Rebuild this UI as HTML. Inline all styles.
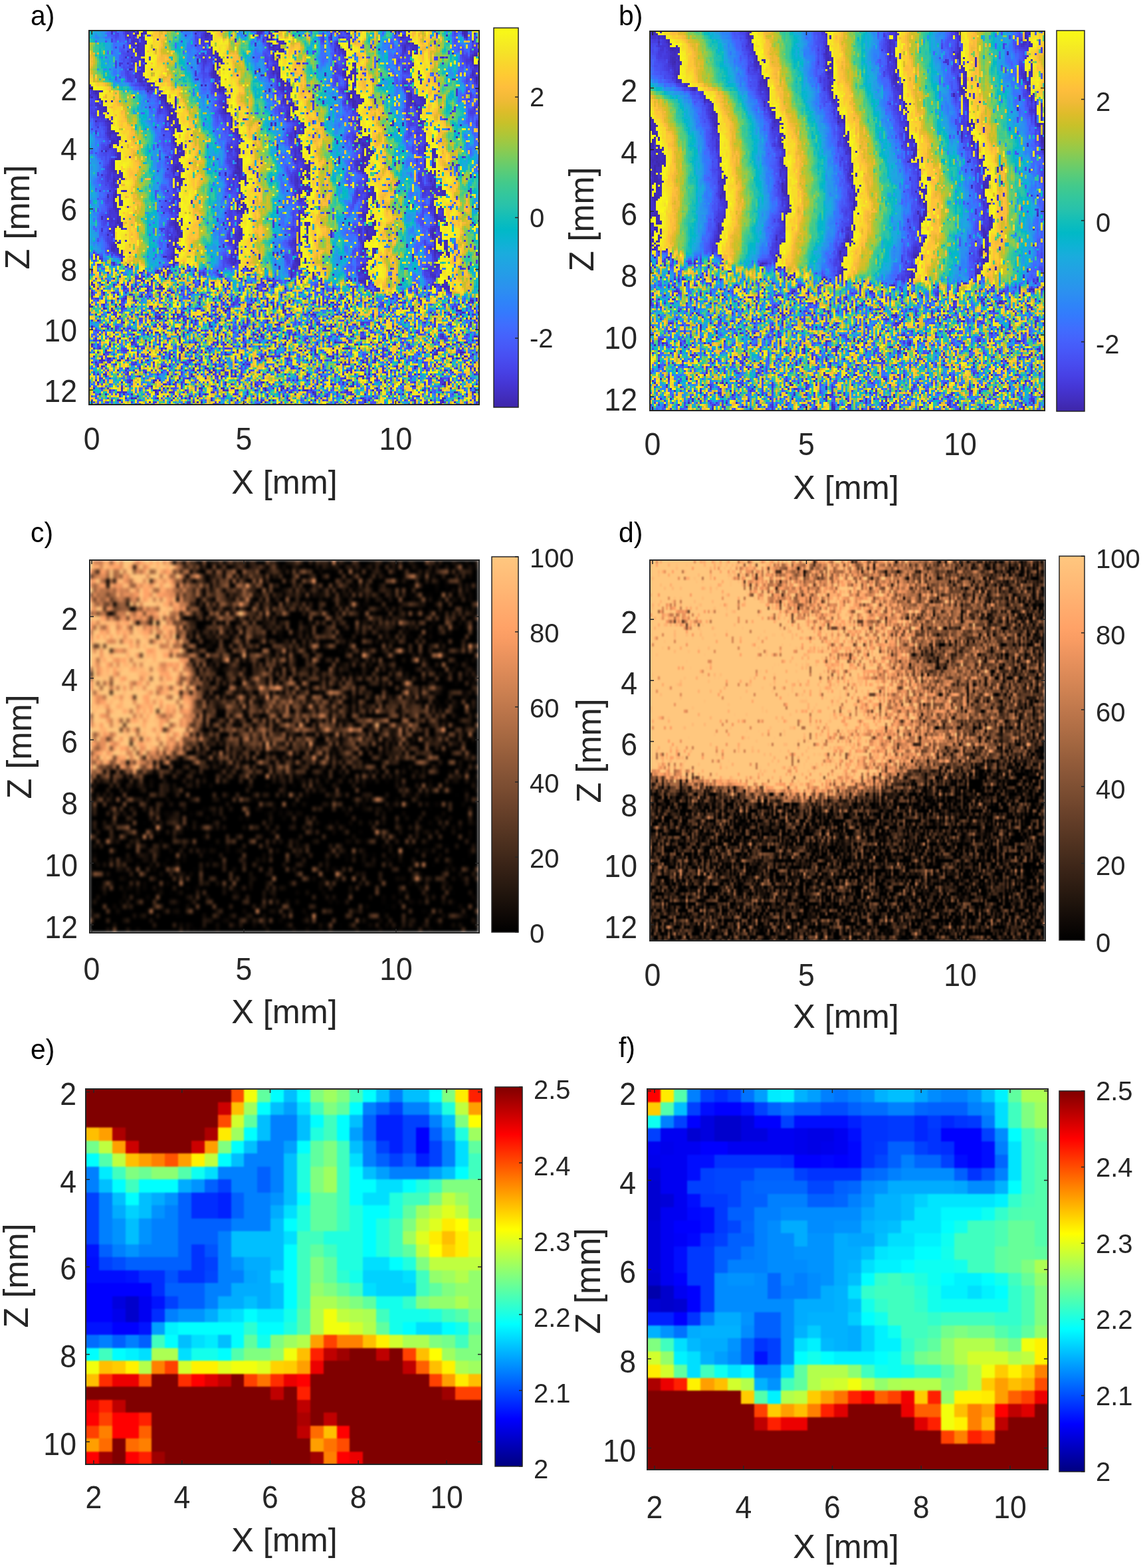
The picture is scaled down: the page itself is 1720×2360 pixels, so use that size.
<!DOCTYPE html>
<html lang="en"><head><meta charset="utf-8"><title>Figure</title>
<style>
html,body{margin:0;padding:0;background:#fff}
body{width:1720px;height:2360px;overflow:hidden}
svg{display:block;font-family:'Liberation Sans', Arial, Helvetica, sans-serif}
.bd rect{height:6px}
</style></head><body>
<svg width="1720" height="2360" viewBox="0 0 1720 2360">
<defs>
<linearGradient id="cb_parula" x1="0" y1="0" x2="0" y2="1"><stop offset="0" stop-color="#f9fb15"/><stop offset="0.03125" stop-color="#f6ef20"/><stop offset="0.0625" stop-color="#f5e327"/><stop offset="0.09375" stop-color="#f9d62d"/><stop offset="0.125" stop-color="#feca33"/><stop offset="0.1562" stop-color="#febe3c"/><stop offset="0.1875" stop-color="#f1ba37"/><stop offset="0.2188" stop-color="#debc2a"/><stop offset="0.25" stop-color="#c8c129"/><stop offset="0.2812" stop-color="#afc637"/><stop offset="0.3125" stop-color="#94ca4a"/><stop offset="0.3438" stop-color="#77cc60"/><stop offset="0.375" stop-color="#5ccc76"/><stop offset="0.4062" stop-color="#44ca8a"/><stop offset="0.4375" stop-color="#34c79c"/><stop offset="0.4688" stop-color="#28c2ab"/><stop offset="0.5" stop-color="#12beb9"/><stop offset="0.5312" stop-color="#01b9c6"/><stop offset="0.5625" stop-color="#0cb3d3"/><stop offset="0.5938" stop-color="#1aacdd"/><stop offset="0.625" stop-color="#21a3e3"/><stop offset="0.6562" stop-color="#269ae9"/><stop offset="0.6875" stop-color="#2c90f0"/><stop offset="0.7188" stop-color="#2e85f8"/><stop offset="0.75" stop-color="#347afd"/><stop offset="0.7812" stop-color="#3f6efe"/><stop offset="0.8125" stop-color="#4562fc"/><stop offset="0.8438" stop-color="#4757f7"/><stop offset="0.875" stop-color="#484cef"/><stop offset="0.9062" stop-color="#4741e5"/><stop offset="0.9375" stop-color="#4536d5"/><stop offset="0.9688" stop-color="#422ebf"/><stop offset="1" stop-color="#3e26a8"/></linearGradient>
<linearGradient id="cb_copper" x1="0" y1="0" x2="0" y2="1"><stop offset="0" stop-color="#ffc77f"/><stop offset="0.03125" stop-color="#ffc17b"/><stop offset="0.0625" stop-color="#ffbb77"/><stop offset="0.09375" stop-color="#ffb573"/><stop offset="0.125" stop-color="#ffae6f"/><stop offset="0.1562" stop-color="#ffa86b"/><stop offset="0.1875" stop-color="#ffa267"/><stop offset="0.2188" stop-color="#f99c63"/><stop offset="0.25" stop-color="#ef955f"/><stop offset="0.2812" stop-color="#e58f5b"/><stop offset="0.3125" stop-color="#db8957"/><stop offset="0.3438" stop-color="#d18353"/><stop offset="0.375" stop-color="#c77d4f"/><stop offset="0.4062" stop-color="#bd764b"/><stop offset="0.4375" stop-color="#b37047"/><stop offset="0.4688" stop-color="#a96a43"/><stop offset="0.5" stop-color="#9f643f"/><stop offset="0.5312" stop-color="#955d3b"/><stop offset="0.5625" stop-color="#8b5738"/><stop offset="0.5938" stop-color="#815134"/><stop offset="0.625" stop-color="#784b30"/><stop offset="0.6562" stop-color="#6e442c"/><stop offset="0.6875" stop-color="#643e28"/><stop offset="0.7188" stop-color="#5a3824"/><stop offset="0.75" stop-color="#503220"/><stop offset="0.7812" stop-color="#462c1c"/><stop offset="0.8125" stop-color="#3c2518"/><stop offset="0.8438" stop-color="#321f14"/><stop offset="0.875" stop-color="#281910"/><stop offset="0.9062" stop-color="#1e130c"/><stop offset="0.9375" stop-color="#140c08"/><stop offset="0.9688" stop-color="#0a0604"/><stop offset="1" stop-color="#000000"/></linearGradient>
<linearGradient id="cb_jet" x1="0" y1="0" x2="0" y2="1"><stop offset="0" stop-color="#800000"/><stop offset="0.03125" stop-color="#9f0000"/><stop offset="0.0625" stop-color="#bf0000"/><stop offset="0.09375" stop-color="#df0000"/><stop offset="0.125" stop-color="#ff0000"/><stop offset="0.1562" stop-color="#ff2000"/><stop offset="0.1875" stop-color="#ff4000"/><stop offset="0.2188" stop-color="#ff6000"/><stop offset="0.25" stop-color="#ff8000"/><stop offset="0.2812" stop-color="#ff9f00"/><stop offset="0.3125" stop-color="#ffbf00"/><stop offset="0.3438" stop-color="#ffdf00"/><stop offset="0.375" stop-color="#ffff00"/><stop offset="0.4062" stop-color="#dfff20"/><stop offset="0.4375" stop-color="#bfff40"/><stop offset="0.4688" stop-color="#9fff60"/><stop offset="0.5" stop-color="#80ff80"/><stop offset="0.5312" stop-color="#60ff9f"/><stop offset="0.5625" stop-color="#40ffbf"/><stop offset="0.5938" stop-color="#20ffdf"/><stop offset="0.625" stop-color="#00ffff"/><stop offset="0.6562" stop-color="#00dfff"/><stop offset="0.6875" stop-color="#00bfff"/><stop offset="0.7188" stop-color="#009fff"/><stop offset="0.75" stop-color="#0080ff"/><stop offset="0.7812" stop-color="#0060ff"/><stop offset="0.8125" stop-color="#0040ff"/><stop offset="0.8438" stop-color="#0020ff"/><stop offset="0.875" stop-color="#0000ff"/><stop offset="0.9062" stop-color="#0000df"/><stop offset="0.9375" stop-color="#0000bf"/><stop offset="0.9688" stop-color="#00009f"/><stop offset="1" stop-color="#000080"/></linearGradient>
<linearGradient id="ramp" x1="0" y1="0" x2="1" y2="0"><stop offset="0" stop-color="#f00"/><stop offset="1" stop-color="#000"/></linearGradient>
<linearGradient id="rampA" x1="0" y1="0" x2="1" y2="0"><stop offset="0" stop-color="#f00"/><stop offset="1" stop-color="#800000"/></linearGradient>
<linearGradient id="rampB" x1="0" y1="0" x2="1" y2="0"><stop offset="0" stop-color="#800000"/><stop offset="1" stop-color="#000"/></linearGradient>
<filter id="blur12" x="-20%" y="-20%" width="140%" height="140%" color-interpolation-filters="sRGB"><feGaussianBlur stdDeviation="12"/></filter>
<filter id="blur6" x="-20%" y="-20%" width="140%" height="140%" color-interpolation-filters="sRGB"><feGaussianBlur stdDeviation="6"/></filter>
<linearGradient id="sg1" gradientUnits="userSpaceOnUse" x1="134" y1="0" x2="721" y2="0"><stop offset="0" stop-color="#000f40"/><stop offset="0.35" stop-color="#001480"/><stop offset="0.6" stop-color="#001acc"/><stop offset="1" stop-color="#001fe6"/></linearGradient>
<filter id="fa" filterUnits="userSpaceOnUse" x="134" y="46" width="587" height="563" color-interpolation-filters="sRGB">
<feTurbulence type="fractalNoise" baseFrequency="0.3 0.12" numOctaves="1" seed="3" result="t1"/>
<feTurbulence type="fractalNoise" baseFrequency="0.1 0.05" numOctaves="2" seed="8" result="t2"/>
<feComposite in="t1" in2="t2" operator="arithmetic" k1="0" k2="0.18" k3="0.82" k4="0"/>
<feColorMatrix type="matrix" values="1 0 0 0 0 1 0 0 0 0 1 0 0 0 0 0 0 0 0 1"/>
<feComponentTransfer result="n"><feFuncR type="table" tableValues="0 0 0 0 0 0 0 0 0 0 0 0 0 0 .001 .002 .003 .006 .01 .017 .026 .04 .057 .078 .105 .136 .173 .215 .262 .315 .372 .434 .492 .565 .626 .683 .735 .782 .824 .861 .892 .918 .94 .958 .971 .981 .988 .993 .996 .998 .999 .999 1 1 1 1 1 1 1 1 1 1 1 1 1"/><feFuncG type="table" tableValues="0 0 0 0 0 0 0 0 0 0 0 0 0 0 .001 .002 .003 .006 .01 .017 .026 .04 .057 .078 .105 .136 .173 .215 .262 .315 .372 .434 .492 .565 .626 .683 .735 .782 .824 .861 .892 .918 .94 .958 .971 .981 .988 .993 .996 .998 .999 .999 1 1 1 1 1 1 1 1 1 1 1 1 1"/><feFuncB type="table" tableValues="0 0 0 0 0 0 0 0 0 0 0 0 0 0 .001 .002 .003 .006 .01 .017 .026 .04 .057 .078 .105 .136 .173 .215 .262 .315 .372 .434 .492 .565 .626 .683 .735 .782 .824 .861 .892 .918 .94 .958 .971 .981 .988 .993 .996 .998 .999 .999 1 1 1 1 1 1 1 1 1 1 1 1 1"/></feComponentTransfer>
<feColorMatrix in="t1" type="matrix" values="0 1 0 0 0 0 1 0 0 0 0 1 0 0 0 0 0 0 0 1"/>
<feComponentTransfer result="o"><feFuncR type="discrete" tableValues="0 0 0 0 0 0 0 0 0 0 0 0 0 0 0 0 0 0 0 0 0 0 .5 .5 .5 .5 .5 .5 .5 .5 .5 .5 .5 .5 .5 .5 .5 .5 .5 .5 .5 .5 .5 .5 1 1 1 1 1 1 1 1 1 1 1 1 1 1 1 1 1 1 1 1 1"/><feFuncG type="discrete" tableValues="0 0 0 0 0 0 0 0 0 0 0 0 0 0 0 0 0 0 0 0 0 0 .5 .5 .5 .5 .5 .5 .5 .5 .5 .5 .5 .5 .5 .5 .5 .5 .5 .5 .5 .5 .5 .5 1 1 1 1 1 1 1 1 1 1 1 1 1 1 1 1 1 1 1 1 1"/><feFuncB type="discrete" tableValues="0 0 0 0 0 0 0 0 0 0 0 0 0 0 0 0 0 0 0 0 0 0 .5 .5 .5 .5 .5 .5 .5 .5 .5 .5 .5 .5 .5 .5 .5 .5 .5 .5 .5 .5 .5 .5 1 1 1 1 1 1 1 1 1 1 1 1 1 1 1 1 1 1 1 1 1"/></feComponentTransfer>
<feColorMatrix in="SourceGraphic" type="matrix" values="1 0 0 0 0 1 0 0 0 0 1 0 0 0 0 0 0 0 0 1" result="ph"/>
<feColorMatrix in="SourceGraphic" type="matrix" values="0 1 0 0 0 0 1 0 0 0 0 1 0 0 0 0 0 0 0 1" result="sg"/>
<feColorMatrix in="SourceGraphic" type="matrix" values="0 0 1 0 0 0 0 1 0 0 0 0 1 0 0 0 0 0 0 1" result="om"/>
<feComposite in="n" in2="sg" operator="arithmetic" k1="1" k2="0" k3="-0.5" k4="0.5" result="ns"/>
<feComposite in="o" in2="om" operator="arithmetic" k1="1" k2="0" k3="-0.5" k4="0.5" result="os"/>
<feComposite in="ph" in2="ns" operator="arithmetic" k1="0" k2="0.25" k3="0.5" k4="0.125" result="u1"/>
<feComposite in="u1" in2="os" operator="arithmetic" k1="0" k2="1" k3="0.25" k4="-0.125"/>
<feComponentTransfer result="col"><feFuncR type="discrete" tableValues=".107 .163 .198 .236 .294 .365 .439 .519 .594 .665 .731 .79 .843 .89 .93 .965 .99 .997 .996 .993 .987 .979 .971 .965 .961 .96 .96 .962 .964 .968 .971 .975 .244 .248 .252 .256 .26 .264 .267 .271 .274 .276 .278 .28 .281 .281 .281 .279 .275 .267 .255 .233 .205 .185 .178 .173 .158 .145 .131 .112 .086 .037 .004 .035 .107 .163 .198 .236 .294 .365 .439 .519 .594 .665 .731 .79 .843 .89 .93 .965 .99 .997 .996 .993 .987 .979 .971 .965 .961 .96 .96 .962 .964 .968 .971 .975 .244 .248 .252 .256 .26 .264 .267 .271 .274 .276 .278 .28 .281 .281 .281 .279 .275 .267 .255 .233 .205 .185 .178 .173 .158 .145 .131 .112 .086 .037 .004 .035 .107 .163 .198 .236 .294 .365 .439 .519 .594 .665 .731 .79 .843 .89 .93 .965 .99 .997 .996 .993 .987 .979 .971 .965 .961 .96 .96 .962 .964 .968 .971 .975 .244 .248 .252 .256 .26 .264 .267 .271 .274 .276 .278 .28 .281 .281 .281 .279 .275 .267 .255 .233 .205 .185 .178 .173 .158 .145 .131 .112 .086 .037 .004 .035 .107 .163 .198 .236 .294 .365 .439 .519 .594 .665 .731 .79 .843 .89 .93 .965 .99 .997 .996 .993 .987 .979 .971 .965 .961 .96 .96 .962 .964 .968 .971 .975 .244 .248 .252 .256 .26 .264 .267 .271 .274 .276 .278 .28 .281 .281 .281 .279 .275 .267 .255 .233 .205 .185 .178 .173 .158 .145 .131 .112 .086 .037 .004 .035"/><feFuncG type="discrete" tableValues=".752 .765 .777 .789 .798 .802 .802 .798 .79 .78 .768 .756 .745 .736 .73 .73 .74 .759 .779 .799 .819 .838 .856 .873 .889 .903 .917 .93 .943 .955 .967 .978 .154 .161 .169 .178 .186 .195 .205 .215 .227 .241 .257 .273 .291 .31 .33 .35 .372 .395 .42 .447 .476 .504 .531 .558 .585 .611 .637 .662 .685 .706 .723 .739 .752 .765 .777 .789 .798 .802 .802 .798 .79 .78 .768 .756 .745 .736 .73 .73 .74 .759 .779 .799 .819 .838 .856 .873 .889 .903 .917 .93 .943 .955 .967 .978 .154 .161 .169 .178 .186 .195 .205 .215 .227 .241 .257 .273 .291 .31 .33 .35 .372 .395 .42 .447 .476 .504 .531 .558 .585 .611 .637 .662 .685 .706 .723 .739 .752 .765 .777 .789 .798 .802 .802 .798 .79 .78 .768 .756 .745 .736 .73 .73 .74 .759 .779 .799 .819 .838 .856 .873 .889 .903 .917 .93 .943 .955 .967 .978 .154 .161 .169 .178 .186 .195 .205 .215 .227 .241 .257 .273 .291 .31 .33 .35 .372 .395 .42 .447 .476 .504 .531 .558 .585 .611 .637 .662 .685 .706 .723 .739 .752 .765 .777 .789 .798 .802 .802 .798 .79 .78 .768 .756 .745 .736 .73 .73 .74 .759 .779 .799 .819 .838 .856 .873 .889 .903 .917 .93 .943 .955 .967 .978 .154 .161 .169 .178 .186 .195 .205 .215 .227 .241 .257 .273 .291 .31 .33 .35 .372 .395 .42 .447 .476 .504 .531 .558 .585 .611 .637 .662 .685 .706 .723 .739"/><feFuncB type="discrete" tableValues=".705 .664 .619 .57 .516 .458 .396 .337 .279 .227 .187 .161 .157 .171 .201 .232 .238 .225 .21 .197 .186 .177 .168 .161 .154 .147 .14 .131 .122 .111 .1 .087 .672 .695 .718 .741 .764 .788 .812 .837 .859 .88 .9 .917 .933 .948 .962 .975 .985 .992 .996 .998 .992 .981 .966 .945 .925 .907 .893 .877 .852 .82 .784 .746 .705 .664 .619 .57 .516 .458 .396 .337 .279 .227 .187 .161 .157 .171 .201 .232 .238 .225 .21 .197 .186 .177 .168 .161 .154 .147 .14 .131 .122 .111 .1 .087 .672 .695 .718 .741 .764 .788 .812 .837 .859 .88 .9 .917 .933 .948 .962 .975 .985 .992 .996 .998 .992 .981 .966 .945 .925 .907 .893 .877 .852 .82 .784 .746 .705 .664 .619 .57 .516 .458 .396 .337 .279 .227 .187 .161 .157 .171 .201 .232 .238 .225 .21 .197 .186 .177 .168 .161 .154 .147 .14 .131 .122 .111 .1 .087 .672 .695 .718 .741 .764 .788 .812 .837 .859 .88 .9 .917 .933 .948 .962 .975 .985 .992 .996 .998 .992 .981 .966 .945 .925 .907 .893 .877 .852 .82 .784 .746 .705 .664 .619 .57 .516 .458 .396 .337 .279 .227 .187 .161 .157 .171 .201 .232 .238 .225 .21 .197 .186 .177 .168 .161 .154 .147 .14 .131 .122 .111 .1 .087 .672 .695 .718 .741 .764 .788 .812 .837 .859 .88 .9 .917 .933 .948 .962 .975 .985 .992 .996 .998 .992 .981 .966 .945 .925 .907 .893 .877 .852 .82 .784 .746"/></feComponentTransfer>
<feFlood x="135" y="47" width="1" height="1" flood-color="#000"/>
<feOffset x="134" y="46" width="3" height="3"/>
<feTile result="dots"/>
<feComposite in="col" in2="dots" operator="in"/>
<feMorphology operator="dilate" radius="1 1"/>
</filter>
<clipPath id="clipa"><rect x="134" y="46" width="587" height="563"/></clipPath>
<linearGradient id="sg2" gradientUnits="userSpaceOnUse" x1="978" y1="0" x2="1572" y2="0"><stop offset="0" stop-color="#00080d"/><stop offset="0.5" stop-color="#000a1a"/><stop offset="0.8" stop-color="#000f59"/><stop offset="1" stop-color="#001499"/></linearGradient>
<filter id="fb" filterUnits="userSpaceOnUse" x="978" y="47" width="594" height="571" color-interpolation-filters="sRGB">
<feTurbulence type="fractalNoise" baseFrequency="0.3 0.08" numOctaves="1" seed="11" result="t1"/>
<feTurbulence type="fractalNoise" baseFrequency="0.12 0.04" numOctaves="2" seed="16" result="t2"/>
<feComposite in="t1" in2="t2" operator="arithmetic" k1="0" k2="0.25" k3="0.75" k4="0"/>
<feColorMatrix type="matrix" values="1 0 0 0 0 1 0 0 0 0 1 0 0 0 0 0 0 0 0 1"/>
<feComponentTransfer result="n"><feFuncR type="table" tableValues="0 0 0 0 0 0 0 0 0 0 0 0 0 0 .001 .001 .003 .005 .009 .014 .024 .035 .051 .071 .095 .125 .161 .203 .251 .306 .366 .431 .491 .569 .633 .692 .745 .792 .834 .87 .9 .926 .947 .963 .976 .985 .991 .995 .997 .999 .999 1 1 1 1 1 1 1 1 1 1 1 1 1 1"/><feFuncG type="table" tableValues="0 0 0 0 0 0 0 0 0 0 0 0 0 0 .001 .001 .003 .005 .009 .014 .024 .035 .051 .071 .095 .125 .161 .203 .251 .306 .366 .431 .491 .569 .633 .692 .745 .792 .834 .87 .9 .926 .947 .963 .976 .985 .991 .995 .997 .999 .999 1 1 1 1 1 1 1 1 1 1 1 1 1 1"/><feFuncB type="table" tableValues="0 0 0 0 0 0 0 0 0 0 0 0 0 0 .001 .001 .003 .005 .009 .014 .024 .035 .051 .071 .095 .125 .161 .203 .251 .306 .366 .431 .491 .569 .633 .692 .745 .792 .834 .87 .9 .926 .947 .963 .976 .985 .991 .995 .997 .999 .999 1 1 1 1 1 1 1 1 1 1 1 1 1 1"/></feComponentTransfer>
<feColorMatrix in="t1" type="matrix" values="0 1 0 0 0 0 1 0 0 0 0 1 0 0 0 0 0 0 0 1"/>
<feComponentTransfer result="o"><feFuncR type="discrete" tableValues="0 0 0 0 0 0 0 0 0 0 0 0 0 0 0 0 0 0 0 0 0 0 .5 .5 .5 .5 .5 .5 .5 .5 .5 .5 .5 .5 .5 .5 .5 .5 .5 .5 .5 .5 .5 1 1 1 1 1 1 1 1 1 1 1 1 1 1 1 1 1 1 1 1 1 1"/><feFuncG type="discrete" tableValues="0 0 0 0 0 0 0 0 0 0 0 0 0 0 0 0 0 0 0 0 0 0 .5 .5 .5 .5 .5 .5 .5 .5 .5 .5 .5 .5 .5 .5 .5 .5 .5 .5 .5 .5 .5 1 1 1 1 1 1 1 1 1 1 1 1 1 1 1 1 1 1 1 1 1 1"/><feFuncB type="discrete" tableValues="0 0 0 0 0 0 0 0 0 0 0 0 0 0 0 0 0 0 0 0 0 0 .5 .5 .5 .5 .5 .5 .5 .5 .5 .5 .5 .5 .5 .5 .5 .5 .5 .5 .5 .5 .5 1 1 1 1 1 1 1 1 1 1 1 1 1 1 1 1 1 1 1 1 1 1"/></feComponentTransfer>
<feColorMatrix in="SourceGraphic" type="matrix" values="1 0 0 0 0 1 0 0 0 0 1 0 0 0 0 0 0 0 0 1" result="ph"/>
<feColorMatrix in="SourceGraphic" type="matrix" values="0 1 0 0 0 0 1 0 0 0 0 1 0 0 0 0 0 0 0 1" result="sg"/>
<feColorMatrix in="SourceGraphic" type="matrix" values="0 0 1 0 0 0 0 1 0 0 0 0 1 0 0 0 0 0 0 1" result="om"/>
<feComposite in="n" in2="sg" operator="arithmetic" k1="1" k2="0" k3="-0.5" k4="0.5" result="ns"/>
<feComposite in="o" in2="om" operator="arithmetic" k1="1" k2="0" k3="-0.5" k4="0.5" result="os"/>
<feComposite in="ph" in2="ns" operator="arithmetic" k1="0" k2="0.25" k3="0.5" k4="0.125" result="u1"/>
<feComposite in="u1" in2="os" operator="arithmetic" k1="0" k2="1" k3="0.25" k4="-0.125"/>
<feComponentTransfer result="col"><feFuncR type="discrete" tableValues=".099 .147 .179 .204 .234 .277 .33 .386 .445 .508 .569 .627 .684 .737 .786 .832 .873 .911 .945 .975 .996 .997 .995 .991 .983 .973 .965 .961 .96 .963 .967 .974 .246 .252 .258 .264 .269 .273 .277 .279 .281 .281 .281 .28 .276 .271 .262 .248 .227 .203 .187 .18 .177 .17 .155 .146 .137 .122 .106 .084 .047 .012 .006 .041 .099 .147 .179 .204 .234 .277 .33 .386 .445 .508 .569 .627 .684 .737 .786 .832 .873 .911 .945 .975 .996 .997 .995 .991 .983 .973 .965 .961 .96 .963 .967 .974 .246 .252 .258 .264 .269 .273 .277 .279 .281 .281 .281 .28 .276 .271 .262 .248 .227 .203 .187 .18 .177 .17 .155 .146 .137 .122 .106 .084 .047 .012 .006 .041 .099 .147 .179 .204 .234 .277 .33 .386 .445 .508 .569 .627 .684 .737 .786 .832 .873 .911 .945 .975 .996 .997 .995 .991 .983 .973 .965 .961 .96 .963 .967 .974 .246 .252 .258 .264 .269 .273 .277 .279 .281 .281 .281 .28 .276 .271 .262 .248 .227 .203 .187 .18 .177 .17 .155 .146 .137 .122 .106 .084 .047 .012 .006 .041 .099 .147 .179 .204 .234 .277 .33 .386 .445 .508 .569 .627 .684 .737 .786 .832 .873 .911 .945 .975 .996 .997 .995 .991 .983 .973 .965 .961 .96 .963 .967 .974 .246 .252 .258 .264 .269 .273 .277 .279 .281 .281 .281 .28 .276 .271 .262 .248 .227 .203 .187 .18 .177 .17 .155 .146 .137 .122 .106 .084 .047 .012 .006 .041"/><feFuncG type="discrete" tableValues=".751 .76 .77 .78 .789 .796 .8 .803 .802 .799 .793 .786 .777 .767 .757 .747 .739 .732 .729 .731 .744 .765 .786 .807 .829 .851 .873 .894 .915 .935 .955 .974 .157 .169 .183 .197 .211 .227 .245 .264 .284 .304 .324 .344 .364 .385 .407 .43 .454 .478 .502 .524 .546 .568 .589 .609 .63 .65 .669 .686 .702 .716 .729 .74 .751 .76 .77 .78 .789 .796 .8 .803 .802 .799 .793 .786 .777 .767 .757 .747 .739 .732 .729 .731 .744 .765 .786 .807 .829 .851 .873 .894 .915 .935 .955 .974 .157 .169 .183 .197 .211 .227 .245 .264 .284 .304 .324 .344 .364 .385 .407 .43 .454 .478 .502 .524 .546 .568 .589 .609 .63 .65 .669 .686 .702 .716 .729 .74 .751 .76 .77 .78 .789 .796 .8 .803 .802 .799 .793 .786 .777 .767 .757 .747 .739 .732 .729 .731 .744 .765 .786 .807 .829 .851 .873 .894 .915 .935 .955 .974 .157 .169 .183 .197 .211 .227 .245 .264 .284 .304 .324 .344 .364 .385 .407 .43 .454 .478 .502 .524 .546 .568 .589 .609 .63 .65 .669 .686 .702 .716 .729 .74 .751 .76 .77 .78 .789 .796 .8 .803 .802 .799 .793 .786 .777 .767 .757 .747 .739 .732 .729 .731 .744 .765 .786 .807 .829 .851 .873 .894 .915 .935 .955 .974 .157 .169 .183 .197 .211 .227 .245 .264 .284 .304 .324 .344 .364 .385 .407 .43 .454 .478 .502 .524 .546 .568 .589 .609 .63 .65 .669 .686 .702 .716 .729 .74"/><feFuncB type="discrete" tableValues=".71 .679 .646 .61 .572 .531 .487 .44 .392 .345 .299 .254 .216 .184 .162 .155 .164 .184 .215 .239 .236 .221 .205 .192 .181 .17 .16 .151 .141 .128 .112 .091 .68 .719 .755 .792 .828 .859 .885 .908 .927 .944 .959 .971 .982 .989 .994 .998 .998 .991 .982 .971 .955 .938 .923 .908 .896 .886 .871 .851 .827 .8 .771 .741 .71 .679 .646 .61 .572 .531 .487 .44 .392 .345 .299 .254 .216 .184 .162 .155 .164 .184 .215 .239 .236 .221 .205 .192 .181 .17 .16 .151 .141 .128 .112 .091 .68 .719 .755 .792 .828 .859 .885 .908 .927 .944 .959 .971 .982 .989 .994 .998 .998 .991 .982 .971 .955 .938 .923 .908 .896 .886 .871 .851 .827 .8 .771 .741 .71 .679 .646 .61 .572 .531 .487 .44 .392 .345 .299 .254 .216 .184 .162 .155 .164 .184 .215 .239 .236 .221 .205 .192 .181 .17 .16 .151 .141 .128 .112 .091 .68 .719 .755 .792 .828 .859 .885 .908 .927 .944 .959 .971 .982 .989 .994 .998 .998 .991 .982 .971 .955 .938 .923 .908 .896 .886 .871 .851 .827 .8 .771 .741 .71 .679 .646 .61 .572 .531 .487 .44 .392 .345 .299 .254 .216 .184 .162 .155 .164 .184 .215 .239 .236 .221 .205 .192 .181 .17 .16 .151 .141 .128 .112 .091 .68 .719 .755 .792 .828 .859 .885 .908 .927 .944 .959 .971 .982 .989 .994 .998 .998 .991 .982 .971 .955 .938 .923 .908 .896 .886 .871 .851 .827 .8 .771 .741"/></feComponentTransfer>
<feFlood x="979" y="48" width="1" height="1" flood-color="#000"/>
<feOffset x="978" y="47" width="3" height="3"/>
<feTile result="dots"/>
<feComposite in="col" in2="dots" operator="in"/>
<feMorphology operator="dilate" radius="1 1"/>
</filter>
<clipPath id="clipb"><rect x="978" y="47" width="594" height="571"/></clipPath>
<linearGradient id="lg1" gradientUnits="userSpaceOnUse" x1="135" y1="0" x2="721" y2="0"><stop offset="0" stop-color="#3d0000"/><stop offset="0.45" stop-color="#3b0000"/><stop offset="0.7" stop-color="#350000"/><stop offset="1" stop-color="#310000"/></linearGradient>
<radialGradient id="rg2" gradientUnits="userSpaceOnUse" cx="0" cy="0" r="1" gradientTransform="translate(356 902) rotate(0) scale(50 80)"><stop offset="0" stop-color="#520000" stop-opacity="1"/><stop offset="0.3" stop-color="#520000" stop-opacity="1"/><stop offset="1" stop-color="#520000" stop-opacity="0"/></radialGradient>
<radialGradient id="rg3" gradientUnits="userSpaceOnUse" cx="0" cy="0" r="1" gradientTransform="translate(420 1080) rotate(0) scale(120 100)"><stop offset="0" stop-color="#4e0000" stop-opacity="1"/><stop offset="0.3" stop-color="#4e0000" stop-opacity="1"/><stop offset="1" stop-color="#4e0000" stop-opacity="0"/></radialGradient>
<radialGradient id="rg4" gradientUnits="userSpaceOnUse" cx="0" cy="0" r="1" gradientTransform="translate(520 1090) rotate(0) scale(90 70)"><stop offset="0" stop-color="#470000" stop-opacity="1"/><stop offset="0.3" stop-color="#470000" stop-opacity="1"/><stop offset="1" stop-color="#470000" stop-opacity="0"/></radialGradient>
<radialGradient id="rg5" gradientUnits="userSpaceOnUse" cx="0" cy="0" r="1" gradientTransform="translate(610 1085) rotate(0) scale(60 65)"><stop offset="0" stop-color="#4b0000" stop-opacity="1"/><stop offset="0.3" stop-color="#4b0000" stop-opacity="1"/><stop offset="1" stop-color="#4b0000" stop-opacity="0"/></radialGradient>
<radialGradient id="rg6" gradientUnits="userSpaceOnUse" cx="0" cy="0" r="1" gradientTransform="translate(670 1095) rotate(0) scale(25 40)"><stop offset="0" stop-color="#430000" stop-opacity="1"/><stop offset="0.3" stop-color="#430000" stop-opacity="1"/><stop offset="1" stop-color="#430000" stop-opacity="0"/></radialGradient>
<radialGradient id="rg7" gradientUnits="userSpaceOnUse" cx="0" cy="0" r="1" gradientTransform="translate(292 900) rotate(0) scale(20 80)"><stop offset="0" stop-color="#330000" stop-opacity="1"/><stop offset="0.3" stop-color="#330000" stop-opacity="1"/><stop offset="1" stop-color="#330000" stop-opacity="0"/></radialGradient>
<radialGradient id="rg8" gradientUnits="userSpaceOnUse" cx="0" cy="0" r="1" gradientTransform="translate(200 1250) rotate(0) scale(120 80)"><stop offset="0" stop-color="#350000" stop-opacity="1"/><stop offset="0.3" stop-color="#350000" stop-opacity="1"/><stop offset="1" stop-color="#350000" stop-opacity="0"/></radialGradient>
<radialGradient id="rg9" gradientUnits="userSpaceOnUse" cx="0" cy="0" r="1" gradientTransform="translate(185 918) rotate(18) scale(75 20)"><stop offset="0" stop-color="#4c0000" stop-opacity="1"/><stop offset="0.5" stop-color="#4c0000" stop-opacity="1"/><stop offset="1" stop-color="#4c0000" stop-opacity="0"/></radialGradient>
<radialGradient id="rg10" gradientUnits="userSpaceOnUse" cx="0" cy="0" r="1" gradientTransform="translate(160 868) rotate(0) scale(60 35)"><stop offset="0" stop-color="#750000" stop-opacity="1"/><stop offset="0.4" stop-color="#750000" stop-opacity="1"/><stop offset="1" stop-color="#750000" stop-opacity="0"/></radialGradient>
<radialGradient id="rg11" gradientUnits="userSpaceOnUse" cx="0" cy="0" r="1" gradientTransform="translate(140 1150) rotate(0) scale(40 30)"><stop offset="0" stop-color="#6b0000" stop-opacity="1"/><stop offset="0.3" stop-color="#6b0000" stop-opacity="1"/><stop offset="1" stop-color="#6b0000" stop-opacity="0"/></radialGradient>
<radialGradient id="rg12" gradientUnits="userSpaceOnUse" cx="0" cy="0" r="1" gradientTransform="translate(283 880) rotate(0) scale(18 60)"><stop offset="0" stop-color="#660000" stop-opacity="1"/><stop offset="0.3" stop-color="#660000" stop-opacity="1"/><stop offset="1" stop-color="#660000" stop-opacity="0"/></radialGradient>
<radialGradient id="rg13" gradientUnits="userSpaceOnUse" cx="0" cy="0" r="1" gradientTransform="translate(200 1020) rotate(0) scale(40 120)"><stop offset="0" stop-color="#990000" stop-opacity="1"/><stop offset="0.3" stop-color="#990000" stop-opacity="1"/><stop offset="1" stop-color="#990000" stop-opacity="0"/></radialGradient>
<filter id="fc" filterUnits="userSpaceOnUse" x="135" y="843" width="586" height="561" color-interpolation-filters="sRGB">
<feTurbulence type="fractalNoise" baseFrequency="0.17 0.125" numOctaves="1" seed="5" result="t1"/>
<feTurbulence type="fractalNoise" baseFrequency="0.05 0.04" numOctaves="2" seed="12" result="t2"/>
<feComposite in="t1" in2="t2" operator="arithmetic" k1="0" k2="0.75" k3="0.25" k4="0"/>
<feColorMatrix type="matrix" values="1 0 0 0 0 1 0 0 0 0 1 0 0 0 0 0 0 0 0 1"/>
<feComponentTransfer result="n"><feFuncR type="table" tableValues="0 0 0 0 0 0 0 0 0 0 0 0 0 0 0 0 0 0 0 0 0 .087 .165 .222 .265 .302 .333 .363 .39 .418 .446 .473 .497 .524 .548 .572 .595 .618 .641 .664 .689 .716 .745 .778 .814 .859 .926 1 1 1 1 1 1 1 1 1 1 1 1 1 1 1 1 1 1"/><feFuncG type="table" tableValues="0 0 0 0 0 0 0 0 0 0 0 0 0 0 0 0 0 0 0 0 0 .087 .165 .222 .265 .302 .333 .363 .39 .418 .446 .473 .497 .524 .548 .572 .595 .618 .641 .664 .689 .716 .745 .778 .814 .859 .926 1 1 1 1 1 1 1 1 1 1 1 1 1 1 1 1 1 1"/><feFuncB type="table" tableValues="0 0 0 0 0 0 0 0 0 0 0 0 0 0 0 0 0 0 0 0 0 .087 .165 .222 .265 .302 .333 .363 .39 .418 .446 .473 .497 .524 .548 .572 .595 .618 .641 .664 .689 .716 .745 .778 .814 .859 .926 1 1 1 1 1 1 1 1 1 1 1 1 1 1 1 1 1 1"/></feComponentTransfer>
<feGaussianBlur in="SourceGraphic" stdDeviation="14"/>
<feColorMatrix type="matrix" values="1 0 0 0 0 1 0 0 0 0 1 0 0 0 0 0 0 0 0 1" result="L"/>
<feComposite in="L" in2="n" operator="arithmetic" k1="0" k2="0.625" k3="0.375" k4="0"/>
<feComponentTransfer result="col"><feFuncR type="discrete" tableValues="0 0 0 0 0 0 0 0 0 0 0 0 0 0 0 0 0 0 0 0 0 0 0 0 0 0 0 0 0 0 0 0 0 0 0 0 0 0 0 0 0 0 0 0 0 0 0 0 0 0 0 0 0 0 0 0 0 0 0 0 0 0 0 0 0 0 0 0 0 0 0 0 0 0 0 0 0 0 0 0 .01 .029 .049 .068 .088 .107 .127 .146 .166 .186 .205 .225 .244 .264 .283 .303 .322 .342 .361 .381 .4 .42 .439 .459 .479 .498 .518 .537 .557 .576 .596 .615 .635 .654 .674 .693 .713 .732 .752 .771 .791 .811 .83 .85 .869 .889 .908 .928 .947 .967 .986 1 1 1 1 1 1 1 1 1 1 1 1 1 1 1 1 1 1 1 1 1 1 1 1 1 1 1 1 1 1 1 1 1 1 1 1 1 1 1 1 1 1 1 1 1 1 1 1 1 1 1 1 1 1 1 1 1 1 1 1 1 1 1 1 1 1 1 1 1 1 1 1 1 1 1 1 1 1 1 1 1 1 1 1 1 1 1 1 1 1 1 1 1 1 1 1 1 1 1 1 1 1 1 1 1 1 1 1 1 1 1 1 1 1 1 1 1 1 1 1 1 1 1 1 1"/><feFuncG type="discrete" tableValues="0 0 0 0 0 0 0 0 0 0 0 0 0 0 0 0 0 0 0 0 0 0 0 0 0 0 0 0 0 0 0 0 0 0 0 0 0 0 0 0 0 0 0 0 0 0 0 0 0 0 0 0 0 0 0 0 0 0 0 0 0 0 0 0 0 0 0 0 0 0 0 0 0 0 0 0 0 0 0 0 .006 .018 .031 .043 .055 .067 .079 .092 .104 .116 .128 .14 .153 .165 .177 .189 .201 .214 .226 .238 .25 .262 .275 .287 .299 .311 .323 .336 .348 .36 .372 .384 .397 .409 .421 .433 .446 .458 .47 .482 .494 .507 .519 .531 .543 .555 .568 .58 .592 .604 .616 .629 .641 .653 .665 .677 .69 .702 .714 .726 .738 .751 .763 .775 .781 .781 .781 .781 .781 .781 .781 .781 .781 .781 .781 .781 .781 .781 .781 .781 .781 .781 .781 .781 .781 .781 .781 .781 .781 .781 .781 .781 .781 .781 .781 .781 .781 .781 .781 .781 .781 .781 .781 .781 .781 .781 .781 .781 .781 .781 .781 .781 .781 .781 .781 .781 .781 .781 .781 .781 .781 .781 .781 .781 .781 .781 .781 .781 .781 .781 .781 .781 .781 .781 .781 .781 .781 .781 .781 .781 .781 .781 .781 .781 .781 .781 .781 .781 .781 .781 .781 .781 .781 .781 .781 .781 .781 .781 .781 .781 .781 .781 .781 .781 .781 .781 .781 .781 .781 .781 .781 .781 .781 .781 .781 .781"/><feFuncB type="discrete" tableValues="0 0 0 0 0 0 0 0 0 0 0 0 0 0 0 0 0 0 0 0 0 0 0 0 0 0 0 0 0 0 0 0 0 0 0 0 0 0 0 0 0 0 0 0 0 0 0 0 0 0 0 0 0 0 0 0 0 0 0 0 0 0 0 0 0 0 0 0 0 0 0 0 0 0 0 0 0 0 0 0 .004 .012 .019 .027 .035 .043 .051 .058 .066 .074 .082 .089 .097 .105 .113 .12 .128 .136 .144 .152 .159 .167 .175 .183 .19 .198 .206 .214 .222 .229 .237 .245 .253 .26 .268 .276 .284 .292 .299 .307 .315 .323 .33 .338 .346 .354 .361 .369 .377 .385 .393 .4 .408 .416 .424 .431 .439 .447 .455 .463 .47 .478 .486 .494 .497 .497 .497 .497 .497 .497 .497 .497 .497 .497 .497 .497 .497 .497 .497 .497 .497 .497 .497 .497 .497 .497 .497 .497 .497 .497 .497 .497 .497 .497 .497 .497 .497 .497 .497 .497 .497 .497 .497 .497 .497 .497 .497 .497 .497 .497 .497 .497 .497 .497 .497 .497 .497 .497 .497 .497 .497 .497 .497 .497 .497 .497 .497 .497 .497 .497 .497 .497 .497 .497 .497 .497 .497 .497 .497 .497 .497 .497 .497 .497 .497 .497 .497 .497 .497 .497 .497 .497 .497 .497 .497 .497 .497 .497 .497 .497 .497 .497 .497 .497 .497 .497 .497 .497 .497 .497 .497 .497 .497 .497 .497 .497"/></feComponentTransfer>
<feFlood x="137" y="846" width="1" height="1" flood-color="#000"/>
<feOffset x="135" y="843" width="5" height="7"/>
<feTile result="dots"/>
<feComposite in="col" in2="dots" operator="in"/>
<feMorphology operator="dilate" radius="2 3"/>
<feGaussianBlur stdDeviation="2"/>
</filter>
<clipPath id="clipc"><rect x="135" y="843" width="586" height="561"/></clipPath>
<radialGradient id="rg14" gradientUnits="userSpaceOnUse" cx="0" cy="0" r="1" gradientTransform="translate(960 1050) rotate(0) scale(680 560)"><stop offset="0" stop-color="#ba0000"/><stop offset="0.25" stop-color="#b60000"/><stop offset="0.36" stop-color="#ab0000"/><stop offset="0.5" stop-color="#950000"/><stop offset="0.65" stop-color="#700000"/><stop offset="0.8" stop-color="#560000"/><stop offset="0.9" stop-color="#470000"/><stop offset="1" stop-color="#3b0000"/></radialGradient>
<linearGradient id="lg15" gradientUnits="userSpaceOnUse" x1="978" y1="0" x2="1573" y2="0"><stop offset="0" stop-color="#3f0000"/><stop offset="0.5" stop-color="#3d0000"/><stop offset="1" stop-color="#390000"/></linearGradient>
<radialGradient id="rg16" gradientUnits="userSpaceOnUse" cx="0" cy="0" r="1" gradientTransform="translate(1195 905) rotate(22) scale(90 28)"><stop offset="0" stop-color="#700000" stop-opacity="1"/><stop offset="0.4" stop-color="#700000" stop-opacity="1"/><stop offset="1" stop-color="#700000" stop-opacity="0"/></radialGradient>
<radialGradient id="rg17" gradientUnits="userSpaceOnUse" cx="0" cy="0" r="1" gradientTransform="translate(1215 862) rotate(10) scale(60 26)"><stop offset="0" stop-color="#660000" stop-opacity="1"/><stop offset="0.4" stop-color="#660000" stop-opacity="1"/><stop offset="1" stop-color="#660000" stop-opacity="0"/></radialGradient>
<radialGradient id="rg18" gradientUnits="userSpaceOnUse" cx="0" cy="0" r="1" gradientTransform="translate(1130 868) rotate(0) scale(35 30)"><stop offset="0" stop-color="#7a0000" stop-opacity="1"/><stop offset="0.3" stop-color="#7a0000" stop-opacity="1"/><stop offset="1" stop-color="#7a0000" stop-opacity="0"/></radialGradient>
<radialGradient id="rg19" gradientUnits="userSpaceOnUse" cx="0" cy="0" r="1" gradientTransform="translate(1265 985) rotate(0) scale(35 35)"><stop offset="0" stop-color="#800000" stop-opacity="1"/><stop offset="0.3" stop-color="#800000" stop-opacity="1"/><stop offset="1" stop-color="#800000" stop-opacity="0"/></radialGradient>
<radialGradient id="rg20" gradientUnits="userSpaceOnUse" cx="0" cy="0" r="1" gradientTransform="translate(1410 985) rotate(0) scale(55 45)"><stop offset="0" stop-color="#500000" stop-opacity="1"/><stop offset="0.3" stop-color="#500000" stop-opacity="1"/><stop offset="1" stop-color="#500000" stop-opacity="0"/></radialGradient>
<radialGradient id="rg21" gradientUnits="userSpaceOnUse" cx="0" cy="0" r="1" gradientTransform="translate(1022 928) rotate(18) scale(52 10)"><stop offset="0" stop-color="#3b0000" stop-opacity="1"/><stop offset="0.55" stop-color="#3b0000" stop-opacity="1"/><stop offset="1" stop-color="#3b0000" stop-opacity="0"/></radialGradient>
<radialGradient id="rg22" gradientUnits="userSpaceOnUse" cx="0" cy="0" r="1" gradientTransform="translate(1010 1140) rotate(-30) scale(30 14)"><stop offset="0" stop-color="#6b0000" stop-opacity="1"/><stop offset="0.5" stop-color="#6b0000" stop-opacity="1"/><stop offset="1" stop-color="#6b0000" stop-opacity="0"/></radialGradient>
<filter id="fd" filterUnits="userSpaceOnUse" x="978" y="843" width="595" height="573" color-interpolation-filters="sRGB">
<feTurbulence type="fractalNoise" baseFrequency="0.22 0.12" numOctaves="1" seed="9" result="t1"/>
<feTurbulence type="fractalNoise" baseFrequency="0.05 0.04" numOctaves="2" seed="16" result="t2"/>
<feComposite in="t1" in2="t2" operator="arithmetic" k1="0" k2="0.8" k3="0.2" k4="0"/>
<feColorMatrix type="matrix" values="1 0 0 0 0 1 0 0 0 0 1 0 0 0 0 0 0 0 0 1"/>
<feComponentTransfer result="n"><feFuncR type="table" tableValues="0 0 0 0 0 0 0 0 0 0 0 0 0 0 0 0 0 0 0 0 0 .095 .173 .226 .266 .299 .329 .358 .386 .414 .442 .471 .496 .525 .55 .576 .601 .626 .651 .676 .703 .731 .762 .797 .838 .892 .979 1 1 1 1 1 1 1 1 1 1 1 1 1 1 1 1 1 1"/><feFuncG type="table" tableValues="0 0 0 0 0 0 0 0 0 0 0 0 0 0 0 0 0 0 0 0 0 .095 .173 .226 .266 .299 .329 .358 .386 .414 .442 .471 .496 .525 .55 .576 .601 .626 .651 .676 .703 .731 .762 .797 .838 .892 .979 1 1 1 1 1 1 1 1 1 1 1 1 1 1 1 1 1 1"/><feFuncB type="table" tableValues="0 0 0 0 0 0 0 0 0 0 0 0 0 0 0 0 0 0 0 0 0 .095 .173 .226 .266 .299 .329 .358 .386 .414 .442 .471 .496 .525 .55 .576 .601 .626 .651 .676 .703 .731 .762 .797 .838 .892 .979 1 1 1 1 1 1 1 1 1 1 1 1 1 1 1 1 1 1"/></feComponentTransfer>
<feGaussianBlur in="SourceGraphic" stdDeviation="14"/>
<feColorMatrix type="matrix" values="1 0 0 0 0 1 0 0 0 0 1 0 0 0 0 0 0 0 0 1" result="L"/>
<feComposite in="L" in2="n" operator="arithmetic" k1="0" k2="0.675676" k3="0.324324" k4="0"/>
<feComponentTransfer result="col"><feFuncR type="discrete" tableValues="0 0 0 0 0 0 0 0 0 0 0 0 0 0 0 0 0 0 0 0 0 0 0 0 0 0 0 0 0 0 0 0 0 0 0 0 0 0 0 0 0 0 0 0 0 0 0 0 0 0 0 0 0 0 0 0 0 0 0 0 0 0 0 0 0 0 0 0 0 0 0 0 0 0 0 0 .007 .025 .043 .061 .079 .097 .115 .134 .152 .17 .188 .206 .224 .242 .26 .278 .296 .314 .332 .35 .368 .386 .405 .423 .441 .459 .477 .495 .513 .531 .549 .567 .585 .603 .621 .639 .657 .676 .694 .712 .73 .748 .766 .784 .802 .82 .838 .856 .874 .892 .91 .928 .947 .965 .983 1 1 1 1 1 1 1 1 1 1 1 1 1 1 1 1 1 1 1 1 1 1 1 1 1 1 1 1 1 1 1 1 1 1 1 1 1 1 1 1 1 1 1 1 1 1 1 1 1 1 1 1 1 1 1 1 1 1 1 1 1 1 1 1 1 1 1 1 1 1 1 1 1 1 1 1 1 1 1 1 1 1 1 1 1 1 1 1 1 1 1 1 1 1 1 1 1 1 1 1 1 1 1 1 1 1 1 1 1 1 1 1 1 1 1 1 1 1 1 1 1 1 1 1 1"/><feFuncG type="discrete" tableValues="0 0 0 0 0 0 0 0 0 0 0 0 0 0 0 0 0 0 0 0 0 0 0 0 0 0 0 0 0 0 0 0 0 0 0 0 0 0 0 0 0 0 0 0 0 0 0 0 0 0 0 0 0 0 0 0 0 0 0 0 0 0 0 0 0 0 0 0 0 0 0 0 0 0 0 0 .004 .016 .027 .038 .05 .061 .072 .083 .095 .106 .117 .129 .14 .151 .162 .174 .185 .196 .208 .219 .23 .242 .253 .264 .275 .287 .298 .309 .321 .332 .343 .354 .366 .377 .388 .4 .411 .422 .433 .445 .456 .467 .479 .49 .501 .513 .524 .535 .546 .558 .569 .58 .592 .603 .614 .625 .637 .648 .659 .671 .682 .693 .704 .716 .727 .738 .75 .761 .772 .781 .781 .781 .781 .781 .781 .781 .781 .781 .781 .781 .781 .781 .781 .781 .781 .781 .781 .781 .781 .781 .781 .781 .781 .781 .781 .781 .781 .781 .781 .781 .781 .781 .781 .781 .781 .781 .781 .781 .781 .781 .781 .781 .781 .781 .781 .781 .781 .781 .781 .781 .781 .781 .781 .781 .781 .781 .781 .781 .781 .781 .781 .781 .781 .781 .781 .781 .781 .781 .781 .781 .781 .781 .781 .781 .781 .781 .781 .781 .781 .781 .781 .781 .781 .781 .781 .781 .781 .781 .781 .781 .781 .781 .781 .781 .781 .781 .781 .781 .781 .781 .781 .781 .781 .781 .781 .781 .781 .781 .781 .781"/><feFuncB type="discrete" tableValues="0 0 0 0 0 0 0 0 0 0 0 0 0 0 0 0 0 0 0 0 0 0 0 0 0 0 0 0 0 0 0 0 0 0 0 0 0 0 0 0 0 0 0 0 0 0 0 0 0 0 0 0 0 0 0 0 0 0 0 0 0 0 0 0 0 0 0 0 0 0 0 0 0 0 0 0 .003 .01 .017 .024 .032 .039 .046 .053 .06 .068 .075 .082 .089 .096 .103 .111 .118 .125 .132 .139 .147 .154 .161 .168 .175 .183 .19 .197 .204 .211 .219 .226 .233 .24 .247 .254 .262 .269 .276 .283 .29 .298 .305 .312 .319 .326 .334 .341 .348 .355 .362 .37 .377 .384 .391 .398 .405 .413 .42 .427 .434 .441 .449 .456 .463 .47 .477 .485 .492 .497 .497 .497 .497 .497 .497 .497 .497 .497 .497 .497 .497 .497 .497 .497 .497 .497 .497 .497 .497 .497 .497 .497 .497 .497 .497 .497 .497 .497 .497 .497 .497 .497 .497 .497 .497 .497 .497 .497 .497 .497 .497 .497 .497 .497 .497 .497 .497 .497 .497 .497 .497 .497 .497 .497 .497 .497 .497 .497 .497 .497 .497 .497 .497 .497 .497 .497 .497 .497 .497 .497 .497 .497 .497 .497 .497 .497 .497 .497 .497 .497 .497 .497 .497 .497 .497 .497 .497 .497 .497 .497 .497 .497 .497 .497 .497 .497 .497 .497 .497 .497 .497 .497 .497 .497 .497 .497 .497 .497 .497 .497"/></feComponentTransfer>
<feFlood x="979" y="845" width="1" height="1" flood-color="#000"/>
<feOffset x="978" y="843" width="3" height="5"/>
<feTile result="dots"/>
<feComposite in="col" in2="dots" operator="in"/>
<feMorphology operator="dilate" radius="1 2"/>
<feGaussianBlur stdDeviation="1.3"/>
</filter>
<clipPath id="clipd"><rect x="978" y="843" width="595" height="573"/></clipPath>
<clipPath id="clipe"><rect x="129" y="1639" width="596" height="565"/></clipPath>
<filter id="fe" filterUnits="userSpaceOnUse" x="124" y="1634" width="606" height="575" color-interpolation-filters="sRGB"><feGaussianBlur stdDeviation="0.9"/></filter>
<clipPath id="clipf"><rect x="974" y="1639" width="603" height="573"/></clipPath>
<filter id="ff" filterUnits="userSpaceOnUse" x="969" y="1634" width="613" height="583" color-interpolation-filters="sRGB"><feGaussianBlur stdDeviation="0.9"/></filter>
</defs>
<g id="panel-a">
<g clip-path="url(#clipa)"><g filter="url(#fa)"><rect x="124" y="36" width="607" height="583" fill="#000"/><g class="bd"><g fill="url(#ramp)"><rect x="219" y="46" width="98"/><rect x="317" y="46" width="98"/><rect x="415" y="46" width="103"/><rect x="518" y="46" width="101"/><rect x="620" y="46" width="103"/><rect x="219" y="52" width="99"/><rect x="318" y="52" width="98"/><rect x="416" y="52" width="103"/><rect x="519" y="52" width="101"/><rect x="620" y="52" width="102"/><rect x="219" y="58" width="100"/><rect x="319" y="58" width="98"/><rect x="417" y="58" width="103"/><rect x="520" y="58" width="101"/><rect x="621" y="58" width="102"/><rect x="219" y="64" width="102"/><rect x="321" y="64" width="97"/><rect x="418" y="64" width="103"/><rect x="521" y="64" width="100"/><rect x="621" y="64" width="102"/><rect x="219" y="70" width="104"/><rect x="323" y="70" width="96"/><rect x="419" y="70" width="103"/><rect x="522" y="70" width="99"/><rect x="621" y="70" width="102"/><rect x="219" y="76" width="105"/><rect x="324" y="76" width="95"/><rect x="420" y="76" width="104"/><rect x="523" y="76" width="98"/><rect x="622" y="76" width="102"/><rect x="219" y="82" width="107"/><rect x="326" y="82" width="95"/><rect x="421" y="82" width="104"/><rect x="525" y="82" width="97"/><rect x="622" y="82" width="102"/><rect x="219" y="88" width="109"/><rect x="328" y="88" width="94"/><rect x="422" y="88" width="104"/><rect x="526" y="88" width="97"/><rect x="623" y="88" width="102"/><rect x="219" y="94" width="111"/><rect x="330" y="94" width="93"/><rect x="423" y="94" width="104"/><rect x="527" y="94" width="97"/><rect x="623" y="94" width="102"/><rect x="219" y="100" width="113"/><rect x="332" y="100" width="92"/><rect x="424" y="100" width="104"/><rect x="528" y="100" width="96"/><rect x="624" y="100" width="102"/><rect x="219" y="106" width="114"/><rect x="333" y="106" width="91"/><rect x="425" y="106" width="105"/><rect x="529" y="106" width="96"/><rect x="625" y="106" width="102"/><rect x="219" y="112" width="116"/><rect x="335" y="112" width="92"/><rect x="427" y="112" width="104"/><rect x="530" y="112" width="95"/><rect x="626" y="112" width="102"/><rect x="222" y="118" width="114"/><rect x="336" y="118" width="93"/><rect x="429" y="118" width="103"/><rect x="532" y="118" width="95"/><rect x="627" y="118" width="102"/><rect x="44" y="124" width="91"/><rect x="230" y="124" width="107"/><rect x="337" y="124" width="95"/><rect x="431" y="124" width="101"/><rect x="533" y="124" width="94"/><rect x="627" y="124" width="102"/><rect x="49" y="130" width="93"/><rect x="239" y="130" width="98"/><rect x="338" y="130" width="96"/><rect x="434" y="130" width="100"/><rect x="534" y="130" width="94"/><rect x="628" y="130" width="102"/><rect x="53" y="136" width="96"/><rect x="246" y="136" width="92"/><rect x="339" y="136" width="98"/><rect x="436" y="136" width="99"/><rect x="535" y="136" width="94"/><rect x="629" y="136" width="102"/><rect x="58" y="142" width="94"/><rect x="252" y="142" width="88"/><rect x="340" y="142" width="99"/><rect x="439" y="142" width="98"/><rect x="536" y="142" width="93"/><rect x="630" y="142" width="102"/><rect x="61" y="148" width="92"/><rect x="255" y="148" width="86"/><rect x="341" y="148" width="100"/><rect x="441" y="148" width="97"/><rect x="538" y="148" width="93"/><rect x="631" y="148" width="102"/><rect x="62" y="154" width="93"/><rect x="257" y="154" width="86"/><rect x="343" y="154" width="99"/><rect x="442" y="154" width="96"/><rect x="539" y="154" width="93"/><rect x="632" y="154" width="102"/><rect x="64" y="160" width="93"/><rect x="260" y="160" width="86"/><rect x="345" y="160" width="99"/><rect x="444" y="160" width="96"/><rect x="540" y="160" width="93"/><rect x="633" y="160" width="102"/><rect x="65" y="166" width="93"/><rect x="261" y="166" width="86"/><rect x="347" y="166" width="98"/><rect x="446" y="166" width="96"/><rect x="541" y="166" width="93"/><rect x="634" y="166" width="102"/><rect x="66" y="172" width="94"/><rect x="263" y="172" width="87"/><rect x="349" y="172" width="98"/><rect x="447" y="172" width="95"/><rect x="543" y="172" width="93"/><rect x="635" y="172" width="102"/><rect x="68" y="178" width="96"/><rect x="265" y="178" width="87"/><rect x="352" y="178" width="97"/><rect x="449" y="178" width="95"/><rect x="544" y="178" width="92"/><rect x="636" y="178" width="103"/><rect x="69" y="184" width="98"/><rect x="266" y="184" width="87"/><rect x="354" y="184" width="97"/><rect x="451" y="184" width="95"/><rect x="545" y="184" width="92"/><rect x="637" y="184" width="103"/><rect x="71" y="190" width="100"/><rect x="267" y="190" width="88"/><rect x="356" y="190" width="96"/><rect x="452" y="190" width="94"/><rect x="546" y="190" width="92"/><rect x="639" y="190" width="103"/><rect x="72" y="196" width="102"/><rect x="269" y="196" width="89"/><rect x="358" y="196" width="96"/><rect x="454" y="196" width="94"/><rect x="548" y="196" width="92"/><rect x="640" y="196" width="103"/><rect x="74" y="202" width="102"/><rect x="270" y="202" width="90"/><rect x="360" y="202" width="95"/><rect x="455" y="202" width="93"/><rect x="549" y="202" width="92"/><rect x="641" y="202" width="103"/><rect x="75" y="208" width="102"/><rect x="271" y="208" width="91"/><rect x="362" y="208" width="95"/><rect x="457" y="208" width="93"/><rect x="550" y="208" width="92"/><rect x="642" y="208" width="103"/><rect x="75" y="214" width="103"/><rect x="271" y="214" width="91"/><rect x="362" y="214" width="95"/><rect x="457" y="214" width="93"/><rect x="551" y="214" width="93"/><rect x="643" y="214" width="103"/><rect x="75" y="220" width="104"/><rect x="271" y="220" width="91"/><rect x="363" y="220" width="95"/><rect x="458" y="220" width="94"/><rect x="551" y="220" width="94"/><rect x="645" y="220" width="103"/><rect x="76" y="226" width="104"/><rect x="272" y="226" width="91"/><rect x="363" y="226" width="95"/><rect x="458" y="226" width="94"/><rect x="552" y="226" width="94"/><rect x="646" y="226" width="103"/><rect x="76" y="232" width="104"/><rect x="272" y="232" width="91"/><rect x="363" y="232" width="95"/><rect x="458" y="232" width="94"/><rect x="552" y="232" width="95"/><rect x="648" y="232" width="103"/><rect x="76" y="238" width="104"/><rect x="272" y="238" width="92"/><rect x="364" y="238" width="95"/><rect x="458" y="238" width="94"/><rect x="553" y="238" width="96"/><rect x="649" y="238" width="103"/><rect x="76" y="244" width="104"/><rect x="272" y="244" width="92"/><rect x="364" y="244" width="95"/><rect x="459" y="244" width="95"/><rect x="554" y="244" width="97"/><rect x="650" y="244" width="103"/><rect x="76" y="250" width="104"/><rect x="272" y="250" width="92"/><rect x="364" y="250" width="95"/><rect x="459" y="250" width="95"/><rect x="554" y="250" width="97"/><rect x="652" y="250" width="103"/><rect x="76" y="256" width="104"/><rect x="272" y="256" width="92"/><rect x="364" y="256" width="95"/><rect x="459" y="256" width="95"/><rect x="555" y="256" width="98"/><rect x="653" y="256" width="103"/><rect x="77" y="262" width="103"/><rect x="273" y="262" width="92"/><rect x="365" y="262" width="95"/><rect x="460" y="262" width="96"/><rect x="555" y="262" width="99"/><rect x="654" y="262" width="103"/><rect x="77" y="268" width="103"/><rect x="273" y="268" width="92"/><rect x="365" y="268" width="95"/><rect x="460" y="268" width="96"/><rect x="556" y="268" width="100"/><rect x="656" y="268" width="103"/><rect x="77" y="274" width="103"/><rect x="273" y="274" width="92"/><rect x="365" y="274" width="95"/><rect x="460" y="274" width="96"/><rect x="557" y="274" width="101"/><rect x="657" y="274" width="103"/><rect x="77" y="280" width="103"/><rect x="273" y="280" width="92"/><rect x="366" y="280" width="95"/><rect x="461" y="280" width="97"/><rect x="557" y="280" width="101"/><rect x="659" y="280" width="103"/><rect x="77" y="286" width="103"/><rect x="273" y="286" width="93"/><rect x="366" y="286" width="95"/><rect x="461" y="286" width="97"/><rect x="558" y="286" width="102"/><rect x="660" y="286" width="103"/><rect x="78" y="292" width="102"/><rect x="274" y="292" width="93"/><rect x="366" y="292" width="95"/><rect x="461" y="292" width="97"/><rect x="558" y="292" width="103"/><rect x="661" y="292" width="103"/><rect x="78" y="298" width="102"/><rect x="274" y="298" width="93"/><rect x="366" y="298" width="95"/><rect x="462" y="298" width="98"/><rect x="559" y="298" width="104"/><rect x="663" y="298" width="103"/><rect x="78" y="304" width="102"/><rect x="274" y="304" width="93"/><rect x="367" y="304" width="95"/><rect x="462" y="304" width="98"/><rect x="560" y="304" width="104"/><rect x="664" y="304" width="103"/><rect x="78" y="310" width="102"/><rect x="274" y="310" width="93"/><rect x="367" y="310" width="95"/><rect x="462" y="310" width="98"/><rect x="560" y="310" width="105"/><rect x="665" y="310" width="103"/><rect x="78" y="316" width="102"/><rect x="273" y="316" width="93"/><rect x="366" y="316" width="95"/><rect x="461" y="316" width="99"/><rect x="560" y="316" width="106"/><rect x="665" y="316" width="103"/><rect x="79" y="322" width="101"/><rect x="273" y="322" width="93"/><rect x="366" y="322" width="95"/><rect x="460" y="322" width="99"/><rect x="559" y="322" width="106"/><rect x="666" y="322" width="102"/><rect x="79" y="328" width="101"/><rect x="272" y="328" width="93"/><rect x="365" y="328" width="95"/><rect x="460" y="328" width="100"/><rect x="559" y="328" width="107"/><rect x="666" y="328" width="102"/><rect x="79" y="334" width="101"/><rect x="271" y="334" width="93"/><rect x="364" y="334" width="94"/><rect x="459" y="334" width="100"/><rect x="559" y="334" width="108"/><rect x="667" y="334" width="102"/><rect x="79" y="340" width="101"/><rect x="271" y="340" width="93"/><rect x="364" y="340" width="94"/><rect x="458" y="340" width="101"/><rect x="559" y="340" width="108"/><rect x="667" y="340" width="102"/><rect x="80" y="346" width="100"/><rect x="270" y="346" width="93"/><rect x="363" y="346" width="94"/><rect x="457" y="346" width="101"/><rect x="558" y="346" width="109"/><rect x="667" y="346" width="102"/><rect x="80" y="352" width="100"/><rect x="270" y="352" width="93"/><rect x="363" y="352" width="94"/><rect x="457" y="352" width="102"/><rect x="558" y="352" width="109"/><rect x="668" y="352" width="101"/><rect x="80" y="358" width="100"/><rect x="269" y="358" width="93"/><rect x="362" y="358" width="94"/><rect x="456" y="358" width="102"/><rect x="558" y="358" width="110"/><rect x="668" y="358" width="101"/><rect x="80" y="364" width="100"/><rect x="269" y="364" width="93"/><rect x="362" y="364" width="94"/><rect x="456" y="364" width="102"/><rect x="558" y="364" width="110"/><rect x="668" y="364" width="102"/><rect x="81" y="370" width="99"/><rect x="269" y="370" width="92"/><rect x="361" y="370" width="94"/><rect x="456" y="370" width="102"/><rect x="557" y="370" width="110"/><rect x="667" y="370" width="102"/><rect x="81" y="376" width="100"/><rect x="269" y="376" width="92"/><rect x="361" y="376" width="94"/><rect x="456" y="376" width="102"/><rect x="557" y="376" width="110"/><rect x="667" y="376" width="102"/><rect x="81" y="382" width="101"/><rect x="270" y="382" width="91"/><rect x="361" y="382" width="95"/><rect x="455" y="382" width="101"/><rect x="557" y="382" width="110"/><rect x="667" y="382" width="103"/><rect x="82" y="388" width="102"/><rect x="270" y="388" width="91"/><rect x="360" y="388" width="95"/><rect x="455" y="388" width="101"/><rect x="556" y="388" width="110"/><rect x="666" y="388" width="103"/><rect x="82" y="394" width="102"/><rect x="270" y="394" width="90"/><rect x="360" y="394" width="95"/><rect x="455" y="394" width="101"/><rect x="556" y="394" width="110"/><rect x="666" y="394" width="104"/><rect x="82" y="400" width="103"/><rect x="270" y="400" width="90"/><rect x="360" y="400" width="95"/><rect x="455" y="400" width="101"/><rect x="556" y="400" width="110"/><rect x="666" y="400" width="104"/><rect x="83" y="406" width="103"/><rect x="270" y="406" width="90"/><rect x="360" y="406" width="95"/><rect x="455" y="406" width="101"/><rect x="557" y="406" width="110"/><rect x="666" y="406" width="104"/><rect x="84" y="412" width="103"/><rect x="271" y="412" width="90"/><rect x="361" y="412" width="95"/><rect x="456" y="412" width="101"/><rect x="557" y="412" width="109"/><rect x="667" y="412" width="104"/><rect x="84" y="418" width="103"/><rect x="271" y="418" width="90"/><rect x="361" y="418" width="95"/><rect x="456" y="418" width="101"/><rect x="558" y="418" width="109"/><rect x="667" y="418" width="104"/><rect x="85" y="424" width="102"/><rect x="271" y="424" width="90"/><rect x="361" y="424" width="96"/><rect x="457" y="424" width="102"/><rect x="558" y="424" width="109"/><rect x="667" y="424" width="104"/><rect x="86" y="430" width="102"/><rect x="271" y="430" width="90"/><rect x="361" y="430" width="96"/><rect x="457" y="430" width="102"/><rect x="559" y="430" width="109"/><rect x="667" y="430" width="103"/><rect x="87" y="436" width="102"/><rect x="272" y="436" width="90"/><rect x="362" y="436" width="96"/><rect x="457" y="436" width="102"/><rect x="559" y="436" width="108"/><rect x="668" y="436" width="103"/><rect x="87" y="442" width="102"/><rect x="272" y="442" width="90"/><rect x="362" y="442" width="96"/><rect x="458" y="442" width="102"/><rect x="560" y="442" width="108"/><rect x="668" y="442" width="103"/><rect x="88" y="448" width="102"/><rect x="272" y="448" width="90"/><rect x="362" y="448" width="96"/><rect x="458" y="448" width="102"/><rect x="560" y="448" width="108"/><rect x="668" y="448" width="103"/><rect x="88" y="454" width="102"/><rect x="273" y="454" width="90"/><rect x="363" y="454" width="96"/><rect x="459" y="454" width="102"/><rect x="560" y="454" width="108"/><rect x="668" y="454" width="103"/><rect x="89" y="460" width="102"/><rect x="273" y="460" width="90"/><rect x="363" y="460" width="96"/><rect x="459" y="460" width="102"/><rect x="561" y="460" width="108"/><rect x="669" y="460" width="103"/><rect x="89" y="466" width="102"/><rect x="274" y="466" width="90"/><rect x="364" y="466" width="96"/><rect x="460" y="466" width="101"/><rect x="561" y="466" width="108"/><rect x="669" y="466" width="103"/><rect x="89" y="472" width="102"/><rect x="275" y="472" width="90"/><rect x="365" y="472" width="96"/><rect x="460" y="472" width="101"/><rect x="562" y="472" width="108"/><rect x="669" y="472" width="102"/><rect x="90" y="478" width="102"/><rect x="276" y="478" width="90"/><rect x="366" y="478" width="96"/><rect x="461" y="478" width="101"/><rect x="562" y="478" width="108"/><rect x="670" y="478" width="102"/><rect x="90" y="484" width="103"/><rect x="276" y="484" width="90"/><rect x="366" y="484" width="95"/><rect x="462" y="484" width="101"/><rect x="563" y="484" width="107"/><rect x="670" y="484" width="102"/><rect x="90" y="490" width="103"/><rect x="277" y="490" width="90"/><rect x="367" y="490" width="95"/><rect x="462" y="490" width="101"/><rect x="563" y="490" width="107"/><rect x="670" y="490" width="102"/><rect x="91" y="496" width="103"/><rect x="278" y="496" width="90"/><rect x="368" y="496" width="95"/><rect x="463" y="496" width="101"/><rect x="564" y="496" width="107"/><rect x="671" y="496" width="102"/><rect x="91" y="502" width="103"/><rect x="278" y="502" width="90"/><rect x="368" y="502" width="95"/><rect x="464" y="502" width="100"/><rect x="564" y="502" width="107"/><rect x="671" y="502" width="101"/><rect x="91" y="508" width="103"/><rect x="279" y="508" width="90"/><rect x="369" y="508" width="95"/><rect x="464" y="508" width="100"/><rect x="564" y="508" width="107"/><rect x="671" y="508" width="101"/><rect x="92" y="514" width="103"/><rect x="280" y="514" width="90"/><rect x="370" y="514" width="95"/><rect x="465" y="514" width="100"/><rect x="565" y="514" width="107"/><rect x="672" y="514" width="101"/><rect x="92" y="520" width="103"/><rect x="280" y="520" width="90"/><rect x="370" y="520" width="95"/><rect x="465" y="520" width="100"/><rect x="565" y="520" width="107"/><rect x="672" y="520" width="101"/><rect x="93" y="526" width="103"/><rect x="280" y="526" width="90"/><rect x="370" y="526" width="95"/><rect x="466" y="526" width="100"/><rect x="566" y="526" width="107"/><rect x="672" y="526" width="101"/><rect x="93" y="532" width="103"/><rect x="281" y="532" width="90"/><rect x="371" y="532" width="95"/><rect x="466" y="532" width="100"/><rect x="566" y="532" width="107"/><rect x="673" y="532" width="101"/><rect x="93" y="538" width="103"/><rect x="281" y="538" width="90"/><rect x="371" y="538" width="95"/><rect x="466" y="538" width="100"/><rect x="566" y="538" width="107"/><rect x="673" y="538" width="100"/><rect x="94" y="544" width="103"/><rect x="282" y="544" width="90"/><rect x="372" y="544" width="95"/><rect x="466" y="544" width="100"/><rect x="566" y="544" width="107"/><rect x="673" y="544" width="100"/><rect x="94" y="550" width="103"/><rect x="282" y="550" width="90"/><rect x="372" y="550" width="95"/><rect x="467" y="550" width="100"/><rect x="567" y="550" width="107"/><rect x="673" y="550" width="100"/><rect x="95" y="556" width="103"/><rect x="282" y="556" width="90"/><rect x="372" y="556" width="95"/><rect x="467" y="556" width="100"/><rect x="567" y="556" width="107"/><rect x="674" y="556" width="100"/><rect x="95" y="562" width="102"/><rect x="282" y="562" width="90"/><rect x="372" y="562" width="95"/><rect x="468" y="562" width="100"/><rect x="568" y="562" width="106"/><rect x="674" y="562" width="100"/><rect x="95" y="568" width="102"/><rect x="283" y="568" width="90"/><rect x="373" y="568" width="95"/><rect x="468" y="568" width="100"/><rect x="568" y="568" width="106"/><rect x="674" y="568" width="100"/><rect x="96" y="574" width="102"/><rect x="283" y="574" width="90"/><rect x="373" y="574" width="95"/><rect x="468" y="574" width="100"/><rect x="568" y="574" width="106"/><rect x="675" y="574" width="100"/><rect x="96" y="580" width="102"/><rect x="284" y="580" width="90"/><rect x="374" y="580" width="95"/><rect x="468" y="580" width="100"/><rect x="568" y="580" width="106"/><rect x="675" y="580" width="100"/><rect x="97" y="586" width="102"/><rect x="284" y="586" width="90"/><rect x="374" y="586" width="95"/><rect x="469" y="586" width="100"/><rect x="569" y="586" width="106"/><rect x="675" y="586" width="99"/><rect x="97" y="592" width="102"/><rect x="284" y="592" width="90"/><rect x="374" y="592" width="95"/><rect x="469" y="592" width="100"/><rect x="569" y="592" width="106"/><rect x="675" y="592" width="99"/><rect x="97" y="598" width="102"/><rect x="284" y="598" width="90"/><rect x="374" y="598" width="95"/><rect x="470" y="598" width="100"/><rect x="570" y="598" width="106"/><rect x="676" y="598" width="99"/><rect x="98" y="604" width="102"/><rect x="285" y="604" width="90"/><rect x="375" y="604" width="95"/><rect x="470" y="604" width="100"/><rect x="570" y="604" width="106"/><rect x="676" y="604" width="99"/></g><g fill="url(#rampA)"><rect x="73" y="58" width="63"/><rect x="112" y="64" width="38"/><rect x="113" y="70" width="38"/><rect x="114" y="76" width="37"/><rect x="114" y="82" width="37"/><rect x="115" y="88" width="37"/><rect x="116" y="94" width="36"/><rect x="118" y="100" width="35"/><rect x="121" y="106" width="34"/><rect x="125" y="112" width="33"/><rect x="128" y="118" width="32"/><rect x="135" y="124" width="38"/><rect x="142" y="130" width="43"/><rect x="149" y="136" width="49"/><rect x="151" y="142" width="50"/><rect x="153" y="148" width="51"/><rect x="155" y="154" width="51"/><rect x="157" y="160" width="51"/><rect x="158" y="166" width="52"/><rect x="160" y="172" width="52"/><rect x="164" y="178" width="51"/><rect x="167" y="184" width="50"/><rect x="171" y="190" width="48"/><rect x="174" y="196" width="47"/><rect x="176" y="202" width="47"/><rect x="177" y="208" width="47"/><rect x="178" y="214" width="46"/><rect x="180" y="220" width="46"/><rect x="180" y="226" width="46"/><rect x="180" y="232" width="46"/><rect x="180" y="238" width="46"/><rect x="180" y="244" width="46"/><rect x="180" y="250" width="46"/><rect x="180" y="256" width="46"/><rect x="180" y="262" width="46"/><rect x="180" y="268" width="47"/><rect x="180" y="274" width="47"/><rect x="180" y="280" width="47"/><rect x="180" y="286" width="47"/><rect x="180" y="292" width="47"/><rect x="180" y="298" width="47"/><rect x="180" y="304" width="47"/><rect x="180" y="310" width="47"/><rect x="180" y="316" width="47"/><rect x="180" y="322" width="47"/><rect x="180" y="328" width="46"/><rect x="180" y="334" width="46"/><rect x="180" y="340" width="46"/><rect x="180" y="346" width="46"/><rect x="180" y="352" width="46"/><rect x="180" y="358" width="45"/><rect x="180" y="364" width="45"/><rect x="180" y="370" width="45"/><rect x="181" y="376" width="45"/><rect x="182" y="382" width="44"/><rect x="183" y="388" width="44"/><rect x="184" y="394" width="43"/><rect x="185" y="400" width="43"/><rect x="186" y="406" width="43"/><rect x="186" y="412" width="42"/><rect x="187" y="418" width="42"/><rect x="188" y="424" width="42"/><rect x="188" y="430" width="42"/><rect x="189" y="436" width="41"/><rect x="189" y="442" width="41"/><rect x="190" y="448" width="41"/><rect x="190" y="454" width="41"/><rect x="191" y="460" width="41"/><rect x="191" y="466" width="41"/><rect x="192" y="472" width="41"/><rect x="192" y="478" width="41"/><rect x="193" y="484" width="42"/><rect x="193" y="490" width="42"/><rect x="194" y="496" width="42"/><rect x="194" y="502" width="42"/><rect x="194" y="508" width="42"/><rect x="195" y="514" width="42"/><rect x="195" y="520" width="42"/><rect x="196" y="526" width="42"/><rect x="196" y="532" width="42"/><rect x="196" y="538" width="42"/><rect x="196" y="544" width="42"/><rect x="197" y="550" width="42"/><rect x="197" y="556" width="42"/><rect x="198" y="562" width="42"/><rect x="198" y="568" width="42"/><rect x="198" y="574" width="42"/><rect x="198" y="580" width="42"/><rect x="199" y="586" width="42"/><rect x="199" y="592" width="42"/><rect x="200" y="598" width="42"/><rect x="200" y="604" width="42"/></g><g fill="url(#rampB)"><rect x="126" y="46" width="93"/><rect x="127" y="52" width="92"/><rect x="136" y="58" width="83"/><rect x="150" y="64" width="69"/><rect x="150" y="70" width="69"/><rect x="151" y="76" width="68"/><rect x="151" y="82" width="68"/><rect x="151" y="88" width="68"/><rect x="152" y="94" width="67"/><rect x="153" y="100" width="66"/><rect x="155" y="106" width="64"/><rect x="158" y="112" width="61"/><rect x="160" y="118" width="62"/><rect x="173" y="124" width="57"/><rect x="185" y="130" width="54"/><rect x="198" y="136" width="49"/><rect x="202" y="142" width="50"/><rect x="204" y="148" width="51"/><rect x="206" y="154" width="52"/><rect x="208" y="160" width="52"/><rect x="210" y="166" width="51"/><rect x="212" y="172" width="51"/><rect x="214" y="178" width="50"/><rect x="217" y="184" width="49"/><rect x="219" y="190" width="48"/><rect x="222" y="196" width="47"/><rect x="223" y="202" width="47"/><rect x="224" y="208" width="47"/><rect x="225" y="214" width="46"/><rect x="226" y="220" width="46"/><rect x="226" y="226" width="45"/><rect x="226" y="232" width="46"/><rect x="226" y="238" width="46"/><rect x="226" y="244" width="46"/><rect x="226" y="250" width="46"/><rect x="226" y="256" width="46"/><rect x="226" y="262" width="46"/><rect x="227" y="268" width="46"/><rect x="227" y="274" width="46"/><rect x="227" y="280" width="46"/><rect x="227" y="286" width="47"/><rect x="227" y="292" width="47"/><rect x="227" y="298" width="47"/><rect x="227" y="304" width="47"/><rect x="227" y="310" width="47"/><rect x="227" y="316" width="46"/><rect x="227" y="322" width="46"/><rect x="226" y="328" width="46"/><rect x="226" y="334" width="45"/><rect x="226" y="340" width="45"/><rect x="226" y="346" width="44"/><rect x="226" y="352" width="44"/><rect x="225" y="358" width="44"/><rect x="225" y="364" width="44"/><rect x="225" y="370" width="44"/><rect x="225" y="376" width="44"/><rect x="226" y="382" width="43"/><rect x="227" y="388" width="43"/><rect x="228" y="394" width="42"/><rect x="228" y="400" width="42"/><rect x="228" y="406" width="42"/><rect x="229" y="412" width="42"/><rect x="229" y="418" width="42"/><rect x="230" y="424" width="41"/><rect x="230" y="430" width="41"/><rect x="230" y="436" width="41"/><rect x="231" y="442" width="41"/><rect x="231" y="448" width="41"/><rect x="232" y="454" width="41"/><rect x="232" y="460" width="41"/><rect x="233" y="466" width="42"/><rect x="233" y="472" width="42"/><rect x="234" y="478" width="42"/><rect x="234" y="484" width="42"/><rect x="235" y="490" width="42"/><rect x="235" y="496" width="42"/><rect x="236" y="502" width="43"/><rect x="236" y="508" width="43"/><rect x="237" y="514" width="43"/><rect x="237" y="520" width="43"/><rect x="238" y="526" width="43"/><rect x="238" y="532" width="43"/><rect x="238" y="538" width="43"/><rect x="238" y="544" width="43"/><rect x="239" y="550" width="43"/><rect x="239" y="556" width="43"/><rect x="240" y="562" width="43"/><rect x="240" y="568" width="43"/><rect x="240" y="574" width="43"/><rect x="240" y="580" width="43"/><rect x="241" y="586" width="43"/><rect x="241" y="592" width="43"/><rect x="242" y="598" width="43"/><rect x="242" y="604" width="43"/></g></g><g style="mix-blend-mode:screen"><rect x="114" y="26" width="627" height="603" fill="url(#sg1)"/><path d="M94 392 L160 384 L200 398 L230 412 L260 396 L300 402 L330 418 L365 402 L400 410 L430 424 L470 412 L500 430 L530 420 L580 442 L630 430 L680 448 L761 438 L761 649 L94 649 Z" fill="#009999" filter="url(#blur6)"/><path d="M94 430 L200 425 L260 445 L330 435 L400 455 L470 445 L540 465 L620 455 L761 470 L761 649 L94 649 Z" fill="#00ff80" filter="url(#blur12)"/><rect x="334" y="40" width="407" height="22" fill="#0040e6" filter="url(#blur6)"/></g></g></g>
<rect x="134.0" y="46.0" width="587.0" height="563.0" fill="none" stroke="#262626" stroke-width="2.0"/>
<path d="M138.2 609.0v-6.0M138.2 46.0v6.0M366.8 609.0v-6.0M366.8 46.0v6.0M595.4 609.0v-6.0M595.4 46.0v6.0M134.0 133.0h6.0M721.0 133.0h-6.0M134.0 223.8h6.0M721.0 223.8h-6.0M134.0 314.6h6.0M721.0 314.6h-6.0M134.0 405.4h6.0M721.0 405.4h-6.0M134.0 496.2h6.0M721.0 496.2h-6.0M134.0 587.0h6.0M721.0 587.0h-6.0" stroke="#262626" stroke-width="1.5" fill="none"/>
<text transform="translate(138.2 677.0) scale(0.93 1)" font-size="48.0" text-anchor="middle" fill="#262626">0</text>
<text transform="translate(366.8 677.0) scale(0.93 1)" font-size="48.0" text-anchor="middle" fill="#262626">5</text>
<text transform="translate(595.4 677.0) scale(0.93 1)" font-size="48.0" text-anchor="middle" fill="#262626">10</text>
<text transform="translate(116.0 150.5) scale(0.93 1)" font-size="48.0" text-anchor="end" fill="#262626">2</text>
<text transform="translate(116.0 241.3) scale(0.93 1)" font-size="48.0" text-anchor="end" fill="#262626">4</text>
<text transform="translate(116.0 332.1) scale(0.93 1)" font-size="48.0" text-anchor="end" fill="#262626">6</text>
<text transform="translate(116.0 422.9) scale(0.93 1)" font-size="48.0" text-anchor="end" fill="#262626">8</text>
<text transform="translate(116.0 513.7) scale(0.93 1)" font-size="48.0" text-anchor="end" fill="#262626">10</text>
<text transform="translate(116.0 604.5) scale(0.93 1)" font-size="48.0" text-anchor="end" fill="#262626">12</text>
<text x="428.0" y="742.5" font-size="50.4" text-anchor="middle" fill="#262626">X [mm]</text>
<text transform="translate(44.0,327.0) rotate(-90) scale(0.97 1)" font-size="52.0" text-anchor="middle" fill="#262626">Z [mm]</text>
<rect x="743.0" y="42.0" width="37.0" height="571.0" fill="url(#cb_parula)" stroke="#262626" stroke-width="1.5"/>
<text x="797.0" y="523.3" font-size="40.0" text-anchor="start" fill="#262626">-2</text>
<text x="797.0" y="341.8" font-size="40.0" text-anchor="start" fill="#262626">0</text>
<text x="797.0" y="160.3" font-size="40.0" text-anchor="start" fill="#262626">2</text>
<path d="M780.0 509.0h-5M780.0 327.5h-5M780.0 146.0h-5" stroke="#262626" stroke-width="1.5" fill="none"/>
<text transform="translate(46.0 38.0) scale(0.95 1)" font-size="43.0" text-anchor="start" fill="#000">a)</text>
</g>
<g id="panel-b">
<g clip-path="url(#clipb)"><g filter="url(#fb)"><rect x="968" y="37" width="614" height="591" fill="#000"/><g class="bd"><g fill="url(#ramp)"><rect x="709" y="47" width="282"/><rect x="991" y="47" width="142"/><rect x="1132" y="47" width="115"/><rect x="1248" y="47" width="102"/><rect x="1350" y="47" width="95"/><rect x="1445" y="47" width="107"/><rect x="1552" y="47" width="108"/><rect x="722" y="53" width="280"/><rect x="1002" y="53" width="131"/><rect x="1134" y="53" width="114"/><rect x="1248" y="53" width="101"/><rect x="1349" y="53" width="96"/><rect x="1445" y="53" width="106"/><rect x="1551" y="53" width="109"/><rect x="736" y="59" width="276"/><rect x="1012" y="59" width="123"/><rect x="1135" y="59" width="113"/><rect x="1248" y="59" width="100"/><rect x="1348" y="59" width="98"/><rect x="1446" y="59" width="104"/><rect x="1550" y="59" width="110"/><rect x="749" y="65" width="269"/><rect x="1018" y="65" width="118"/><rect x="1136" y="65" width="113"/><rect x="1249" y="65" width="98"/><rect x="1347" y="65" width="99"/><rect x="1446" y="65" width="103"/><rect x="1549" y="65" width="111"/><rect x="762" y="71" width="258"/><rect x="1020" y="71" width="117"/><rect x="1137" y="71" width="112"/><rect x="1249" y="71" width="97"/><rect x="1346" y="71" width="101"/><rect x="1447" y="71" width="101"/><rect x="1548" y="71" width="112"/><rect x="776" y="77" width="245"/><rect x="1021" y="77" width="118"/><rect x="1139" y="77" width="110"/><rect x="1250" y="77" width="96"/><rect x="1345" y="77" width="102"/><rect x="1447" y="77" width="100"/><rect x="1547" y="77" width="113"/><rect x="789" y="83" width="232"/><rect x="1021" y="83" width="120"/><rect x="1141" y="83" width="109"/><rect x="1250" y="83" width="96"/><rect x="1346" y="83" width="102"/><rect x="1448" y="83" width="99"/><rect x="1547" y="83" width="113"/><rect x="802" y="89" width="220"/><rect x="1022" y="89" width="121"/><rect x="1143" y="89" width="107"/><rect x="1250" y="89" width="97"/><rect x="1348" y="89" width="101"/><rect x="1448" y="89" width="99"/><rect x="1547" y="89" width="113"/><rect x="816" y="95" width="207"/><rect x="1022" y="95" width="123"/><rect x="1145" y="95" width="105"/><rect x="1251" y="95" width="98"/><rect x="1349" y="95" width="100"/><rect x="1449" y="95" width="98"/><rect x="1547" y="95" width="113"/><rect x="833" y="101" width="191"/><rect x="1024" y="101" width="124"/><rect x="1147" y="101" width="104"/><rect x="1251" y="101" width="99"/><rect x="1350" y="101" width="99"/><rect x="1449" y="101" width="98"/><rect x="1547" y="101" width="113"/><rect x="852" y="107" width="173"/><rect x="1025" y="107" width="124"/><rect x="1149" y="107" width="102"/><rect x="1252" y="107" width="100"/><rect x="1352" y="107" width="98"/><rect x="1450" y="107" width="97"/><rect x="1547" y="107" width="113"/><rect x="871" y="113" width="155"/><rect x="1027" y="113" width="124"/><rect x="1151" y="113" width="101"/><rect x="1252" y="113" width="101"/><rect x="1353" y="113" width="97"/><rect x="1451" y="113" width="98"/><rect x="1548" y="113" width="112"/><rect x="890" y="119" width="138"/><rect x="1028" y="119" width="124"/><rect x="1152" y="119" width="100"/><rect x="1252" y="119" width="102"/><rect x="1354" y="119" width="97"/><rect x="1451" y="119" width="99"/><rect x="1551" y="119" width="109"/><rect x="908" y="125" width="128"/><rect x="1036" y="125" width="118"/><rect x="1153" y="125" width="100"/><rect x="1253" y="125" width="102"/><rect x="1356" y="125" width="96"/><rect x="1452" y="125" width="101"/><rect x="1553" y="125" width="107"/><rect x="923" y="131" width="126"/><rect x="1049" y="131" width="105"/><rect x="1154" y="131" width="101"/><rect x="1255" y="131" width="102"/><rect x="1357" y="131" width="96"/><rect x="1453" y="131" width="102"/><rect x="1555" y="131" width="105"/><rect x="939" y="137" width="124"/><rect x="1062" y="137" width="93"/><rect x="1156" y="137" width="101"/><rect x="1257" y="137" width="101"/><rect x="1358" y="137" width="96"/><rect x="1454" y="137" width="103"/><rect x="1557" y="137" width="103"/><rect x="955" y="143" width="111"/><rect x="1066" y="143" width="91"/><rect x="1157" y="143" width="101"/><rect x="1258" y="143" width="101"/><rect x="1359" y="143" width="95"/><rect x="1454" y="143" width="104"/><rect x="1559" y="143" width="101"/><rect x="966" y="149" width="103"/><rect x="1069" y="149" width="89"/><rect x="1158" y="149" width="101"/><rect x="1260" y="149" width="101"/><rect x="1360" y="149" width="95"/><rect x="1455" y="149" width="105"/><rect x="1560" y="149" width="100"/><rect x="969" y="155" width="104"/><rect x="1073" y="155" width="88"/><rect x="1161" y="155" width="101"/><rect x="1261" y="155" width="100"/><rect x="1361" y="155" width="95"/><rect x="1456" y="155" width="106"/><rect x="1562" y="155" width="98"/><rect x="972" y="161" width="103"/><rect x="1075" y="161" width="88"/><rect x="1163" y="161" width="100"/><rect x="1263" y="161" width="99"/><rect x="1362" y="161" width="95"/><rect x="1457" y="161" width="107"/><rect x="1564" y="161" width="96"/><rect x="975" y="167" width="101"/><rect x="1077" y="167" width="89"/><rect x="1166" y="167" width="100"/><rect x="1266" y="167" width="98"/><rect x="1363" y="167" width="95"/><rect x="1458" y="167" width="107"/><rect x="1566" y="167" width="94"/><rect x="400" y="173" width="578"/><rect x="978" y="173" width="99"/><rect x="1078" y="173" width="90"/><rect x="1168" y="173" width="100"/><rect x="1268" y="173" width="97"/><rect x="1364" y="173" width="95"/><rect x="1459" y="173" width="108"/><rect x="1567" y="173" width="93"/><rect x="400" y="179" width="581"/><rect x="981" y="179" width="98"/><rect x="1079" y="179" width="92"/><rect x="1170" y="179" width="100"/><rect x="1270" y="179" width="95"/><rect x="1365" y="179" width="95"/><rect x="1460" y="179" width="109"/><rect x="1569" y="179" width="91"/><rect x="400" y="185" width="584"/><rect x="984" y="185" width="96"/><rect x="1080" y="185" width="93"/><rect x="1173" y="185" width="100"/><rect x="1272" y="185" width="94"/><rect x="1366" y="185" width="95"/><rect x="1461" y="185" width="110"/><rect x="1571" y="185" width="89"/><rect x="400" y="191" width="587"/><rect x="987" y="191" width="94"/><rect x="1081" y="191" width="93"/><rect x="1175" y="191" width="100"/><rect x="1275" y="191" width="93"/><rect x="1367" y="191" width="95"/><rect x="1462" y="191" width="111"/><rect x="400" y="197" width="590"/><rect x="990" y="197" width="92"/><rect x="1082" y="197" width="94"/><rect x="1176" y="197" width="99"/><rect x="1276" y="197" width="93"/><rect x="1369" y="197" width="95"/><rect x="1464" y="197" width="111"/><rect x="400" y="203" width="592"/><rect x="992" y="203" width="91"/><rect x="1083" y="203" width="95"/><rect x="1178" y="203" width="99"/><rect x="1277" y="203" width="94"/><rect x="1371" y="203" width="95"/><rect x="1466" y="203" width="110"/><rect x="400" y="209" width="594"/><rect x="994" y="209" width="90"/><rect x="1084" y="209" width="96"/><rect x="1180" y="209" width="98"/><rect x="1278" y="209" width="95"/><rect x="1373" y="209" width="95"/><rect x="1468" y="209" width="109"/><rect x="400" y="215" width="595"/><rect x="995" y="215" width="89"/><rect x="1084" y="215" width="96"/><rect x="1180" y="215" width="98"/><rect x="1279" y="215" width="96"/><rect x="1375" y="215" width="95"/><rect x="1470" y="215" width="108"/><rect x="400" y="221" width="597"/><rect x="997" y="221" width="88"/><rect x="1085" y="221" width="96"/><rect x="1181" y="221" width="99"/><rect x="1280" y="221" width="97"/><rect x="1377" y="221" width="95"/><rect x="1472" y="221" width="108"/><rect x="400" y="227" width="598"/><rect x="998" y="227" width="88"/><rect x="1086" y="227" width="96"/><rect x="1181" y="227" width="100"/><rect x="1281" y="227" width="98"/><rect x="1379" y="227" width="96"/><rect x="1474" y="227" width="106"/><rect x="400" y="233" width="599"/><rect x="999" y="233" width="87"/><rect x="1086" y="233" width="95"/><rect x="1182" y="233" width="101"/><rect x="1282" y="233" width="99"/><rect x="1381" y="233" width="96"/><rect x="1477" y="233" width="105"/><rect x="400" y="239" width="599"/><rect x="999" y="239" width="88"/><rect x="1087" y="239" width="95"/><rect x="1182" y="239" width="101"/><rect x="1283" y="239" width="99"/><rect x="1383" y="239" width="97"/><rect x="1479" y="239" width="104"/><rect x="400" y="245" width="600"/><rect x="1000" y="245" width="88"/><rect x="1087" y="245" width="95"/><rect x="1182" y="245" width="102"/><rect x="1285" y="245" width="100"/><rect x="1384" y="245" width="97"/><rect x="1482" y="245" width="103"/><rect x="400" y="251" width="599"/><rect x="999" y="251" width="89"/><rect x="1088" y="251" width="95"/><rect x="1183" y="251" width="102"/><rect x="1285" y="251" width="101"/><rect x="1386" y="251" width="97"/><rect x="1483" y="251" width="102"/><rect x="400" y="257" width="598"/><rect x="998" y="257" width="91"/><rect x="1089" y="257" width="95"/><rect x="1184" y="257" width="102"/><rect x="1286" y="257" width="101"/><rect x="1387" y="257" width="97"/><rect x="1484" y="257" width="102"/><rect x="400" y="263" width="597"/><rect x="997" y="263" width="92"/><rect x="1090" y="263" width="94"/><rect x="1184" y="263" width="102"/><rect x="1286" y="263" width="102"/><rect x="1388" y="263" width="96"/><rect x="1485" y="263" width="101"/><rect x="400" y="269" width="596"/><rect x="996" y="269" width="94"/><rect x="1091" y="269" width="94"/><rect x="1185" y="269" width="102"/><rect x="1286" y="269" width="103"/><rect x="1389" y="269" width="96"/><rect x="1485" y="269" width="101"/><rect x="400" y="275" width="596"/><rect x="996" y="275" width="95"/><rect x="1091" y="275" width="94"/><rect x="1185" y="275" width="102"/><rect x="1287" y="275" width="103"/><rect x="1390" y="275" width="96"/><rect x="1486" y="275" width="101"/><rect x="400" y="281" width="597"/><rect x="997" y="281" width="95"/><rect x="1092" y="281" width="94"/><rect x="1186" y="281" width="102"/><rect x="1287" y="281" width="103"/><rect x="1391" y="281" width="96"/><rect x="1487" y="281" width="100"/><rect x="400" y="287" width="597"/><rect x="997" y="287" width="95"/><rect x="1092" y="287" width="94"/><rect x="1186" y="287" width="102"/><rect x="1288" y="287" width="103"/><rect x="1391" y="287" width="97"/><rect x="1488" y="287" width="100"/><rect x="400" y="293" width="597"/><rect x="997" y="293" width="95"/><rect x="1093" y="293" width="94"/><rect x="1187" y="293" width="102"/><rect x="1288" y="293" width="103"/><rect x="1391" y="293" width="97"/><rect x="1488" y="293" width="100"/><rect x="400" y="299" width="597"/><rect x="997" y="299" width="96"/><rect x="1093" y="299" width="94"/><rect x="1187" y="299" width="102"/><rect x="1289" y="299" width="103"/><rect x="1392" y="299" width="97"/><rect x="1488" y="299" width="100"/><rect x="400" y="305" width="596"/><rect x="996" y="305" width="97"/><rect x="1094" y="305" width="92"/><rect x="1186" y="305" width="104"/><rect x="1290" y="305" width="103"/><rect x="1392" y="305" width="97"/><rect x="1489" y="305" width="100"/><rect x="400" y="311" width="596"/><rect x="996" y="311" width="98"/><rect x="1094" y="311" width="92"/><rect x="1185" y="311" width="104"/><rect x="1290" y="311" width="103"/><rect x="1392" y="311" width="97"/><rect x="1489" y="311" width="100"/><rect x="400" y="317" width="595"/><rect x="995" y="317" width="98"/><rect x="1092" y="317" width="92"/><rect x="1184" y="317" width="104"/><rect x="1288" y="317" width="104"/><rect x="1392" y="317" width="98"/><rect x="1490" y="317" width="100"/><rect x="400" y="323" width="594"/><rect x="994" y="323" width="97"/><rect x="1091" y="323" width="92"/><rect x="1184" y="323" width="103"/><rect x="1286" y="323" width="105"/><rect x="1392" y="323" width="98"/><rect x="1490" y="323" width="100"/><rect x="400" y="329" width="594"/><rect x="994" y="329" width="96"/><rect x="1090" y="329" width="93"/><rect x="1183" y="329" width="103"/><rect x="1285" y="329" width="106"/><rect x="1391" y="329" width="98"/><rect x="1489" y="329" width="100"/><rect x="400" y="335" width="593"/><rect x="993" y="335" width="95"/><rect x="1089" y="335" width="94"/><rect x="1182" y="335" width="103"/><rect x="1285" y="335" width="106"/><rect x="1391" y="335" width="97"/><rect x="1488" y="335" width="101"/><rect x="400" y="341" width="593"/><rect x="993" y="341" width="94"/><rect x="1087" y="341" width="94"/><rect x="1181" y="341" width="103"/><rect x="1284" y="341" width="106"/><rect x="1390" y="341" width="97"/><rect x="1487" y="341" width="101"/><rect x="400" y="347" width="593"/><rect x="993" y="347" width="93"/><rect x="1086" y="347" width="95"/><rect x="1181" y="347" width="103"/><rect x="1284" y="347" width="106"/><rect x="1390" y="347" width="97"/><rect x="1487" y="347" width="102"/><rect x="400" y="353" width="593"/><rect x="993" y="353" width="92"/><rect x="1085" y="353" width="95"/><rect x="1180" y="353" width="103"/><rect x="1283" y="353" width="106"/><rect x="1389" y="353" width="97"/><rect x="1486" y="353" width="102"/><rect x="400" y="359" width="593"/><rect x="993" y="359" width="91"/><rect x="1084" y="359" width="95"/><rect x="1179" y="359" width="102"/><rect x="1280" y="359" width="107"/><rect x="1388" y="359" width="97"/><rect x="1485" y="359" width="103"/><rect x="400" y="365" width="593"/><rect x="993" y="365" width="89"/><rect x="1082" y="365" width="95"/><rect x="1177" y="365" width="100"/><rect x="1278" y="365" width="109"/><rect x="1386" y="365" width="98"/><rect x="1484" y="365" width="103"/><rect x="400" y="371" width="593"/><rect x="993" y="371" width="88"/><rect x="1081" y="371" width="95"/><rect x="1176" y="371" width="99"/><rect x="1275" y="371" width="110"/><rect x="1385" y="371" width="98"/><rect x="1483" y="371" width="103"/><rect x="400" y="377" width="593"/><rect x="993" y="377" width="87"/><rect x="1080" y="377" width="95"/><rect x="1175" y="377" width="98"/><rect x="1273" y="377" width="111"/><rect x="1384" y="377" width="98"/><rect x="1483" y="377" width="104"/><rect x="400" y="383" width="593"/><rect x="993" y="383" width="85"/><rect x="1078" y="383" width="95"/><rect x="1174" y="383" width="98"/><rect x="1272" y="383" width="111"/><rect x="1383" y="383" width="99"/><rect x="1482" y="383" width="104"/><rect x="400" y="389" width="593"/><rect x="993" y="389" width="83"/><rect x="1077" y="389" width="96"/><rect x="1173" y="389" width="98"/><rect x="1271" y="389" width="112"/><rect x="1382" y="389" width="99"/><rect x="1481" y="389" width="104"/><rect x="400" y="395" width="594"/><rect x="994" y="395" width="81"/><rect x="1075" y="395" width="96"/><rect x="1171" y="395" width="98"/><rect x="1269" y="395" width="112"/><rect x="1381" y="395" width="99"/><rect x="1480" y="395" width="105"/><rect x="400" y="401" width="594"/><rect x="994" y="401" width="79"/><rect x="1073" y="401" width="97"/><rect x="1170" y="401" width="98"/><rect x="1268" y="401" width="112"/><rect x="1380" y="401" width="98"/><rect x="1479" y="401" width="105"/><rect x="400" y="407" width="594"/><rect x="994" y="407" width="78"/><rect x="1072" y="407" width="97"/><rect x="1169" y="407" width="96"/><rect x="1265" y="407" width="113"/><rect x="1378" y="407" width="99"/><rect x="1477" y="407" width="105"/><rect x="400" y="413" width="594"/><rect x="994" y="413" width="77"/><rect x="1072" y="413" width="96"/><rect x="1168" y="413" width="94"/><rect x="1262" y="413" width="113"/><rect x="1376" y="413" width="99"/><rect x="1475" y="413" width="105"/><rect x="400" y="419" width="595"/><rect x="995" y="419" width="76"/><rect x="1071" y="419" width="96"/><rect x="1167" y="419" width="93"/><rect x="1259" y="419" width="114"/><rect x="1373" y="419" width="99"/><rect x="1473" y="419" width="105"/><rect x="400" y="425" width="595"/><rect x="995" y="425" width="75"/><rect x="1070" y="425" width="95"/><rect x="1165" y="425" width="91"/><rect x="1256" y="425" width="115"/><rect x="1371" y="425" width="100"/><rect x="1471" y="425" width="105"/><rect x="400" y="431" width="595"/><rect x="995" y="431" width="75"/><rect x="1070" y="431" width="95"/><rect x="1165" y="431" width="90"/><rect x="1255" y="431" width="115"/><rect x="1370" y="431" width="100"/><rect x="1470" y="431" width="105"/><rect x="400" y="437" width="595"/><rect x="995" y="437" width="75"/><rect x="1070" y="437" width="95"/><rect x="1165" y="437" width="90"/><rect x="1255" y="437" width="115"/><rect x="1370" y="437" width="100"/><rect x="1470" y="437" width="105"/><rect x="400" y="443" width="595"/><rect x="995" y="443" width="75"/><rect x="1070" y="443" width="95"/><rect x="1165" y="443" width="90"/><rect x="1255" y="443" width="115"/><rect x="1370" y="443" width="100"/><rect x="1470" y="443" width="105"/><rect x="400" y="449" width="595"/><rect x="995" y="449" width="75"/><rect x="1070" y="449" width="95"/><rect x="1165" y="449" width="90"/><rect x="1255" y="449" width="114"/><rect x="1369" y="449" width="100"/><rect x="1469" y="449" width="105"/><rect x="400" y="455" width="595"/><rect x="995" y="455" width="75"/><rect x="1070" y="455" width="95"/><rect x="1165" y="455" width="90"/><rect x="1255" y="455" width="114"/><rect x="1369" y="455" width="100"/><rect x="1469" y="455" width="105"/><rect x="400" y="461" width="596"/><rect x="996" y="461" width="75"/><rect x="1070" y="461" width="95"/><rect x="1165" y="461" width="90"/><rect x="1255" y="461" width="114"/><rect x="1369" y="461" width="100"/><rect x="1469" y="461" width="105"/><rect x="400" y="467" width="596"/><rect x="996" y="467" width="75"/><rect x="1070" y="467" width="95"/><rect x="1165" y="467" width="90"/><rect x="1255" y="467" width="114"/><rect x="1369" y="467" width="100"/><rect x="1469" y="467" width="105"/><rect x="400" y="473" width="596"/><rect x="996" y="473" width="75"/><rect x="1070" y="473" width="95"/><rect x="1165" y="473" width="90"/><rect x="1255" y="473" width="114"/><rect x="1369" y="473" width="100"/><rect x="1469" y="473" width="105"/><rect x="400" y="479" width="596"/><rect x="996" y="479" width="75"/><rect x="1071" y="479" width="94"/><rect x="1165" y="479" width="90"/><rect x="1255" y="479" width="114"/><rect x="1369" y="479" width="100"/><rect x="1469" y="479" width="105"/><rect x="400" y="485" width="596"/><rect x="996" y="485" width="75"/><rect x="1071" y="485" width="94"/><rect x="1165" y="485" width="90"/><rect x="1255" y="485" width="113"/><rect x="1368" y="485" width="100"/><rect x="1468" y="485" width="105"/><rect x="400" y="491" width="596"/><rect x="996" y="491" width="75"/><rect x="1071" y="491" width="94"/><rect x="1165" y="491" width="90"/><rect x="1255" y="491" width="113"/><rect x="1368" y="491" width="100"/><rect x="1468" y="491" width="105"/><rect x="400" y="497" width="596"/><rect x="996" y="497" width="75"/><rect x="1071" y="497" width="94"/><rect x="1165" y="497" width="90"/><rect x="1255" y="497" width="113"/><rect x="1368" y="497" width="100"/><rect x="1468" y="497" width="105"/><rect x="400" y="503" width="596"/><rect x="996" y="503" width="75"/><rect x="1071" y="503" width="94"/><rect x="1165" y="503" width="90"/><rect x="1255" y="503" width="113"/><rect x="1368" y="503" width="100"/><rect x="1468" y="503" width="105"/><rect x="400" y="509" width="596"/><rect x="996" y="509" width="75"/><rect x="1071" y="509" width="94"/><rect x="1165" y="509" width="90"/><rect x="1255" y="509" width="113"/><rect x="1368" y="509" width="100"/><rect x="1468" y="509" width="105"/><rect x="400" y="515" width="596"/><rect x="996" y="515" width="75"/><rect x="1071" y="515" width="94"/><rect x="1165" y="515" width="90"/><rect x="1255" y="515" width="113"/><rect x="1368" y="515" width="100"/><rect x="1468" y="515" width="105"/><rect x="400" y="521" width="596"/><rect x="996" y="521" width="75"/><rect x="1071" y="521" width="94"/><rect x="1165" y="521" width="90"/><rect x="1255" y="521" width="113"/><rect x="1368" y="521" width="100"/><rect x="1468" y="521" width="105"/><rect x="400" y="527" width="597"/><rect x="997" y="527" width="74"/><rect x="1071" y="527" width="94"/><rect x="1165" y="527" width="90"/><rect x="1255" y="527" width="112"/><rect x="1367" y="527" width="100"/><rect x="1467" y="527" width="105"/><rect x="400" y="533" width="597"/><rect x="997" y="533" width="74"/><rect x="1071" y="533" width="94"/><rect x="1165" y="533" width="90"/><rect x="1255" y="533" width="112"/><rect x="1367" y="533" width="100"/><rect x="1467" y="533" width="105"/><rect x="400" y="539" width="597"/><rect x="997" y="539" width="74"/><rect x="1071" y="539" width="94"/><rect x="1165" y="539" width="90"/><rect x="1255" y="539" width="112"/><rect x="1367" y="539" width="100"/><rect x="1467" y="539" width="105"/><rect x="400" y="545" width="597"/><rect x="997" y="545" width="74"/><rect x="1071" y="545" width="94"/><rect x="1165" y="545" width="90"/><rect x="1255" y="545" width="112"/><rect x="1367" y="545" width="100"/><rect x="1467" y="545" width="105"/><rect x="1572" y="545" width="88"/><rect x="400" y="551" width="597"/><rect x="997" y="551" width="74"/><rect x="1071" y="551" width="94"/><rect x="1165" y="551" width="90"/><rect x="1255" y="551" width="112"/><rect x="1367" y="551" width="100"/><rect x="1467" y="551" width="105"/><rect x="1572" y="551" width="88"/><rect x="400" y="557" width="597"/><rect x="997" y="557" width="74"/><rect x="1071" y="557" width="94"/><rect x="1165" y="557" width="90"/><rect x="1255" y="557" width="112"/><rect x="1367" y="557" width="100"/><rect x="1467" y="557" width="105"/><rect x="1572" y="557" width="88"/><rect x="400" y="563" width="597"/><rect x="997" y="563" width="74"/><rect x="1071" y="563" width="94"/><rect x="1165" y="563" width="90"/><rect x="1255" y="563" width="111"/><rect x="1366" y="563" width="100"/><rect x="1466" y="563" width="105"/><rect x="1571" y="563" width="89"/><rect x="400" y="569" width="597"/><rect x="997" y="569" width="74"/><rect x="1071" y="569" width="94"/><rect x="1165" y="569" width="90"/><rect x="1255" y="569" width="111"/><rect x="1366" y="569" width="100"/><rect x="1466" y="569" width="105"/><rect x="1571" y="569" width="89"/><rect x="400" y="575" width="597"/><rect x="997" y="575" width="74"/><rect x="1072" y="575" width="93"/><rect x="1165" y="575" width="90"/><rect x="1255" y="575" width="111"/><rect x="1366" y="575" width="100"/><rect x="1466" y="575" width="105"/><rect x="1571" y="575" width="89"/><rect x="400" y="581" width="597"/><rect x="997" y="581" width="74"/><rect x="1072" y="581" width="93"/><rect x="1165" y="581" width="90"/><rect x="1255" y="581" width="111"/><rect x="1366" y="581" width="100"/><rect x="1466" y="581" width="105"/><rect x="1571" y="581" width="89"/><rect x="400" y="587" width="598"/><rect x="998" y="587" width="74"/><rect x="1072" y="587" width="93"/><rect x="1165" y="587" width="90"/><rect x="1255" y="587" width="111"/><rect x="1366" y="587" width="100"/><rect x="1466" y="587" width="105"/><rect x="1571" y="587" width="89"/><rect x="400" y="593" width="598"/><rect x="998" y="593" width="74"/><rect x="1072" y="593" width="93"/><rect x="1165" y="593" width="90"/><rect x="1255" y="593" width="111"/><rect x="1366" y="593" width="100"/><rect x="1466" y="593" width="105"/><rect x="1571" y="593" width="89"/><rect x="400" y="599" width="598"/><rect x="998" y="599" width="74"/><rect x="1072" y="599" width="93"/><rect x="1165" y="599" width="90"/><rect x="1255" y="599" width="110"/><rect x="1365" y="599" width="100"/><rect x="1465" y="599" width="105"/><rect x="1570" y="599" width="90"/><rect x="400" y="605" width="598"/><rect x="998" y="605" width="74"/><rect x="1072" y="605" width="93"/><rect x="1165" y="605" width="90"/><rect x="1255" y="605" width="110"/><rect x="1365" y="605" width="100"/><rect x="1465" y="605" width="105"/><rect x="1570" y="605" width="90"/><rect x="400" y="611" width="598"/><rect x="998" y="611" width="74"/><rect x="1072" y="611" width="93"/><rect x="1165" y="611" width="90"/><rect x="1255" y="611" width="110"/><rect x="1365" y="611" width="100"/><rect x="1465" y="611" width="105"/><rect x="1570" y="611" width="90"/><rect x="400" y="617" width="598"/><rect x="998" y="617" width="74"/><rect x="1072" y="617" width="93"/><rect x="1165" y="617" width="90"/><rect x="1255" y="617" width="110"/><rect x="1365" y="617" width="100"/><rect x="1465" y="617" width="105"/><rect x="1570" y="617" width="90"/></g></g><g style="mix-blend-mode:screen"><rect x="958" y="27" width="634" height="611" fill="url(#sg2)"/><path d="M938 383 L1010 378 L1040 392 L1075 384 L1110 402 L1150 396 L1185 412 L1220 404 L1260 424 L1300 418 L1340 432 L1380 422 L1420 430 L1470 420 L1520 428 L1612 414 L1612 658 L938 658 Z" fill="#008099" filter="url(#blur6)"/><path d="M938 415 L1040 425 L1100 440 L1160 432 L1230 455 L1300 445 L1380 460 L1460 448 L1612 452 L1612 658 L938 658 Z" fill="#00ff80" filter="url(#blur12)"/></g></g></g>
<rect x="978.0" y="47.0" width="594.0" height="571.0" fill="none" stroke="#262626" stroke-width="2.0"/>
<path d="M982.0 618.0v-6.0M982.0 47.0v6.0M1213.5 618.0v-6.0M1213.5 47.0v6.0M1445.0 618.0v-6.0M1445.0 47.0v6.0M978.0 132.4h6.0M1572.0 132.4h-6.0M978.0 225.3h6.0M1572.0 225.3h-6.0M978.0 318.2h6.0M1572.0 318.2h-6.0M978.0 411.1h6.0M1572.0 411.1h-6.0M978.0 504.0h6.0M1572.0 504.0h-6.0M978.0 596.9h6.0M1572.0 596.9h-6.0" stroke="#262626" stroke-width="1.5" fill="none"/>
<text transform="translate(982.0 685.0) scale(0.93 1)" font-size="48.0" text-anchor="middle" fill="#262626">0</text>
<text transform="translate(1213.5 685.0) scale(0.93 1)" font-size="48.0" text-anchor="middle" fill="#262626">5</text>
<text transform="translate(1445.0 685.0) scale(0.93 1)" font-size="48.0" text-anchor="middle" fill="#262626">10</text>
<text transform="translate(959.0 153.4) scale(0.93 1)" font-size="48.0" text-anchor="end" fill="#262626">2</text>
<text transform="translate(959.0 246.3) scale(0.93 1)" font-size="48.0" text-anchor="end" fill="#262626">4</text>
<text transform="translate(959.0 339.2) scale(0.93 1)" font-size="48.0" text-anchor="end" fill="#262626">6</text>
<text transform="translate(959.0 432.1) scale(0.93 1)" font-size="48.0" text-anchor="end" fill="#262626">8</text>
<text transform="translate(959.0 525.0) scale(0.93 1)" font-size="48.0" text-anchor="end" fill="#262626">10</text>
<text transform="translate(959.0 617.9) scale(0.93 1)" font-size="48.0" text-anchor="end" fill="#262626">12</text>
<text x="1273.0" y="750.5" font-size="50.4" text-anchor="middle" fill="#262626">X [mm]</text>
<text transform="translate(893.0,330.0) rotate(-90) scale(0.97 1)" font-size="52.0" text-anchor="middle" fill="#262626">Z [mm]</text>
<rect x="1590.0" y="46.0" width="42.0" height="573.0" fill="url(#cb_parula)" stroke="#262626" stroke-width="1.5"/>
<text x="1649.0" y="531.5" font-size="40.0" text-anchor="start" fill="#262626">-2</text>
<text x="1649.0" y="349.0" font-size="40.0" text-anchor="start" fill="#262626">0</text>
<text x="1649.0" y="166.5" font-size="40.0" text-anchor="start" fill="#262626">2</text>
<path d="M1632.0 514.5h-5M1632.0 332.0h-5M1632.0 149.5h-5" stroke="#262626" stroke-width="1.5" fill="none"/>
<text transform="translate(931.0 38.0) scale(0.95 1)" font-size="43.0" text-anchor="start" fill="#000">b)</text>
</g>
<g id="panel-c">
<g clip-path="url(#clipc)"><g filter="url(#fc)"><rect x="95" y="803" width="666" height="641" fill="#000"/><rect x="95" y="803" width="666" height="641" fill="#290000"/><rect x="95" y="803" width="666" height="367" fill="url(#lg1)"/><rect x="276" y="822" width="160" height="160" fill="url(#rg2)"/><rect x="300" y="960" width="240" height="240" fill="url(#rg3)"/><rect x="430" y="1000" width="180" height="180" fill="url(#rg4)"/><rect x="545" y="1020" width="130" height="130" fill="url(#rg5)"/><rect x="630" y="1055" width="80" height="80" fill="url(#rg6)"/><rect x="212" y="820" width="160" height="160" fill="url(#rg7)"/><path d="M95 803 L264 803 L268 950 L288 1010 L292 1115 L250 1135 L200 1158 L95 1160Z" fill="#920000"/><rect x="80" y="1130" width="240" height="240" fill="url(#rg8)"/><rect x="110" y="843" width="150" height="150" fill="url(#rg9)"/><rect x="100" y="808" width="120" height="120" fill="url(#rg10)"/><rect x="100" y="1110" width="80" height="80" fill="url(#rg11)"/><rect x="223" y="820" width="120" height="120" fill="url(#rg12)"/><rect x="80" y="900" width="240" height="240" fill="url(#rg13)"/></g></g>
<rect x="135.0" y="843.0" width="586.0" height="561.0" fill="none" stroke="#262626" stroke-width="2.0"/>
<path d="M138.0 1404.0v-6.0M138.0 843.0v6.0M367.0 1404.0v-6.0M367.0 843.0v6.0M596.0 1404.0v-6.0M596.0 843.0v6.0M135.0 928.0h6.0M721.0 928.0h-6.0M135.0 1020.8h6.0M721.0 1020.8h-6.0M135.0 1113.6h6.0M721.0 1113.6h-6.0M135.0 1206.4h6.0M721.0 1206.4h-6.0M135.0 1299.2h6.0M721.0 1299.2h-6.0M135.0 1392.0h6.0M721.0 1392.0h-6.0" stroke="#262626" stroke-width="1.5" fill="none"/>
<text transform="translate(138.0 1475.0) scale(0.93 1)" font-size="48.0" text-anchor="middle" fill="#262626">0</text>
<text transform="translate(367.0 1475.0) scale(0.93 1)" font-size="48.0" text-anchor="middle" fill="#262626">5</text>
<text transform="translate(596.0 1475.0) scale(0.93 1)" font-size="48.0" text-anchor="middle" fill="#262626">10</text>
<text transform="translate(117.0 947.5) scale(0.93 1)" font-size="48.0" text-anchor="end" fill="#262626">2</text>
<text transform="translate(117.0 1040.3) scale(0.93 1)" font-size="48.0" text-anchor="end" fill="#262626">4</text>
<text transform="translate(117.0 1133.1) scale(0.93 1)" font-size="48.0" text-anchor="end" fill="#262626">6</text>
<text transform="translate(117.0 1225.9) scale(0.93 1)" font-size="48.0" text-anchor="end" fill="#262626">8</text>
<text transform="translate(117.0 1318.7) scale(0.93 1)" font-size="48.0" text-anchor="end" fill="#262626">10</text>
<text transform="translate(117.0 1411.5) scale(0.93 1)" font-size="48.0" text-anchor="end" fill="#262626">12</text>
<text x="428.0" y="1540.0" font-size="50.4" text-anchor="middle" fill="#262626">X [mm]</text>
<text transform="translate(47.0,1124.0) rotate(-90) scale(0.97 1)" font-size="52.0" text-anchor="middle" fill="#262626">Z [mm]</text>
<rect x="740.0" y="838.0" width="40.0" height="565.0" fill="url(#cb_copper)" stroke="#262626" stroke-width="1.5"/>
<text x="797.0" y="1419.3" font-size="40.0" text-anchor="start" fill="#262626">0</text>
<text x="797.0" y="1306.3" font-size="40.0" text-anchor="start" fill="#262626">20</text>
<text x="797.0" y="1193.3" font-size="40.0" text-anchor="start" fill="#262626">40</text>
<text x="797.0" y="1080.3" font-size="40.0" text-anchor="start" fill="#262626">60</text>
<text x="797.0" y="967.3" font-size="40.0" text-anchor="start" fill="#262626">80</text>
<text x="797.0" y="854.3" font-size="40.0" text-anchor="start" fill="#262626">100</text>
<path d="M780.0 1403.0h-5M780.0 1290.0h-5M780.0 1177.0h-5M780.0 1064.0h-5M780.0 951.0h-5M780.0 838.0h-5" stroke="#262626" stroke-width="1.5" fill="none"/>
<text transform="translate(46.0 816.0) scale(0.95 1)" font-size="43.0" text-anchor="start" fill="#000">c)</text>
</g>
<g id="panel-d">
<g clip-path="url(#clipd)"><g filter="url(#fd)"><rect x="938" y="803" width="675" height="653" fill="#000"/><rect x="938" y="803" width="675" height="653" fill="url(#rg14)"/><path d="M938 1160 L1100 1182 L1200 1200 L1290 1194 L1380 1165 L1480 1145 L1613 1145 L1613 1456 L938 1456Z" fill="url(#lg15)"/><rect x="1105" y="815" width="180" height="180" fill="url(#rg16)"/><rect x="1155" y="802" width="120" height="120" fill="url(#rg17)"/><rect x="1095" y="833" width="70" height="70" fill="url(#rg18)"/><rect x="1230" y="950" width="70" height="70" fill="url(#rg19)"/><rect x="1355" y="930" width="110" height="110" fill="url(#rg20)"/><rect x="970" y="876" width="104" height="104" fill="url(#rg21)"/><rect x="980" y="1110" width="60" height="60" fill="url(#rg22)"/></g></g>
<rect x="978.0" y="843.0" width="595.0" height="573.0" fill="none" stroke="#262626" stroke-width="2.0"/>
<path d="M982.0 1416.0v-6.0M982.0 843.0v6.0M1213.5 1416.0v-6.0M1213.5 843.0v6.0M1445.0 1416.0v-6.0M1445.0 843.0v6.0M978.0 932.3h6.0M1573.0 932.3h-6.0M978.0 1024.2h6.0M1573.0 1024.2h-6.0M978.0 1116.1h6.0M1573.0 1116.1h-6.0M978.0 1208.0h6.0M1573.0 1208.0h-6.0M978.0 1299.9h6.0M1573.0 1299.9h-6.0M978.0 1391.8h6.0M1573.0 1391.8h-6.0" stroke="#262626" stroke-width="1.5" fill="none"/>
<text transform="translate(982.0 1484.0) scale(0.93 1)" font-size="48.0" text-anchor="middle" fill="#262626">0</text>
<text transform="translate(1213.5 1484.0) scale(0.93 1)" font-size="48.0" text-anchor="middle" fill="#262626">5</text>
<text transform="translate(1445.0 1484.0) scale(0.93 1)" font-size="48.0" text-anchor="middle" fill="#262626">10</text>
<text transform="translate(959.0 952.8) scale(0.93 1)" font-size="48.0" text-anchor="end" fill="#262626">2</text>
<text transform="translate(959.0 1044.7) scale(0.93 1)" font-size="48.0" text-anchor="end" fill="#262626">4</text>
<text transform="translate(959.0 1136.6) scale(0.93 1)" font-size="48.0" text-anchor="end" fill="#262626">6</text>
<text transform="translate(959.0 1228.5) scale(0.93 1)" font-size="48.0" text-anchor="end" fill="#262626">8</text>
<text transform="translate(959.0 1320.4) scale(0.93 1)" font-size="48.0" text-anchor="end" fill="#262626">10</text>
<text transform="translate(959.0 1412.3) scale(0.93 1)" font-size="48.0" text-anchor="end" fill="#262626">12</text>
<text x="1273.0" y="1547.0" font-size="50.4" text-anchor="middle" fill="#262626">X [mm]</text>
<text transform="translate(904.0,1130.0) rotate(-90) scale(0.97 1)" font-size="52.0" text-anchor="middle" fill="#262626">Z [mm]</text>
<rect x="1594.0" y="837.0" width="38.0" height="578.0" fill="url(#cb_copper)" stroke="#262626" stroke-width="1.5"/>
<text x="1649.0" y="1432.8" font-size="40.0" text-anchor="start" fill="#262626">0</text>
<text x="1649.0" y="1317.2" font-size="40.0" text-anchor="start" fill="#262626">20</text>
<text x="1649.0" y="1201.6" font-size="40.0" text-anchor="start" fill="#262626">40</text>
<text x="1649.0" y="1086.0" font-size="40.0" text-anchor="start" fill="#262626">60</text>
<text x="1649.0" y="970.4" font-size="40.0" text-anchor="start" fill="#262626">80</text>
<text x="1649.0" y="854.8" font-size="40.0" text-anchor="start" fill="#262626">100</text>
<path d="M1632.0 1415.0h-5M1632.0 1299.4h-5M1632.0 1183.8h-5M1632.0 1068.2h-5M1632.0 952.6h-5M1632.0 837.0h-5" stroke="#262626" stroke-width="1.5" fill="none"/>
<text transform="translate(931.0 816.0) scale(0.95 1)" font-size="43.0" text-anchor="start" fill="#000">d)</text>
</g>
<g id="panel-e">
<g clip-path="url(#clipe)"><g filter="url(#fe)" shape-rendering="crispEdges"><rect x="124" y="1634" width="606" height="575" fill="#800000"/><path fill="#800000" d="M129 1639H347.5V1658.5H129ZM129 1658.5H327.7V1678H129ZM129 1678H327.7V1697.4H129ZM188.6 1697.4H307.8V1716.9H188.6ZM208.5 1716.9H287.9V1736.4H208.5ZM526.3 2028.7H566.1V2048.1H526.3ZM585.9 2028.7H605.8V2048.1H585.9ZM486.6 2048.1H605.8V2067.6H486.6ZM228.3 2067.6H268.1V2087.1H228.3ZM347.5 2067.6H367.4V2087.1H347.5ZM466.7 2067.6H645.5V2087.1H466.7ZM129 2087.1H407.1V2106.6H129ZM427 2087.1H446.9V2106.6H427ZM466.7 2087.1H665.4V2106.6H466.7ZM188.6 2106.6H446.9V2126.1H188.6ZM466.7 2106.6H725V2126.1H466.7ZM228.3 2126.1H446.9V2145.6H228.3ZM466.7 2126.1H486.6V2145.6H466.7ZM506.5 2126.1H725V2145.6H506.5ZM228.3 2145.6H446.9V2165H228.3ZM526.3 2145.6H725V2165H526.3ZM168.7 2165H188.6V2184.5H168.7ZM228.3 2165H466.7V2184.5H228.3ZM526.3 2165H725V2184.5H526.3ZM168.7 2184.5H188.6V2204H168.7ZM248.2 2184.5H466.7V2204H248.2ZM546.2 2184.5H725V2204H546.2Z"/><path fill="#ff4c00" d="M347.5 1639H367.4V1658.5H347.5ZM327.7 1678H347.5V1697.4H327.7ZM506.5 2165H526.3V2184.5H506.5Z"/><path fill="#f2ff0d" d="M367.4 1639H387.3V1658.5H367.4ZM486.6 1970.2H506.5V1989.7H486.6ZM486.6 1989.7H526.3V2009.2H486.6ZM427 2028.7H446.9V2048.1H427ZM129 2048.1H148.9V2067.6H129ZM347.5 2048.1H387.3V2067.6H347.5Z"/><path fill="#60ff9f" d="M387.3 1639H407.1V1658.5H387.3ZM506.5 1658.5H526.3V1678H506.5ZM367.4 1678H387.3V1697.4H367.4ZM466.7 1716.9H486.6V1736.4H466.7ZM705.1 1716.9H725V1736.4H705.1ZM466.7 1736.4H486.6V1755.9H466.7ZM466.7 1794.9H506.5V1814.3H466.7ZM466.7 1814.3H506.5V1833.8H466.7ZM605.8 1814.3H625.7V1833.8H605.8ZM466.7 1833.8H506.5V1853.3H466.7ZM466.7 1872.8H486.6V1892.3H466.7ZM605.8 1872.8H625.7V1892.3H605.8ZM486.6 1892.3H506.5V1911.8H486.6ZM486.6 1911.8H506.5V1931.2H486.6ZM506.5 1931.2H526.3V1950.7H506.5ZM645.5 1931.2H665.4V1950.7H645.5ZM546.2 1950.7H566.1V1970.2H546.2ZM566.1 1989.7H585.9V2009.2H566.1ZM705.1 1989.7H725V2009.2H705.1ZM367.4 2009.2H387.3V2028.7H367.4Z"/><path fill="#00ffff" d="M407.1 1639H427V1658.5H407.1ZM446.9 1639H466.7V1658.5H446.9ZM546.2 1639H566.1V1658.5H546.2ZM645.5 1639H665.4V1658.5H645.5ZM387.3 1658.5H407.1V1678H387.3ZM526.3 1658.5H546.2V1678H526.3ZM466.7 1678H486.6V1697.4H466.7ZM506.5 1678H526.3V1697.4H506.5ZM367.4 1697.4H387.3V1716.9H367.4ZM506.5 1697.4H526.3V1716.9H506.5ZM347.5 1716.9H367.4V1736.4H347.5ZM446.9 1716.9H466.7V1736.4H446.9ZM129 1736.4H148.9V1755.9H129ZM327.7 1736.4H347.5V1755.9H327.7ZM526.3 1755.9H546.2V1775.4H526.3ZM685.3 1755.9H705.1V1775.4H685.3ZM168.7 1775.4H188.6V1794.9H168.7ZM208.5 1775.4H268.1V1794.9H208.5ZM526.3 1775.4H566.1V1794.9H526.3ZM605.8 1775.4H625.7V1794.9H605.8ZM188.6 1794.9H208.5V1814.3H188.6ZM446.9 1794.9H466.7V1814.3H446.9ZM526.3 1794.9H546.2V1814.3H526.3ZM546.2 1814.3H585.9V1833.8H546.2ZM427 1833.8H446.9V1853.3H427ZM546.2 1833.8H566.1V1853.3H546.2ZM546.2 1853.3H566.1V1872.8H546.2ZM427 1872.8H446.9V1892.3H427ZM546.2 1872.8H566.1V1892.3H546.2ZM427 1892.3H446.9V1911.8H427ZM585.9 1892.3H605.8V1911.8H585.9ZM427 1911.8H446.9V1931.2H427ZM427 1931.2H446.9V1950.7H427ZM427 1950.7H446.9V1970.2H427ZM367.4 1970.2H387.3V1989.7H367.4ZM268.1 1989.7H367.4V2009.2H268.1ZM387.3 1989.7H427V2009.2H387.3ZM605.8 1989.7H625.7V2009.2H605.8ZM665.4 1989.7H685.3V2009.2H665.4ZM248.2 2009.2H268.1V2028.7H248.2ZM347.5 2009.2H367.4V2028.7H347.5ZM129 2028.7H148.9V2048.1H129ZM168.7 2028.7H188.6V2048.1H168.7ZM327.7 2028.7H347.5V2048.1H327.7Z"/><path fill="#00bfff" d="M427 1639H446.9V1658.5H427ZM566.1 1639H585.9V1658.5H566.1ZM605.8 1639H645.5V1658.5H605.8ZM407.1 1658.5H427V1678H407.1ZM645.5 1658.5H665.4V1678H645.5ZM387.3 1678H407.1V1697.4H387.3ZM446.9 1678H466.7V1697.4H446.9ZM526.3 1678H546.2V1697.4H526.3ZM665.4 1678H685.3V1697.4H665.4ZM387.3 1697.4H407.1V1716.9H387.3ZM446.9 1697.4H466.7V1716.9H446.9ZM367.4 1716.9H387.3V1736.4H367.4ZM526.3 1716.9H546.2V1736.4H526.3ZM347.5 1736.4H367.4V1755.9H347.5ZM427 1736.4H446.9V1755.9H427ZM427 1755.9H446.9V1775.4H427ZM546.2 1755.9H566.1V1775.4H546.2ZM665.4 1755.9H685.3V1775.4H665.4ZM148.9 1775.4H168.7V1794.9H148.9ZM427 1775.4H446.9V1794.9H427ZM168.7 1794.9H188.6V1814.3H168.7ZM208.5 1794.9H228.3V1814.3H208.5ZM427 1794.9H446.9V1814.3H427ZM208.5 1814.3H228.3V1833.8H208.5ZM188.6 1833.8H208.5V1853.3H188.6ZM407.1 1833.8H427V1853.3H407.1ZM188.6 1853.3H208.5V1872.8H188.6ZM347.5 1853.3H427V1872.8H347.5ZM347.5 1872.8H427V1892.3H347.5ZM407.1 1892.3H427V1911.8H407.1ZM407.1 1931.2H427V1950.7H407.1ZM367.4 1950.7H387.3V1970.2H367.4ZM407.1 1950.7H427V1970.2H407.1ZM268.1 2009.2H287.9V2028.7H268.1ZM327.7 2009.2H347.5V2028.7H327.7Z"/><path fill="#80ff80" d="M466.7 1639H486.6V1658.5H466.7ZM506.5 1639H526.3V1658.5H506.5ZM665.4 1639H685.3V1658.5H665.4ZM486.6 1658.5H506.5V1678H486.6ZM685.3 1678H705.1V1697.4H685.3ZM327.7 1716.9H347.5V1736.4H327.7ZM486.6 1716.9H506.5V1736.4H486.6ZM486.6 1736.4H506.5V1755.9H486.6ZM188.6 1755.9H208.5V1775.4H188.6ZM466.7 1755.9H486.6V1775.4H466.7ZM466.7 1775.4H486.6V1794.9H466.7ZM665.4 1775.4H725V1794.9H665.4ZM645.5 1794.9H665.4V1814.3H645.5ZM705.1 1794.9H725V1814.3H705.1ZM705.1 1814.3H725V1833.8H705.1ZM605.8 1833.8H625.7V1853.3H605.8ZM466.7 1892.3H486.6V1911.8H466.7ZM625.7 1892.3H645.5V1911.8H625.7ZM466.7 1911.8H486.6V1931.2H466.7ZM486.6 1931.2H506.5V1950.7H486.6ZM665.4 1931.2H685.3V1950.7H665.4ZM526.3 1950.7H546.2V1970.2H526.3ZM625.7 1950.7H645.5V1970.2H625.7ZM705.1 1970.2H725V1989.7H705.1ZM407.1 2009.2H427V2028.7H407.1ZM645.5 2009.2H665.4V2028.7H645.5ZM705.1 2009.2H725V2028.7H705.1ZM367.4 2028.7H407.1V2048.1H367.4ZM685.3 2028.7H725V2048.1H685.3Z"/><path fill="#9fff60" d="M486.6 1639H506.5V1658.5H486.6ZM367.4 1658.5H387.3V1678H367.4ZM347.5 1697.4H367.4V1716.9H347.5ZM705.1 1697.4H725V1716.9H705.1ZM486.6 1755.9H506.5V1775.4H486.6ZM486.6 1775.4H506.5V1794.9H486.6ZM685.3 1794.9H705.1V1814.3H685.3ZM625.7 1814.3H645.5V1833.8H625.7ZM605.8 1853.3H625.7V1872.8H605.8ZM665.4 1911.8H685.3V1931.2H665.4ZM427 2009.2H446.9V2028.7H427ZM665.4 2028.7H685.3V2048.1H665.4ZM705.1 2048.1H725V2067.6H705.1Z"/><path fill="#40ffbf" d="M526.3 1639H546.2V1658.5H526.3ZM466.7 1658.5H486.6V1678H466.7ZM486.6 1678H506.5V1697.4H486.6ZM486.6 1697.4H506.5V1716.9H486.6ZM506.5 1716.9H526.3V1736.4H506.5ZM506.5 1736.4H526.3V1755.9H506.5ZM705.1 1736.4H725V1755.9H705.1ZM168.7 1755.9H188.6V1775.4H168.7ZM506.5 1755.9H526.3V1775.4H506.5ZM705.1 1755.9H725V1775.4H705.1ZM188.6 1775.4H208.5V1794.9H188.6ZM506.5 1775.4H526.3V1794.9H506.5ZM645.5 1775.4H665.4V1794.9H645.5ZM506.5 1794.9H526.3V1814.3H506.5ZM605.8 1794.9H645.5V1814.3H605.8ZM506.5 1814.3H526.3V1833.8H506.5ZM506.5 1833.8H526.3V1853.3H506.5ZM585.9 1833.8H605.8V1853.3H585.9ZM446.9 1853.3H486.6V1872.8H446.9ZM585.9 1853.3H605.8V1872.8H585.9ZM446.9 1872.8H466.7V1892.3H446.9ZM486.6 1872.8H506.5V1892.3H486.6ZM585.9 1872.8H605.8V1892.3H585.9ZM446.9 1892.3H466.7V1911.8H446.9ZM446.9 1911.8H466.7V1931.2H446.9ZM625.7 1911.8H645.5V1931.2H625.7ZM446.9 1931.2H466.7V1950.7H446.9ZM526.3 1931.2H546.2V1950.7H526.3ZM625.7 1931.2H645.5V1950.7H625.7ZM446.9 1950.7H466.7V1970.2H446.9ZM566.1 1970.2H585.9V1989.7H566.1ZM665.4 1970.2H685.3V1989.7H665.4ZM228.3 2009.2H248.2V2028.7H228.3ZM685.3 2009.2H705.1V2028.7H685.3ZM148.9 2028.7H168.7V2048.1H148.9Z"/><path fill="#0080ff" d="M585.9 1639H605.8V1658.5H585.9ZM546.2 1658.5H566.1V1678H546.2ZM605.8 1658.5H645.5V1678H605.8ZM407.1 1678H446.9V1697.4H407.1ZM645.5 1678H665.4V1697.4H645.5ZM407.1 1697.4H446.9V1716.9H407.1ZM387.3 1716.9H427V1736.4H387.3ZM546.2 1716.9H566.1V1736.4H546.2ZM665.4 1716.9H685.3V1736.4H665.4ZM367.4 1736.4H427V1755.9H367.4ZM546.2 1736.4H566.1V1755.9H546.2ZM665.4 1736.4H685.3V1755.9H665.4ZM129 1755.9H148.9V1775.4H129ZM327.7 1755.9H387.3V1775.4H327.7ZM407.1 1755.9H427V1775.4H407.1ZM585.9 1755.9H645.5V1775.4H585.9ZM129 1775.4H148.9V1794.9H129ZM347.5 1775.4H387.3V1794.9H347.5ZM407.1 1775.4H427V1794.9H407.1ZM148.9 1794.9H168.7V1814.3H148.9ZM367.4 1794.9H407.1V1814.3H367.4ZM148.9 1814.3H168.7V1833.8H148.9ZM248.2 1814.3H268.1V1833.8H248.2ZM367.4 1814.3H407.1V1833.8H367.4ZM148.9 1833.8H168.7V1853.3H148.9ZM228.3 1833.8H268.1V1853.3H228.3ZM347.5 1833.8H407.1V1853.3H347.5ZM148.9 1853.3H168.7V1872.8H148.9ZM228.3 1853.3H268.1V1872.8H228.3ZM327.7 1853.3H347.5V1872.8H327.7ZM168.7 1872.8H188.6V1892.3H168.7ZM208.5 1872.8H268.1V1892.3H208.5ZM327.7 1872.8H347.5V1892.3H327.7ZM327.7 1892.3H347.5V1911.8H327.7ZM327.7 1911.8H367.4V1931.2H327.7ZM307.8 1931.2H347.5V1950.7H307.8ZM307.8 1950.7H327.7V1970.2H307.8ZM248.2 1970.2H268.1V1989.7H248.2ZM148.9 2009.2H168.7V2028.7H148.9ZM188.6 2009.2H208.5V2028.7H188.6Z"/><path fill="#ffec00" d="M685.3 1639H705.1V1658.5H685.3ZM327.7 1697.4H347.5V1716.9H327.7ZM665.4 1833.8H685.3V1853.3H665.4ZM645.5 1853.3H665.4V1872.8H645.5ZM685.3 1853.3H705.1V1872.8H685.3ZM685.3 1872.8H705.1V1892.3H685.3ZM685.3 2067.6H705.1V2087.1H685.3Z"/><path fill="#ff2000" d="M705.1 1639H725V1658.5H705.1ZM466.7 2028.7H486.6V2048.1H466.7ZM446.9 2087.1H466.7V2106.6H446.9ZM148.9 2106.6H168.7V2126.1H148.9ZM208.5 2126.1H228.3V2145.6H208.5ZM208.5 2184.5H228.3V2204H208.5Z"/><path fill="#cc0000" d="M327.7 1658.5H347.5V1678H327.7ZM188.6 1716.9H208.5V1736.4H188.6ZM287.9 1716.9H307.8V1736.4H287.9Z"/><path fill="#ffbf00" d="M347.5 1658.5H367.4V1678H347.5ZM129 1697.4H148.9V1716.9H129ZM188.6 1736.4H208.5V1755.9H188.6ZM665.4 1853.3H685.3V1872.8H665.4ZM546.2 2009.2H566.1V2028.7H546.2ZM446.9 2028.7H466.7V2048.1H446.9ZM625.7 2028.7H645.5V2048.1H625.7ZM148.9 2048.1H168.7V2067.6H148.9ZM645.5 2048.1H665.4V2067.6H645.5ZM129 2067.6H148.9V2087.1H129ZM705.1 2067.6H725V2087.1H705.1ZM486.6 2145.6H506.5V2165H486.6Z"/><path fill="#009fff" d="M427 1658.5H446.9V1678H427ZM526.3 1697.4H546.2V1716.9H526.3ZM665.4 1697.4H685.3V1716.9H665.4ZM427 1716.9H446.9V1736.4H427ZM566.1 1755.9H585.9V1775.4H566.1ZM645.5 1755.9H665.4V1775.4H645.5ZM228.3 1989.7H248.2V2009.2H228.3Z"/><path fill="#00dfff" d="M446.9 1658.5H466.7V1678H446.9ZM685.3 1716.9H705.1V1736.4H685.3ZM526.3 1736.4H546.2V1755.9H526.3ZM685.3 1736.4H705.1V1755.9H685.3ZM307.8 1755.9H327.7V1775.4H307.8ZM566.1 1775.4H605.8V1794.9H566.1ZM546.2 1794.9H585.9V1814.3H546.2ZM427 1814.3H446.9V1833.8H427ZM427 1853.3H446.9V1872.8H427ZM546.2 1892.3H585.9V1911.8H546.2ZM605.8 1911.8H625.7V1931.2H605.8ZM546.2 1931.2H566.1V1950.7H546.2ZM347.5 1970.2H367.4V1989.7H347.5ZM625.7 1989.7H665.4V2009.2H625.7ZM287.9 2009.2H307.8V2028.7H287.9ZM208.5 2028.7H228.3V2048.1H208.5ZM268.1 2028.7H287.9V2048.1H268.1Z"/><path fill="#0060ff" d="M566.1 1658.5H585.9V1678H566.1ZM546.2 1678H566.1V1697.4H546.2ZM546.2 1697.4H566.1V1716.9H546.2ZM645.5 1697.4H665.4V1716.9H645.5ZM566.1 1736.4H585.9V1755.9H566.1ZM605.8 1736.4H625.7V1755.9H605.8ZM387.3 1755.9H407.1V1775.4H387.3ZM307.8 1775.4H327.7V1794.9H307.8ZM387.3 1775.4H407.1V1794.9H387.3ZM268.1 1794.9H287.9V1814.3H268.1ZM347.5 1794.9H367.4V1814.3H347.5ZM268.1 1814.3H287.9V1833.8H268.1ZM347.5 1814.3H367.4V1833.8H347.5ZM268.1 1833.8H347.5V1853.3H268.1ZM268.1 1853.3H327.7V1872.8H268.1ZM148.9 1872.8H168.7V1892.3H148.9ZM268.1 1872.8H287.9V1892.3H268.1ZM188.6 1892.3H287.9V1911.8H188.6ZM248.2 1931.2H307.8V1950.7H248.2ZM268.1 1950.7H307.8V1970.2H268.1ZM168.7 2009.2H188.6V2028.7H168.7ZM208.5 2009.2H228.3V2028.7H208.5Z"/><path fill="#0040ff" d="M585.9 1658.5H605.8V1678H585.9ZM605.8 1678H645.5V1697.4H605.8ZM605.8 1697.4H625.7V1716.9H605.8ZM566.1 1716.9H585.9V1736.4H566.1ZM605.8 1716.9H625.7V1736.4H605.8ZM645.5 1716.9H665.4V1736.4H645.5ZM585.9 1736.4H605.8V1755.9H585.9ZM645.5 1736.4H665.4V1755.9H645.5ZM327.7 1775.4H347.5V1794.9H327.7ZM129 1794.9H148.9V1814.3H129ZM129 1814.3H148.9V1833.8H129ZM129 1833.8H148.9V1853.3H129ZM129 1853.3H148.9V1872.8H129ZM148.9 1892.3H168.7V1911.8H148.9ZM307.8 1892.3H327.7V1911.8H307.8ZM248.2 1950.7H268.1V1970.2H248.2Z"/><path fill="#20ffdf" d="M665.4 1658.5H685.3V1678H665.4ZM466.7 1697.4H486.6V1716.9H466.7ZM685.3 1697.4H705.1V1716.9H685.3ZM446.9 1736.4H466.7V1755.9H446.9ZM446.9 1755.9H466.7V1775.4H446.9ZM446.9 1775.4H466.7V1794.9H446.9ZM625.7 1775.4H645.5V1794.9H625.7ZM585.9 1794.9H605.8V1814.3H585.9ZM446.9 1814.3H466.7V1833.8H446.9ZM526.3 1814.3H546.2V1833.8H526.3ZM585.9 1814.3H605.8V1833.8H585.9ZM446.9 1833.8H466.7V1853.3H446.9ZM526.3 1833.8H546.2V1853.3H526.3ZM566.1 1833.8H585.9V1853.3H566.1ZM486.6 1853.3H546.2V1872.8H486.6ZM566.1 1853.3H585.9V1872.8H566.1ZM506.5 1872.8H546.2V1892.3H506.5ZM566.1 1872.8H585.9V1892.3H566.1ZM506.5 1892.3H546.2V1911.8H506.5ZM605.8 1892.3H625.7V1911.8H605.8ZM645.5 1970.2H665.4V1989.7H645.5ZM427 1989.7H446.9V2009.2H427Z"/><path fill="#bfff40" d="M685.3 1658.5H705.1V1678H685.3ZM148.9 1716.9H168.7V1736.4H148.9ZM168.7 1736.4H188.6V1755.9H168.7ZM307.8 1736.4H327.7V1755.9H307.8ZM665.4 1794.9H685.3V1814.3H665.4ZM645.5 1814.3H665.4V1833.8H645.5ZM685.3 1814.3H705.1V1833.8H685.3ZM625.7 1833.8H645.5V1853.3H625.7ZM705.1 1833.8H725V1853.3H705.1ZM625.7 1872.8H645.5V1892.3H625.7ZM645.5 1892.3H725V1911.8H645.5ZM506.5 1970.2H526.3V1989.7H506.5Z"/><path fill="#ff9f00" d="M705.1 1658.5H725V1678H705.1ZM148.9 1697.4H168.7V1716.9H148.9ZM168.7 1716.9H188.6V1736.4H168.7ZM307.8 1716.9H327.7V1736.4H307.8ZM208.5 1736.4H228.3V1755.9H208.5ZM268.1 1736.4H287.9V1755.9H268.1ZM466.7 2009.2H486.6V2028.7H466.7ZM446.9 2048.1H466.7V2067.6H446.9ZM665.4 2067.6H685.3V2087.1H665.4ZM129 2165H148.9V2184.5H129ZM466.7 2165H486.6V2184.5H466.7Z"/><path fill="#d2ff2d" d="M347.5 1678H367.4V1697.4H347.5ZM526.3 1989.7H546.2V2009.2H526.3ZM585.9 2009.2H605.8V2028.7H585.9ZM268.1 2048.1H287.9V2067.6H268.1Z"/><path fill="#0020ff" d="M566.1 1678H605.8V1697.4H566.1ZM566.1 1697.4H605.8V1716.9H566.1ZM585.9 1716.9H605.8V1736.4H585.9ZM625.7 1736.4H645.5V1755.9H625.7ZM327.7 1794.9H347.5V1814.3H327.7ZM327.7 1814.3H347.5V1833.8H327.7Z"/><path fill="#ffff00" d="M705.1 1678H725V1697.4H705.1ZM685.3 1833.8H705.1V1853.3H685.3ZM645.5 1872.8H665.4V1892.3H645.5ZM645.5 2028.7H665.4V2048.1H645.5Z"/><path fill="#ac0000" d="M168.7 1697.4H188.6V1716.9H168.7ZM307.8 1697.4H327.7V1716.9H307.8ZM446.9 2126.1H466.7V2145.6H446.9Z"/><path fill="#0000ff" d="M625.7 1697.4H645.5V1716.9H625.7ZM625.7 1716.9H645.5V1736.4H625.7ZM129 1931.2H228.3V1950.7H129ZM129 1950.7H168.7V1970.2H129ZM129 1970.2H168.7V1989.7H129ZM168.7 1989.7H208.5V2009.2H168.7Z"/><path fill="#73ff8c" d="M129 1716.9H148.9V1736.4H129ZM665.4 2009.2H685.3V2028.7H665.4Z"/><path fill="#53ffac" d="M148.9 1736.4H168.7V1755.9H148.9ZM268.1 1755.9H287.9V1775.4H268.1ZM446.9 1970.2H466.7V1989.7H446.9ZM685.3 1970.2H705.1V1989.7H685.3ZM446.9 1989.7H466.7V2009.2H446.9ZM347.5 2028.7H367.4V2048.1H347.5Z"/><path fill="#ff8000" d="M228.3 1736.4H248.2V1755.9H228.3ZM506.5 2009.2H546.2V2028.7H506.5ZM228.3 2048.1H248.2V2067.6H228.3ZM148.9 2145.6H168.7V2165H148.9ZM208.5 2165H228.3V2184.5H208.5ZM486.6 2184.5H506.5V2204H486.6Z"/><path fill="#ff5300" d="M248.2 1736.4H268.1V1755.9H248.2ZM208.5 2067.6H228.3V2087.1H208.5Z"/><path fill="#fff200" d="M287.9 1736.4H307.8V1755.9H287.9ZM566.1 2009.2H585.9V2028.7H566.1ZM188.6 2048.1H208.5V2067.6H188.6ZM287.9 2048.1H327.7V2067.6H287.9ZM665.4 2048.1H685.3V2067.6H665.4Z"/><path fill="#00ecff" d="M148.9 1755.9H168.7V1775.4H148.9ZM387.3 1970.2H427V1989.7H387.3ZM307.8 2009.2H327.7V2028.7H307.8Z"/><path fill="#6cff93" d="M208.5 1755.9H228.3V1775.4H208.5Z"/><path fill="#8cff73" d="M228.3 1755.9H268.1V1775.4H228.3Z"/><path fill="#0dfff2" d="M287.9 1755.9H307.8V1775.4H287.9Z"/><path fill="#00acff" d="M268.1 1775.4H287.9V1794.9H268.1ZM228.3 1794.9H248.2V1814.3H228.3ZM168.7 1814.3H188.6V1833.8H168.7ZM407.1 1814.3H427V1833.8H407.1ZM367.4 1892.3H407.1V1911.8H367.4ZM387.3 1911.8H407.1V1931.2H387.3ZM347.5 1931.2H407.1V1950.7H347.5ZM327.7 1950.7H367.4V1970.2H327.7ZM387.3 1950.7H407.1V1970.2H387.3ZM307.8 1970.2H327.7V1989.7H307.8Z"/><path fill="#0093ff" d="M287.9 1775.4H307.8V1794.9H287.9ZM248.2 1794.9H268.1V1814.3H248.2ZM407.1 1794.9H427V1814.3H407.1ZM228.3 1814.3H248.2V1833.8H228.3ZM168.7 1833.8H188.6V1853.3H168.7ZM208.5 1833.8H228.3V1853.3H208.5ZM168.7 1853.3H188.6V1872.8H168.7ZM208.5 1853.3H228.3V1872.8H208.5ZM188.6 1872.8H208.5V1892.3H188.6ZM347.5 1892.3H367.4V1911.8H347.5ZM268.1 1970.2H307.8V1989.7H268.1Z"/><path fill="#002dff" d="M287.9 1794.9H327.7V1814.3H287.9ZM287.9 1814.3H327.7V1833.8H287.9ZM208.5 1911.8H248.2V1931.2H208.5ZM228.3 1931.2H248.2V1950.7H228.3ZM228.3 1970.2H248.2V1989.7H228.3Z"/><path fill="#00d2ff" d="M188.6 1814.3H208.5V1833.8H188.6ZM546.2 1911.8H605.8V1931.2H546.2ZM566.1 1931.2H625.7V1950.7H566.1ZM327.7 1970.2H347.5V1989.7H327.7Z"/><path fill="#dfff20" d="M665.4 1814.3H685.3V1833.8H665.4ZM645.5 1833.8H665.4V1853.3H645.5ZM625.7 1853.3H645.5V1872.8H625.7ZM705.1 1853.3H725V1872.8H705.1ZM705.1 1872.8H725V1892.3H705.1ZM327.7 2048.1H347.5V2067.6H327.7ZM387.3 2048.1H407.1V2067.6H387.3Z"/><path fill="#0013ff" d="M129 1872.8H148.9V1892.3H129ZM188.6 1911.8H208.5V1931.2H188.6ZM228.3 1950.7H248.2V1970.2H228.3ZM129 1989.7H168.7V2009.2H129ZM208.5 1989.7H228.3V2009.2H208.5Z"/><path fill="#0033ff" d="M287.9 1872.8H307.8V1892.3H287.9ZM287.9 1892.3H307.8V1911.8H287.9ZM268.1 1911.8H307.8V1931.2H268.1Z"/><path fill="#0053ff" d="M307.8 1872.8H327.7V1892.3H307.8ZM248.2 1911.8H268.1V1931.2H248.2Z"/><path fill="#ffd200" d="M665.4 1872.8H685.3V1892.3H665.4ZM407.1 2048.1H427V2067.6H407.1Z"/><path fill="#000dff" d="M129 1892.3H148.9V1911.8H129ZM129 1911.8H188.6V1931.2H129Z"/><path fill="#004dff" d="M168.7 1892.3H188.6V1911.8H168.7Z"/><path fill="#0046ff" d="M307.8 1911.8H327.7V1931.2H307.8Z"/><path fill="#00a6ff" d="M367.4 1911.8H387.3V1931.2H367.4Z"/><path fill="#00e5ff" d="M407.1 1911.8H427V1931.2H407.1Z"/><path fill="#2dffd2" d="M506.5 1911.8H526.3V1931.2H506.5ZM367.4 1989.7H387.3V2009.2H367.4Z"/><path fill="#13ffec" d="M526.3 1911.8H546.2V1931.2H526.3ZM566.1 1950.7H605.8V1970.2H566.1ZM427 1970.2H446.9V1989.7H427ZM585.9 1970.2H645.5V1989.7H585.9ZM585.9 1989.7H605.8V2009.2H585.9ZM685.3 1989.7H705.1V2009.2H685.3ZM387.3 2009.2H407.1V2028.7H387.3ZM287.9 2028.7H327.7V2048.1H287.9Z"/><path fill="#93ff6c" d="M645.5 1911.8H665.4V1931.2H645.5ZM705.1 1911.8H725V1931.2H705.1ZM466.7 1931.2H486.6V1950.7H466.7ZM685.3 1931.2H725V1950.7H685.3ZM506.5 1950.7H526.3V1970.2H506.5ZM645.5 1950.7H685.3V1970.2H645.5ZM705.1 1950.7H725V1970.2H705.1ZM407.1 2028.7H427V2048.1H407.1Z"/><path fill="#b3ff4c" d="M685.3 1911.8H705.1V1931.2H685.3ZM466.7 1970.2H486.6V1989.7H466.7ZM526.3 1970.2H546.2V1989.7H526.3ZM466.7 1989.7H486.6V2009.2H466.7ZM546.2 1989.7H566.1V2009.2H546.2ZM446.9 2009.2H466.7V2028.7H446.9ZM208.5 2048.1H228.3V2067.6H208.5Z"/><path fill="#0000df" d="M168.7 1950.7H188.6V1970.2H168.7Z"/><path fill="#0000cc" d="M188.6 1950.7H208.5V1970.2H188.6ZM188.6 1970.2H208.5V1989.7H188.6Z"/><path fill="#0000f2" d="M208.5 1950.7H228.3V1970.2H208.5ZM208.5 1970.2H228.3V1989.7H208.5Z"/><path fill="#acff53" d="M466.7 1950.7H506.5V1970.2H466.7ZM685.3 1950.7H705.1V1970.2H685.3ZM546.2 1970.2H566.1V1989.7H546.2ZM605.8 2009.2H645.5V2028.7H605.8ZM228.3 2028.7H268.1V2048.1H228.3ZM685.3 2048.1H705.1V2067.6H685.3Z"/><path fill="#33ffcc" d="M605.8 1950.7H625.7V1970.2H605.8Z"/><path fill="#0000ec" d="M168.7 1970.2H188.6V1989.7H168.7Z"/><path fill="#00f2ff" d="M248.2 1989.7H268.1V2009.2H248.2ZM188.6 2028.7H208.5V2048.1H188.6Z"/><path fill="#006cff" d="M129 2009.2H148.9V2028.7H129Z"/><path fill="#ff4000" d="M486.6 2009.2H506.5V2028.7H486.6ZM605.8 2028.7H625.7V2048.1H605.8ZM248.2 2048.1H268.1V2067.6H248.2ZM367.4 2067.6H387.3V2087.1H367.4ZM645.5 2067.6H665.4V2087.1H645.5ZM685.3 2087.1H725V2106.6H685.3ZM148.9 2126.1H168.7V2145.6H148.9ZM129 2145.6H148.9V2165H129Z"/><path fill="#bf0000" d="M486.6 2028.7H506.5V2048.1H486.6ZM566.1 2028.7H585.9V2048.1H566.1ZM605.8 2048.1H625.7V2067.6H605.8ZM327.7 2067.6H347.5V2087.1H327.7ZM407.1 2087.1H427V2106.6H407.1ZM168.7 2106.6H188.6V2126.1H168.7ZM446.9 2106.6H466.7V2126.1H446.9ZM486.6 2126.1H506.5V2145.6H486.6ZM446.9 2145.6H466.7V2165H446.9Z"/><path fill="#9f0000" d="M506.5 2028.7H526.3V2048.1H506.5ZM665.4 2087.1H685.3V2106.6H665.4ZM148.9 2184.5H168.7V2204H148.9ZM228.3 2184.5H248.2V2204H228.3ZM466.7 2184.5H486.6V2204H466.7Z"/><path fill="#ffcc00" d="M168.7 2048.1H188.6V2067.6H168.7ZM427 2048.1H446.9V2067.6H427Z"/><path fill="#ec0000" d="M466.7 2048.1H486.6V2067.6H466.7ZM168.7 2067.6H208.5V2087.1H168.7ZM427 2067.6H446.9V2087.1H427ZM129 2106.6H148.9V2126.1H129ZM526.3 2184.5H546.2V2204H526.3Z"/><path fill="#ff6000" d="M625.7 2048.1H645.5V2067.6H625.7ZM208.5 2145.6H228.3V2165H208.5Z"/><path fill="#ff2d00" d="M148.9 2067.6H168.7V2087.1H148.9ZM268.1 2067.6H287.9V2087.1H268.1ZM407.1 2067.6H427V2087.1H407.1Z"/><path fill="#ff0000" d="M287.9 2067.6H307.8V2087.1H287.9ZM446.9 2067.6H466.7V2087.1H446.9ZM129 2126.1H148.9V2145.6H129ZM168.7 2126.1H208.5V2145.6H168.7ZM168.7 2145.6H208.5V2165H168.7ZM506.5 2145.6H526.3V2165H506.5ZM129 2184.5H148.9V2204H129ZM188.6 2184.5H208.5V2204H188.6ZM506.5 2184.5H526.3V2204H506.5Z"/><path fill="#df0000" d="M307.8 2067.6H327.7V2087.1H307.8Z"/><path fill="#ff7300" d="M387.3 2067.6H407.1V2087.1H387.3ZM486.6 2165H506.5V2184.5H486.6Z"/><path fill="#ff6c00" d="M466.7 2145.6H486.6V2165H466.7ZM148.9 2165H168.7V2184.5H148.9ZM188.6 2165H208.5V2184.5H188.6Z"/></g></g>
<rect x="129.0" y="1639.0" width="596.0" height="565.0" fill="none" stroke="#262626" stroke-width="2.0"/>
<path d="M141.0 2204.0v-6.0M141.0 1639.0v6.0M273.8 2204.0v-6.0M273.8 1639.0v6.0M406.5 2204.0v-6.0M406.5 1639.0v6.0M539.2 2204.0v-6.0M539.2 1639.0v6.0M672.0 2204.0v-6.0M672.0 1639.0v6.0M129.0 1643.6h6.0M725.0 1643.6h-6.0M129.0 1775.2h6.0M725.0 1775.2h-6.0M129.0 1906.8h6.0M725.0 1906.8h-6.0M129.0 2038.4h6.0M725.0 2038.4h-6.0M129.0 2170.0h6.0M725.0 2170.0h-6.0" stroke="#262626" stroke-width="1.5" fill="none"/>
<text transform="translate(141.0 2270.0) scale(0.93 1)" font-size="48.0" text-anchor="middle" fill="#262626">2</text>
<text transform="translate(273.8 2270.0) scale(0.93 1)" font-size="48.0" text-anchor="middle" fill="#262626">4</text>
<text transform="translate(406.5 2270.0) scale(0.93 1)" font-size="48.0" text-anchor="middle" fill="#262626">6</text>
<text transform="translate(539.2 2270.0) scale(0.93 1)" font-size="48.0" text-anchor="middle" fill="#262626">8</text>
<text transform="translate(672.0 2270.0) scale(0.93 1)" font-size="48.0" text-anchor="middle" fill="#262626">10</text>
<text transform="translate(115.0 1663.1) scale(0.93 1)" font-size="48.0" text-anchor="end" fill="#262626">2</text>
<text transform="translate(115.0 1794.7) scale(0.93 1)" font-size="48.0" text-anchor="end" fill="#262626">4</text>
<text transform="translate(115.0 1926.3) scale(0.93 1)" font-size="48.0" text-anchor="end" fill="#262626">6</text>
<text transform="translate(115.0 2057.9) scale(0.93 1)" font-size="48.0" text-anchor="end" fill="#262626">8</text>
<text transform="translate(115.0 2189.5) scale(0.93 1)" font-size="48.0" text-anchor="end" fill="#262626">10</text>
<text x="428.0" y="2335.0" font-size="50.4" text-anchor="middle" fill="#262626">X [mm]</text>
<text transform="translate(42.0,1920.0) rotate(-90) scale(0.97 1)" font-size="52.0" text-anchor="middle" fill="#262626">Z [mm]</text>
<rect x="745.0" y="1636.0" width="41.0" height="571.0" fill="url(#cb_jet)" stroke="#262626" stroke-width="1.5"/>
<text x="803.0" y="2225.3" font-size="40.0" text-anchor="start" fill="#262626">2</text>
<text x="803.0" y="2111.1" font-size="40.0" text-anchor="start" fill="#262626">2.1</text>
<text x="803.0" y="1996.9" font-size="40.0" text-anchor="start" fill="#262626">2.2</text>
<text x="803.0" y="1882.7" font-size="40.0" text-anchor="start" fill="#262626">2.3</text>
<text x="803.0" y="1768.5" font-size="40.0" text-anchor="start" fill="#262626">2.4</text>
<text x="803.0" y="1654.3" font-size="40.0" text-anchor="start" fill="#262626">2.5</text>
<path d="M786.0 2207.0h-5M786.0 2092.8h-5M786.0 1978.6h-5M786.0 1864.4h-5M786.0 1750.2h-5M786.0 1636.0h-5" stroke="#262626" stroke-width="1.5" fill="none"/>
<text transform="translate(46.0 1594.0) scale(0.95 1)" font-size="43.0" text-anchor="start" fill="#000">e)</text>
</g>
<g id="panel-f">
<g clip-path="url(#clipf)"><g filter="url(#ff)" shape-rendering="crispEdges"><rect x="969" y="1634" width="613" height="583" fill="#800000"/><path fill="#ff0000" d="M974 1639H994.1V1658.8H974ZM1295.6 2093.4H1315.7V2113.2H1295.6ZM1496.6 2113.2H1516.7V2133H1496.6Z"/><path fill="#ffec00" d="M994.1 1639H1014.2V1658.8H994.1ZM974 2053.9H994.1V2073.7H974ZM1476.5 2093.4H1496.6V2113.2H1476.5Z"/><path fill="#53ffac" d="M1014.2 1639H1034.3V1658.8H1014.2ZM994.1 1658.8H1014.2V1678.5H994.1ZM1556.9 1718H1577V1737.8H1556.9ZM1556.9 1737.8H1577V1757.6H1556.9ZM1556.9 1757.6H1577V1777.3H1556.9ZM1556.9 1777.3H1577V1797.1H1556.9ZM1556.9 1797.1H1577V1816.8H1556.9ZM1536.8 1816.8H1577V1836.6H1536.8ZM1556.9 1836.6H1577V1856.3H1556.9ZM1556.9 1856.3H1577V1876.1H1556.9ZM1496.6 1994.7H1516.7V2014.4H1496.6ZM1134.8 2093.4H1154.9V2113.2H1134.8Z"/><path fill="#0080ff" d="M1034.3 1639H1054.4V1658.8H1034.3ZM1235.3 1639H1255.4V1658.8H1235.3ZM1275.5 1639H1295.6V1658.8H1275.5ZM1416.2 1639H1456.4V1658.8H1416.2ZM1335.8 1658.8H1376V1678.5H1335.8ZM1456.4 1658.8H1476.5V1678.5H1456.4ZM994.1 1678.5H1014.2V1698.3H994.1ZM1496.6 1718H1516.7V1737.8H1496.6ZM1355.9 1737.8H1376V1757.6H1355.9ZM1335.8 1757.6H1355.9V1777.3H1335.8ZM1496.6 1757.6H1516.7V1777.3H1496.6ZM1154.9 1797.1H1215.2V1816.8H1154.9ZM1275.5 1797.1H1295.6V1816.8H1275.5ZM1134.8 1816.8H1175V1836.6H1134.8ZM1134.8 1836.6H1154.9V1856.3H1134.8ZM1134.8 1856.3H1154.9V1876.1H1134.8ZM1134.8 1876.1H1154.9V1895.9H1134.8ZM1094.6 1895.9H1154.9V1915.6H1094.6ZM1195.1 1915.6H1215.2V1935.4H1195.1ZM1175 1935.4H1215.2V1955.1H1175ZM1054.4 1974.9H1074.5V1994.7H1054.4ZM1134.8 2053.9H1175V2073.7H1134.8Z"/><path fill="#0040ff" d="M1054.4 1639H1074.5V1658.8H1054.4ZM1094.6 1639H1114.7V1658.8H1094.6ZM1034.3 1658.8H1054.4V1678.5H1034.3ZM1134.8 1658.8H1154.9V1678.5H1134.8ZM1014.2 1678.5H1034.3V1698.3H1014.2ZM1175 1678.5H1195.1V1698.3H1175ZM974 1698.3H994.1V1718H974ZM1476.5 1698.3H1496.6V1718H1476.5ZM1376 1718H1396.1V1737.8H1376ZM1416.2 1737.8H1436.3V1757.6H1416.2ZM1054.4 1757.6H1074.5V1777.3H1054.4ZM1195.1 1757.6H1215.2V1777.3H1195.1ZM1034.3 1777.3H1074.5V1797.1H1034.3ZM1074.5 1856.3H1094.6V1876.1H1074.5ZM1154.9 2014.4H1175V2034.2H1154.9ZM1154.9 2034.2H1175V2053.9H1154.9Z"/><path fill="#002dff" d="M1074.5 1639H1094.6V1658.8H1074.5ZM1416.2 1718H1436.3V1737.8H1416.2ZM1175 1737.8H1195.1V1757.6H1175Z"/><path fill="#0073ff" d="M1114.7 1639H1134.8V1658.8H1114.7ZM1255.4 1639H1275.5V1658.8H1255.4ZM1175 1658.8H1195.1V1678.5H1175ZM1014.2 1994.7H1034.3V2014.4H1014.2Z"/><path fill="#009fff" d="M1134.8 1639H1154.9V1658.8H1134.8ZM1215.2 1639H1235.3V1658.8H1215.2ZM1074.5 2034.2H1094.6V2053.9H1074.5Z"/><path fill="#00ecff" d="M1154.9 1639H1175V1658.8H1154.9ZM1335.8 1876.1H1376V1895.9H1335.8Z"/><path fill="#00f2ff" d="M1175 1639H1195.1V1658.8H1175ZM1496.6 1639H1516.7V1658.8H1496.6ZM1496.6 1797.1H1516.7V1816.8H1496.6ZM1376 1856.3H1416.2V1876.1H1376ZM1315.7 1895.9H1355.9V1915.6H1315.7ZM1436.3 1915.6H1476.5V1935.4H1436.3ZM1416.2 1935.4H1456.4V1955.1H1416.2ZM1476.5 1935.4H1496.6V1955.1H1476.5ZM1315.7 1994.7H1335.8V2014.4H1315.7ZM1215.2 2014.4H1235.3V2034.2H1215.2ZM1315.7 2014.4H1355.9V2034.2H1315.7ZM1014.2 2034.2H1034.3V2053.9H1014.2ZM1255.4 2034.2H1315.7V2053.9H1255.4ZM1154.9 2093.4H1175V2113.2H1154.9Z"/><path fill="#00b2ff" d="M1195.1 1639H1215.2V1658.8H1195.1ZM1315.7 1639H1335.8V1658.8H1315.7ZM1496.6 1777.3H1516.7V1797.1H1496.6ZM1315.7 1797.1H1355.9V1816.8H1315.7ZM1315.7 1816.8H1355.9V1836.6H1315.7ZM1295.6 1836.6H1315.7V1856.3H1295.6ZM1275.5 1895.9H1295.6V1915.6H1275.5ZM1255.4 1935.4H1275.5V1955.1H1255.4ZM1255.4 1955.1H1275.5V1974.9H1255.4ZM1215.2 1974.9H1275.5V1994.7H1215.2ZM974 1994.7H994.1V2014.4H974ZM1054.4 1994.7H1114.7V2014.4H1054.4ZM1195.1 1994.7H1215.2V2014.4H1195.1ZM1235.3 1994.7H1275.5V2014.4H1235.3ZM1255.4 2014.4H1275.5V2034.2H1255.4ZM1054.4 2034.2H1074.5V2053.9H1054.4ZM1134.8 2073.7H1154.9V2093.4H1134.8Z"/><path fill="#008cff" d="M1295.6 1639H1315.7V1658.8H1295.6ZM1396.1 1639H1416.2V1658.8H1396.1ZM1476.5 1658.8H1496.6V1678.5H1476.5ZM1496.6 1698.3H1516.7V1718H1496.6ZM1355.9 1757.6H1436.3V1777.3H1355.9ZM1295.6 1777.3H1315.7V1797.1H1295.6ZM1456.4 1777.3H1496.6V1797.1H1456.4ZM1175 1816.8H1295.6V1836.6H1175ZM1154.9 1836.6H1175V1856.3H1154.9ZM1215.2 1836.6H1255.4V1856.3H1215.2ZM1154.9 1856.3H1195.1V1876.1H1154.9ZM1154.9 1876.1H1195.1V1895.9H1154.9ZM1154.9 1895.9H1215.2V1915.6H1154.9ZM1074.5 1915.6H1094.6V1935.4H1074.5ZM1134.8 1915.6H1154.9V1935.4H1134.8ZM1175 1915.6H1195.1V1935.4H1175ZM1215.2 1915.6H1235.3V1935.4H1215.2ZM1074.5 1935.4H1154.9V1955.1H1074.5ZM1215.2 1935.4H1235.3V1955.1H1215.2ZM1074.5 1955.1H1195.1V1974.9H1074.5ZM1175 1974.9H1195.1V1994.7H1175ZM1114.7 1994.7H1134.8V2014.4H1114.7ZM1175 1994.7H1195.1V2014.4H1175ZM1175 2014.4H1195.1V2034.2H1175ZM1094.6 2034.2H1114.7V2053.9H1094.6ZM1175 2034.2H1195.1V2053.9H1175Z"/><path fill="#00bfff" d="M1335.8 1639H1376V1658.8H1335.8ZM1476.5 1639H1496.6V1658.8H1476.5ZM1014.2 1658.8H1034.3V1678.5H1014.2ZM1355.9 1797.1H1376V1816.8H1355.9ZM1355.9 1816.8H1376V1836.6H1355.9ZM1335.8 1836.6H1355.9V1856.3H1335.8ZM1315.7 1856.3H1335.8V1876.1H1315.7ZM1295.6 1876.1H1315.7V1895.9H1295.6ZM1275.5 1915.6H1295.6V1935.4H1275.5ZM1275.5 1955.1H1295.6V1974.9H1275.5Z"/><path fill="#00a6ff" d="M1376 1639H1396.1V1658.8H1376ZM1436.3 1777.3H1456.4V1797.1H1436.3ZM1295.6 1816.8H1315.7V1836.6H1295.6ZM1275.5 1856.3H1315.7V1876.1H1275.5Z"/><path fill="#0093ff" d="M1456.4 1639H1476.5V1658.8H1456.4ZM1315.7 1777.3H1335.8V1797.1H1315.7ZM1295.6 1797.1H1315.7V1816.8H1295.6ZM1255.4 1836.6H1295.6V1856.3H1255.4ZM1215.2 1856.3H1255.4V1876.1H1215.2ZM1195.1 1876.1H1255.4V1895.9H1195.1ZM1215.2 1895.9H1255.4V1915.6H1215.2ZM1094.6 1915.6H1134.8V1935.4H1094.6ZM1235.3 1915.6H1255.4V1935.4H1235.3ZM1114.7 1974.9H1134.8V1994.7H1114.7ZM994.1 1994.7H1014.2V2014.4H994.1ZM1094.6 2014.4H1114.7V2034.2H1094.6ZM1154.9 2073.7H1175V2093.4H1154.9Z"/><path fill="#60ff9f" d="M1516.7 1639H1536.8V1658.8H1516.7ZM1556.9 1698.3H1577V1718H1556.9ZM1496.6 1876.1H1516.7V1895.9H1496.6ZM1556.9 1876.1H1577V1895.9H1556.9ZM1496.6 1895.9H1516.7V1915.6H1496.6ZM1536.8 1994.7H1556.9V2014.4H1536.8ZM1396.1 2014.4H1416.2V2034.2H1396.1ZM1014.2 2053.9H1034.3V2073.7H1014.2ZM1195.1 2053.9H1215.2V2073.7H1195.1ZM1416.2 2053.9H1436.3V2073.7H1416.2ZM1195.1 2073.7H1215.2V2093.4H1195.1Z"/><path fill="#acff53" d="M1536.8 1639H1577V1658.8H1536.8ZM1556.9 1895.9H1577V1915.6H1556.9ZM1335.8 2073.7H1355.9V2093.4H1335.8Z"/><path fill="#ffcc00" d="M974 1658.8H994.1V1678.5H974ZM1496.6 2053.9H1516.7V2073.7H1496.6ZM1536.8 2053.9H1556.9V2073.7H1536.8ZM1476.5 2073.7H1496.6V2093.4H1476.5ZM1114.7 2093.4H1134.8V2113.2H1114.7ZM1215.2 2093.4H1235.3V2113.2H1215.2ZM1376 2093.4H1396.1V2113.2H1376ZM1154.9 2113.2H1175V2133H1154.9Z"/><path fill="#000dff" d="M1054.4 1658.8H1074.5V1678.5H1054.4ZM1195.1 1678.5H1275.5V1698.3H1195.1ZM1275.5 1698.3H1295.6V1718H1275.5ZM1476.5 1718H1496.6V1737.8H1476.5ZM1034.3 1737.8H1074.5V1757.6H1034.3ZM1436.3 1737.8H1456.4V1757.6H1436.3ZM1476.5 1737.8H1496.6V1757.6H1476.5ZM1034.3 1757.6H1054.4V1777.3H1034.3ZM1034.3 1797.1H1054.4V1816.8H1034.3ZM1054.4 1816.8H1074.5V1836.6H1054.4ZM1054.4 1836.6H1074.5V1856.3H1054.4ZM1014.2 1876.1H1034.3V1895.9H1014.2ZM1014.2 1895.9H1034.3V1915.6H1014.2Z"/><path fill="#0000ff" d="M1074.5 1658.8H1114.7V1678.5H1074.5ZM1034.3 1678.5H1054.4V1698.3H1034.3ZM1134.8 1678.5H1175V1698.3H1134.8ZM1416.2 1698.3H1476.5V1718H1416.2ZM1054.4 1718H1094.6V1737.8H1054.4ZM1436.3 1718H1476.5V1737.8H1436.3ZM1195.1 1737.8H1235.3V1757.6H1195.1ZM1255.4 1737.8H1275.5V1757.6H1255.4ZM1456.4 1737.8H1476.5V1757.6H1456.4ZM1014.2 1836.6H1054.4V1856.3H1014.2ZM1014.2 1915.6H1034.3V1935.4H1014.2ZM1034.3 1935.4H1054.4V1955.1H1034.3ZM1034.3 1955.1H1054.4V1974.9H1034.3ZM1014.2 1974.9H1034.3V1994.7H1014.2Z"/><path fill="#0013ff" d="M1114.7 1658.8H1134.8V1678.5H1114.7ZM1134.8 2034.2H1154.9V2053.9H1134.8Z"/><path fill="#0060ff" d="M1154.9 1658.8H1175V1678.5H1154.9ZM1195.1 1658.8H1235.3V1678.5H1195.1ZM1275.5 1658.8H1295.6V1678.5H1275.5ZM1396.1 1658.8H1456.4V1678.5H1396.1ZM1335.8 1718H1376V1737.8H1335.8ZM1335.8 1737.8H1355.9V1757.6H1335.8ZM1134.8 1757.6H1195.1V1777.3H1134.8ZM1436.3 1757.6H1456.4V1777.3H1436.3ZM1114.7 1777.3H1134.8V1797.1H1114.7ZM1255.4 1777.3H1275.5V1797.1H1255.4ZM1114.7 1797.1H1154.9V1816.8H1114.7ZM1215.2 1797.1H1255.4V1816.8H1215.2ZM1094.6 1816.8H1134.8V1836.6H1094.6ZM1094.6 1856.3H1134.8V1876.1H1094.6ZM1074.5 1876.1H1114.7V1895.9H1074.5ZM1074.5 1895.9H1094.6V1915.6H1074.5ZM1134.8 1974.9H1175V1994.7H1134.8ZM1134.8 1994.7H1175V2014.4H1134.8ZM1114.7 2014.4H1134.8V2034.2H1114.7ZM1114.7 2034.2H1134.8V2053.9H1114.7Z"/><path fill="#004dff" d="M1235.3 1658.8H1275.5V1678.5H1235.3Z"/><path fill="#006cff" d="M1295.6 1658.8H1335.8V1678.5H1295.6ZM1315.7 1757.6H1335.8V1777.3H1315.7Z"/><path fill="#0066ff" d="M1376 1658.8H1396.1V1678.5H1376ZM1376 1737.8H1416.2V1757.6H1376ZM1496.6 1737.8H1516.7V1757.6H1496.6ZM1295.6 1757.6H1315.7V1777.3H1295.6ZM1134.8 1777.3H1215.2V1797.1H1134.8ZM1275.5 1777.3H1295.6V1797.1H1275.5ZM1255.4 1797.1H1275.5V1816.8H1255.4ZM1114.7 1836.6H1134.8V1856.3H1114.7ZM1154.9 1915.6H1175V1935.4H1154.9ZM1154.9 1935.4H1175V1955.1H1154.9Z"/><path fill="#00dfff" d="M1496.6 1658.8H1516.7V1678.5H1496.6ZM1496.6 1678.5H1516.7V1698.3H1496.6ZM1335.8 1856.3H1376V1876.1H1335.8ZM1295.6 1895.9H1315.7V1915.6H1295.6ZM1275.5 1935.4H1295.6V1955.1H1275.5ZM1456.4 1935.4H1476.5V1955.1H1456.4ZM1014.2 2014.4H1034.3V2034.2H1014.2ZM1195.1 2014.4H1215.2V2034.2H1195.1ZM1034.3 2034.2H1054.4V2053.9H1034.3ZM1034.3 2053.9H1054.4V2073.7H1034.3ZM1175 2053.9H1195.1V2073.7H1175Z"/><path fill="#40ffbf" d="M1516.7 1658.8H1536.8V1678.5H1516.7ZM1516.7 1678.5H1536.8V1698.3H1516.7ZM1536.8 1698.3H1556.9V1718H1536.8ZM1536.8 1718H1556.9V1737.8H1536.8ZM1536.8 1737.8H1556.9V1757.6H1536.8ZM1536.8 1757.6H1556.9V1777.3H1536.8ZM1536.8 1777.3H1556.9V1797.1H1536.8ZM1456.4 1836.6H1496.6V1856.3H1456.4ZM1436.3 1856.3H1496.6V1876.1H1436.3ZM1436.3 1876.1H1496.6V1895.9H1436.3ZM1456.4 1895.9H1496.6V1915.6H1456.4ZM1335.8 1915.6H1355.9V1935.4H1335.8ZM1516.7 1915.6H1536.8V1935.4H1516.7ZM1315.7 1935.4H1376V1955.1H1315.7ZM1335.8 1955.1H1376V1974.9H1335.8ZM1335.8 1974.9H1396.1V1994.7H1335.8ZM1416.2 1974.9H1496.6V1994.7H1416.2ZM1355.9 1994.7H1396.1V2014.4H1355.9ZM1516.7 1994.7H1536.8V2014.4H1516.7ZM994.1 2014.4H1014.2V2034.2H994.1ZM1355.9 2034.2H1376V2053.9H1355.9ZM1054.4 2053.9H1074.5V2073.7H1054.4ZM1295.6 2053.9H1315.7V2073.7H1295.6ZM1175 2073.7H1195.1V2093.4H1175Z"/><path fill="#80ff80" d="M1536.8 1658.8H1556.9V1678.5H1536.8ZM1536.8 1678.5H1556.9V1698.3H1536.8ZM1536.8 1895.9H1556.9V1915.6H1536.8ZM1556.9 1935.4H1577V1955.1H1556.9ZM1556.9 1955.1H1577V1974.9H1556.9ZM1556.9 1974.9H1577V1994.7H1556.9ZM1436.3 1994.7H1456.4V2014.4H1436.3ZM974 2014.4H994.1V2034.2H974ZM1396.1 2034.2H1416.2V2053.9H1396.1ZM1416.2 2073.7H1436.3V2093.4H1416.2Z"/><path fill="#9fff60" d="M1556.9 1658.8H1577V1678.5H1556.9ZM1556.9 1678.5H1577V1698.3H1556.9Z"/><path fill="#0dfff2" d="M974 1678.5H994.1V1698.3H974ZM1476.5 1816.8H1496.6V1836.6H1476.5ZM1416.2 1856.3H1436.3V1876.1H1416.2ZM1376 1895.9H1436.3V1915.6H1376ZM1396.1 1915.6H1416.2V1935.4H1396.1ZM1416.2 1955.1H1516.7V1974.9H1416.2ZM1335.8 1994.7H1355.9V2014.4H1335.8ZM1335.8 2034.2H1355.9V2053.9H1335.8ZM1074.5 2053.9H1094.6V2073.7H1074.5ZM1335.8 2053.9H1355.9V2073.7H1335.8Z"/><path fill="#0000df" d="M1054.4 1678.5H1074.5V1698.3H1054.4ZM1114.7 1678.5H1134.8V1698.3H1114.7ZM1054.4 1698.3H1074.5V1718H1054.4ZM1114.7 1698.3H1154.9V1718H1114.7Z"/><path fill="#0000cc" d="M1074.5 1678.5H1114.7V1698.3H1074.5ZM1074.5 1698.3H1114.7V1718H1074.5ZM994.1 1935.4H1014.2V1955.1H994.1ZM994.1 1955.1H1014.2V1974.9H994.1Z"/><path fill="#0020ff" d="M1275.5 1678.5H1295.6V1698.3H1275.5ZM974 1974.9H1014.2V1994.7H974Z"/><path fill="#0033ff" d="M1295.6 1678.5H1335.8V1698.3H1295.6ZM1436.3 1678.5H1456.4V1698.3H1436.3ZM1295.6 1698.3H1335.8V1718H1295.6ZM1396.1 1698.3H1416.2V1718H1396.1ZM1295.6 1718H1315.7V1737.8H1295.6ZM1396.1 1718H1416.2V1737.8H1396.1ZM1074.5 1737.8H1175V1757.6H1074.5ZM1295.6 1737.8H1315.7V1757.6H1295.6ZM1215.2 1757.6H1295.6V1777.3H1215.2ZM1456.4 1757.6H1476.5V1777.3H1456.4ZM1054.4 1856.3H1074.5V1876.1H1054.4ZM1034.3 1974.9H1054.4V1994.7H1034.3ZM1134.8 2014.4H1154.9V2034.2H1134.8Z"/><path fill="#0039ff" d="M1335.8 1678.5H1376V1698.3H1335.8ZM1396.1 1678.5H1416.2V1698.3H1396.1ZM1456.4 1678.5H1476.5V1698.3H1456.4ZM1335.8 1698.3H1376V1718H1335.8ZM1315.7 1718H1335.8V1737.8H1315.7ZM1054.4 1797.1H1094.6V1816.8H1054.4ZM1074.5 1816.8H1094.6V1836.6H1074.5ZM1074.5 1836.6H1094.6V1856.3H1074.5ZM1034.3 1876.1H1074.5V1895.9H1034.3ZM1034.3 1895.9H1074.5V1915.6H1034.3ZM1034.3 1915.6H1074.5V1935.4H1034.3ZM1054.4 1935.4H1074.5V1955.1H1054.4ZM1054.4 1955.1H1074.5V1974.9H1054.4Z"/><path fill="#0026ff" d="M1376 1678.5H1396.1V1698.3H1376ZM1416.2 1678.5H1436.3V1698.3H1416.2ZM1376 1698.3H1396.1V1718H1376Z"/><path fill="#0079ff" d="M1476.5 1678.5H1496.6V1698.3H1476.5ZM1114.7 1876.1H1134.8V1895.9H1114.7Z"/><path fill="#0000f2" d="M994.1 1698.3H1034.3V1718H994.1ZM1154.9 1698.3H1195.1V1718H1154.9ZM1255.4 1698.3H1275.5V1718H1255.4ZM974 1718H994.1V1737.8H974ZM1014.2 1718H1054.4V1737.8H1014.2ZM1094.6 1718H1195.1V1737.8H1094.6ZM1255.4 1718H1275.5V1737.8H1255.4ZM994.1 1737.8H1034.3V1757.6H994.1ZM994.1 1757.6H1034.3V1777.3H994.1ZM994.1 1777.3H1034.3V1797.1H994.1ZM1014.2 1797.1H1034.3V1816.8H1014.2ZM994.1 1816.8H1034.3V1836.6H994.1ZM994.1 1836.6H1014.2V1856.3H994.1ZM994.1 1856.3H1014.2V1876.1H994.1ZM994.1 1876.1H1014.2V1895.9H994.1ZM994.1 1895.9H1014.2V1915.6H994.1ZM994.1 1915.6H1014.2V1935.4H994.1ZM1014.2 1935.4H1034.3V1955.1H1014.2Z"/><path fill="#0000d2" d="M1034.3 1698.3H1054.4V1718H1034.3ZM974 1777.3H994.1V1797.1H974ZM974 1797.1H994.1V1816.8H974ZM974 1816.8H994.1V1836.6H974ZM974 1915.6H994.1V1935.4H974ZM974 1955.1H994.1V1974.9H974ZM1014.2 1955.1H1034.3V1974.9H1014.2Z"/><path fill="#0000ec" d="M1195.1 1698.3H1215.2V1718H1195.1ZM994.1 1718H1014.2V1737.8H994.1ZM1195.1 1718H1215.2V1737.8H1195.1ZM1235.3 1718H1255.4V1737.8H1235.3ZM974 1737.8H994.1V1757.6H974Z"/><path fill="#0000e6" d="M1215.2 1698.3H1255.4V1718H1215.2ZM1215.2 1718H1235.3V1737.8H1215.2Z"/><path fill="#00ffff" d="M1516.7 1698.3H1536.8V1718H1516.7ZM1516.7 1777.3H1536.8V1797.1H1516.7ZM1416.2 1836.6H1436.3V1856.3H1416.2ZM1376 1876.1H1416.2V1895.9H1376ZM1355.9 1895.9H1376V1915.6H1355.9ZM1295.6 1915.6H1315.7V1935.4H1295.6ZM1416.2 1915.6H1436.3V1935.4H1416.2ZM1476.5 1915.6H1496.6V1935.4H1476.5ZM1496.6 1935.4H1516.7V1955.1H1496.6ZM1295.6 1974.9H1315.7V1994.7H1295.6ZM1195.1 2034.2H1215.2V2053.9H1195.1ZM1235.3 2034.2H1255.4V2053.9H1235.3ZM1315.7 2034.2H1335.8V2053.9H1315.7Z"/><path fill="#0006ff" d="M1275.5 1718H1295.6V1737.8H1275.5ZM1235.3 1737.8H1255.4V1757.6H1235.3ZM1275.5 1737.8H1295.6V1757.6H1275.5ZM1034.3 1816.8H1054.4V1836.6H1034.3ZM1034.3 1856.3H1054.4V1876.1H1034.3Z"/><path fill="#00e5ff" d="M1516.7 1718H1536.8V1737.8H1516.7ZM1516.7 1737.8H1536.8V1757.6H1516.7ZM1516.7 1757.6H1536.8V1777.3H1516.7ZM1396.1 1797.1H1496.6V1816.8H1396.1ZM1376 1816.8H1416.2V1836.6H1376ZM1355.9 1836.6H1416.2V1856.3H1355.9ZM1315.7 1876.1H1335.8V1895.9H1315.7ZM1094.6 2053.9H1114.7V2073.7H1094.6Z"/><path fill="#0046ff" d="M1315.7 1737.8H1335.8V1757.6H1315.7ZM1074.5 1757.6H1134.8V1777.3H1074.5ZM1074.5 1777.3H1114.7V1797.1H1074.5ZM1215.2 1777.3H1255.4V1797.1H1215.2ZM1094.6 1797.1H1114.7V1816.8H1094.6ZM1094.6 1836.6H1114.7V1856.3H1094.6Z"/><path fill="#0000d9" d="M974 1757.6H994.1V1777.3H974ZM994.1 1797.1H1014.2V1816.8H994.1ZM974 1836.6H994.1V1856.3H974ZM974 1856.3H994.1V1876.1H974ZM974 1876.1H994.1V1895.9H974ZM974 1895.9H994.1V1915.6H974Z"/><path fill="#0053ff" d="M1476.5 1757.6H1496.6V1777.3H1476.5Z"/><path fill="#00acff" d="M1335.8 1777.3H1436.3V1797.1H1335.8ZM1175 1836.6H1215.2V1856.3H1175ZM1195.1 1856.3H1215.2V1876.1H1195.1ZM1255.4 1856.3H1275.5V1876.1H1255.4ZM1255.4 1876.1H1295.6V1895.9H1255.4ZM1255.4 1895.9H1275.5V1915.6H1255.4ZM1255.4 1915.6H1275.5V1935.4H1255.4ZM1235.3 1935.4H1255.4V1955.1H1235.3ZM1195.1 1955.1H1255.4V1974.9H1195.1ZM1074.5 1974.9H1114.7V1994.7H1074.5ZM1195.1 1974.9H1215.2V1994.7H1195.1ZM1034.3 1994.7H1054.4V2014.4H1034.3ZM1275.5 1994.7H1295.6V2014.4H1275.5ZM1054.4 2014.4H1094.6V2034.2H1054.4ZM1275.5 2014.4H1295.6V2034.2H1275.5Z"/><path fill="#00d2ff" d="M1376 1797.1H1396.1V1816.8H1376ZM1295.6 1994.7H1315.7V2014.4H1295.6ZM1295.6 2014.4H1315.7V2034.2H1295.6Z"/><path fill="#33ffcc" d="M1516.7 1797.1H1536.8V1816.8H1516.7ZM1496.6 1816.8H1516.7V1836.6H1496.6ZM1315.7 1915.6H1335.8V1935.4H1315.7ZM1355.9 1915.6H1376V1935.4H1355.9ZM1295.6 1935.4H1315.7V1955.1H1295.6ZM1516.7 1935.4H1536.8V1955.1H1516.7ZM1315.7 1955.1H1335.8V1974.9H1315.7ZM1376 1955.1H1396.1V1974.9H1376ZM1516.7 1955.1H1536.8V1974.9H1516.7ZM1396.1 1974.9H1416.2V1994.7H1396.1ZM1496.6 1974.9H1536.8V1994.7H1496.6ZM1355.9 2014.4H1376V2034.2H1355.9ZM1376 2053.9H1416.2V2073.7H1376Z"/><path fill="#4dffb2" d="M1536.8 1797.1H1556.9V1816.8H1536.8ZM1516.7 1816.8H1536.8V1836.6H1516.7ZM1496.6 1836.6H1516.7V1856.3H1496.6ZM1496.6 1856.3H1516.7V1876.1H1496.6ZM1536.8 1935.4H1556.9V1955.1H1536.8ZM1536.8 1955.1H1556.9V1974.9H1536.8ZM1536.8 1974.9H1556.9V1994.7H1536.8ZM1396.1 1994.7H1416.2V2014.4H1396.1ZM1376 2014.4H1396.1V2034.2H1376Z"/><path fill="#00f9ff" d="M1416.2 1816.8H1476.5V1836.6H1416.2ZM1114.7 2053.9H1134.8V2073.7H1114.7Z"/><path fill="#00b9ff" d="M1315.7 1836.6H1335.8V1856.3H1315.7ZM1034.3 2014.4H1054.4V2034.2H1034.3ZM1235.3 2014.4H1255.4V2034.2H1235.3Z"/><path fill="#13ffec" d="M1436.3 1836.6H1456.4V1856.3H1436.3ZM1416.2 1876.1H1436.3V1895.9H1416.2ZM1436.3 1895.9H1456.4V1915.6H1436.3ZM1496.6 1915.6H1516.7V1935.4H1496.6ZM1396.1 1935.4H1416.2V1955.1H1396.1ZM1295.6 1955.1H1315.7V1974.9H1295.6ZM1396.1 1955.1H1416.2V1974.9H1396.1ZM1315.7 1974.9H1335.8V1994.7H1315.7ZM1215.2 2034.2H1235.3V2053.9H1215.2ZM1315.7 2053.9H1335.8V2073.7H1315.7ZM1355.9 2053.9H1376V2073.7H1355.9Z"/><path fill="#66ff99" d="M1516.7 1836.6H1556.9V1856.3H1516.7ZM1516.7 1856.3H1556.9V1876.1H1516.7ZM1516.7 1876.1H1556.9V1895.9H1516.7ZM1516.7 1895.9H1536.8V1915.6H1516.7ZM1536.8 1915.6H1556.9V1935.4H1536.8Z"/><path fill="#0000f9" d="M1014.2 1856.3H1034.3V1876.1H1014.2Z"/><path fill="#20ffdf" d="M1376 1915.6H1396.1V1935.4H1376Z"/><path fill="#93ff6c" d="M1556.9 1915.6H1577V1935.4H1556.9ZM1556.9 1994.7H1577V2014.4H1556.9ZM1416.2 2014.4H1436.3V2034.2H1416.2ZM994.1 2034.2H1014.2V2053.9H994.1ZM1416.2 2034.2H1436.3V2053.9H1416.2ZM1315.7 2073.7H1335.8V2093.4H1315.7ZM1416.2 2093.4H1436.3V2113.2H1416.2Z"/><path fill="#0000ac" d="M974 1935.4H994.1V1955.1H974Z"/><path fill="#2dffd2" d="M1376 1935.4H1396.1V1955.1H1376Z"/><path fill="#00ccff" d="M1275.5 1974.9H1295.6V1994.7H1275.5ZM1215.2 1994.7H1235.3V2014.4H1215.2Z"/><path fill="#73ff8c" d="M1416.2 1994.7H1436.3V2014.4H1416.2ZM1456.4 1994.7H1496.6V2014.4H1456.4ZM1516.7 2014.4H1536.8V2034.2H1516.7ZM1376 2034.2H1396.1V2053.9H1376Z"/><path fill="#b3ff4c" d="M1436.3 2014.4H1496.6V2034.2H1436.3ZM1436.3 2034.2H1456.4V2053.9H1436.3ZM1516.7 2034.2H1536.8V2053.9H1516.7ZM1215.2 2053.9H1275.5V2073.7H1215.2ZM1456.4 2053.9H1476.5V2073.7H1456.4ZM1114.7 2073.7H1134.8V2093.4H1114.7ZM1215.2 2073.7H1235.3V2093.4H1215.2ZM1355.9 2073.7H1416.2V2093.4H1355.9ZM1456.4 2073.7H1476.5V2093.4H1456.4ZM1175 2093.4H1195.1V2113.2H1175Z"/><path fill="#8cff73" d="M1496.6 2014.4H1516.7V2034.2H1496.6ZM1275.5 2053.9H1295.6V2073.7H1275.5ZM1436.3 2053.9H1456.4V2073.7H1436.3ZM1436.3 2073.7H1456.4V2093.4H1436.3Z"/><path fill="#f2ff0d" d="M1536.8 2014.4H1556.9V2034.2H1536.8ZM1476.5 2053.9H1496.6V2073.7H1476.5ZM1275.5 2073.7H1295.6V2093.4H1275.5ZM1416.2 2113.2H1436.3V2133H1416.2ZM1416.2 2133H1436.3V2152.7H1416.2Z"/><path fill="#fff200" d="M1556.9 2014.4H1577V2034.2H1556.9ZM1556.9 2034.2H1577V2053.9H1556.9ZM1516.7 2053.9H1536.8V2073.7H1516.7ZM1034.3 2073.7H1054.4V2093.4H1034.3ZM1436.3 2093.4H1476.5V2113.2H1436.3ZM1436.3 2133H1456.4V2152.7H1436.3Z"/><path fill="#d2ff2d" d="M974 2034.2H994.1V2053.9H974ZM1456.4 2034.2H1516.7V2053.9H1456.4ZM994.1 2053.9H1014.2V2073.7H994.1ZM1094.6 2073.7H1114.7V2093.4H1094.6ZM1255.4 2073.7H1275.5V2093.4H1255.4Z"/><path fill="#bfff40" d="M1536.8 2034.2H1556.9V2053.9H1536.8ZM1295.6 2073.7H1315.7V2093.4H1295.6ZM1195.1 2093.4H1215.2V2113.2H1195.1Z"/><path fill="#ff8000" d="M1556.9 2053.9H1577V2073.7H1556.9ZM1215.2 2113.2H1235.3V2133H1215.2ZM1456.4 2113.2H1476.5V2133H1456.4ZM1456.4 2133H1476.5V2152.7H1456.4ZM1436.3 2152.7H1456.4V2172.5H1436.3Z"/><path fill="#ac0000" d="M974 2073.7H994.1V2093.4H974Z"/><path fill="#ec0000" d="M994.1 2073.7H1014.2V2093.4H994.1ZM1556.9 2093.4H1577V2113.2H1556.9ZM1355.9 2113.2H1376V2133H1355.9ZM1175 2133H1215.2V2152.7H1175Z"/><path fill="#ff2000" d="M1014.2 2073.7H1034.3V2093.4H1014.2ZM1275.5 2093.4H1295.6V2113.2H1275.5ZM1396.1 2093.4H1416.2V2113.2H1396.1ZM1235.3 2113.2H1255.4V2133H1235.3ZM1154.9 2133H1175V2152.7H1154.9ZM1396.1 2133H1416.2V2152.7H1396.1ZM1456.4 2152.7H1476.5V2172.5H1456.4Z"/><path fill="#ff9f00" d="M1054.4 2073.7H1074.5V2093.4H1054.4ZM1496.6 2073.7H1516.7V2093.4H1496.6ZM1235.3 2093.4H1255.4V2113.2H1235.3ZM1496.6 2093.4H1516.7V2113.2H1496.6ZM1175 2113.2H1195.1V2133H1175ZM1476.5 2113.2H1496.6V2133H1476.5Z"/><path fill="#ffbf00" d="M1074.5 2073.7H1094.6V2093.4H1074.5ZM1516.7 2073.7H1536.8V2093.4H1516.7ZM1195.1 2113.2H1215.2V2133H1195.1ZM1436.3 2113.2H1456.4V2133H1436.3ZM1476.5 2133H1496.6V2152.7H1476.5Z"/><path fill="#ccff33" d="M1235.3 2073.7H1255.4V2093.4H1235.3Z"/><path fill="#ffac00" d="M1536.8 2073.7H1556.9V2093.4H1536.8Z"/><path fill="#ff4c00" d="M1556.9 2073.7H1577V2093.4H1556.9Z"/><path fill="#800000" d="M974 2093.4H1114.7V2113.2H974ZM974 2113.2H1134.8V2133H974ZM1275.5 2113.2H1355.9V2133H1275.5ZM1556.9 2113.2H1577V2133H1556.9ZM974 2133H1134.8V2152.7H974ZM1215.2 2133H1376V2152.7H1215.2ZM1516.7 2133H1577V2152.7H1516.7ZM974 2152.7H1416.2V2172.5H974ZM1496.6 2152.7H1577V2172.5H1496.6ZM974 2172.5H1577V2192.2H974ZM974 2192.2H1577V2212H974Z"/><path fill="#ff7300" d="M1255.4 2093.4H1275.5V2113.2H1255.4Z"/><path fill="#ff6000" d="M1315.7 2093.4H1335.8V2113.2H1315.7ZM1516.7 2093.4H1536.8V2113.2H1516.7ZM1376 2113.2H1416.2V2133H1376Z"/><path fill="#ff4000" d="M1335.8 2093.4H1355.9V2113.2H1335.8ZM1536.8 2093.4H1556.9V2113.2H1536.8ZM1134.8 2113.2H1154.9V2133H1134.8ZM1416.2 2152.7H1436.3V2172.5H1416.2ZM1476.5 2152.7H1496.6V2172.5H1476.5Z"/><path fill="#f20000" d="M1355.9 2093.4H1376V2113.2H1355.9Z"/><path fill="#df0000" d="M1255.4 2113.2H1275.5V2133H1255.4ZM1536.8 2113.2H1556.9V2133H1536.8ZM1376 2133H1396.1V2152.7H1376Z"/><path fill="#bf0000" d="M1516.7 2113.2H1536.8V2133H1516.7ZM1134.8 2133H1154.9V2152.7H1134.8ZM1496.6 2133H1516.7V2152.7H1496.6Z"/></g></g>
<rect x="974.0" y="1639.0" width="603.0" height="573.0" fill="none" stroke="#262626" stroke-width="2.0"/>
<path d="M985.0 2212.0v-6.0M985.0 1639.0v6.0M1118.8 2212.0v-6.0M1118.8 1639.0v6.0M1252.5 2212.0v-6.0M1252.5 1639.0v6.0M1386.2 2212.0v-6.0M1386.2 1639.0v6.0M1520.0 2212.0v-6.0M1520.0 1639.0v6.0M974.0 1642.0h6.0M1577.0 1642.0h-6.0M974.0 1776.4h6.0M1577.0 1776.4h-6.0M974.0 1910.8h6.0M1577.0 1910.8h-6.0M974.0 2045.2h6.0M1577.0 2045.2h-6.0M974.0 2179.6h6.0M1577.0 2179.6h-6.0" stroke="#262626" stroke-width="1.5" fill="none"/>
<text transform="translate(985.0 2285.0) scale(0.93 1)" font-size="48.0" text-anchor="middle" fill="#262626">2</text>
<text transform="translate(1118.8 2285.0) scale(0.93 1)" font-size="48.0" text-anchor="middle" fill="#262626">4</text>
<text transform="translate(1252.5 2285.0) scale(0.93 1)" font-size="48.0" text-anchor="middle" fill="#262626">6</text>
<text transform="translate(1386.2 2285.0) scale(0.93 1)" font-size="48.0" text-anchor="middle" fill="#262626">8</text>
<text transform="translate(1520.0 2285.0) scale(0.93 1)" font-size="48.0" text-anchor="middle" fill="#262626">10</text>
<text transform="translate(957.0 1662.5) scale(0.93 1)" font-size="48.0" text-anchor="end" fill="#262626">2</text>
<text transform="translate(957.0 1796.9) scale(0.93 1)" font-size="48.0" text-anchor="end" fill="#262626">4</text>
<text transform="translate(957.0 1931.3) scale(0.93 1)" font-size="48.0" text-anchor="end" fill="#262626">6</text>
<text transform="translate(957.0 2065.7) scale(0.93 1)" font-size="48.0" text-anchor="end" fill="#262626">8</text>
<text transform="translate(957.0 2200.1) scale(0.93 1)" font-size="48.0" text-anchor="end" fill="#262626">10</text>
<text x="1273.0" y="2345.0" font-size="50.4" text-anchor="middle" fill="#262626">X [mm]</text>
<text transform="translate(902.5,1928.0) rotate(-90) scale(0.97 1)" font-size="52.8" text-anchor="middle" fill="#262626">Z [mm]</text>
<rect x="1594.0" y="1642.0" width="38.0" height="573.0" fill="url(#cb_jet)" stroke="#262626" stroke-width="1.5"/>
<text x="1649.0" y="2229.3" font-size="40.0" text-anchor="start" fill="#262626">2</text>
<text x="1649.0" y="2114.7" font-size="40.0" text-anchor="start" fill="#262626">2.1</text>
<text x="1649.0" y="2000.1" font-size="40.0" text-anchor="start" fill="#262626">2.2</text>
<text x="1649.0" y="1885.5" font-size="40.0" text-anchor="start" fill="#262626">2.3</text>
<text x="1649.0" y="1770.9" font-size="40.0" text-anchor="start" fill="#262626">2.4</text>
<text x="1649.0" y="1656.3" font-size="40.0" text-anchor="start" fill="#262626">2.5</text>
<path d="M1632.0 2215.0h-5M1632.0 2100.4h-5M1632.0 1985.8h-5M1632.0 1871.2h-5M1632.0 1756.6h-5M1632.0 1642.0h-5" stroke="#262626" stroke-width="1.5" fill="none"/>
<text transform="translate(931.0 1591.0) scale(0.95 1)" font-size="43.0" text-anchor="start" fill="#000">f)</text>
</g>
</svg>
</body></html>
